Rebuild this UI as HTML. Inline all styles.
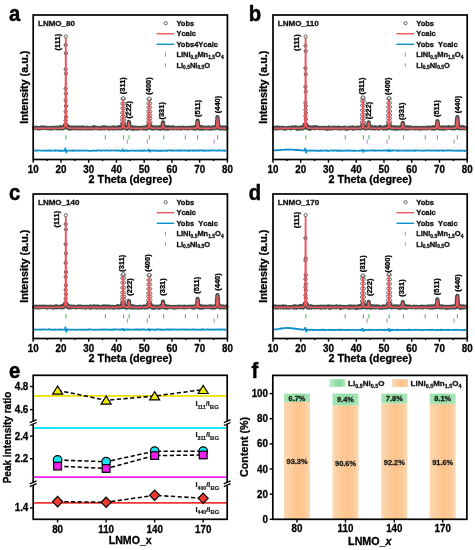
<!DOCTYPE html>
<html><head><meta charset="utf-8"><style>
html,body{margin:0;padding:0;background:#fff;}
svg{display:block;will-change:transform;font-family:"Liberation Sans", sans-serif;}
</style></head><body>
<svg width="475" height="550" viewBox="0 0 475 550">
<rect width="475" height="550" fill="#fff"/>
<g transform="translate(0 0)">
<text transform="translate(8.9 20.6) scale(0.92 1)" font-size="22" font-weight="bold" fill="#000" stroke="#000" stroke-width="0.5">a</text>
<text x="38" y="25.5" font-size="8" text-anchor="start" font-weight="bold" fill="#111" stroke="#111" stroke-width="0.3">LNMO_80</text>
<circle cx="165.7" cy="23.2" r="1.6" fill="none" stroke="#555" stroke-width="0.9"/>
<text x="176.4" y="25.8" font-size="7.5" text-anchor="start" font-weight="bold" fill="#111" stroke="#111" stroke-width="0.3">Yobs</text>
<line x1="156.7" y1="33.7" x2="174.2" y2="33.7" stroke="#ea585e" stroke-width="1.4"/>
<text x="176.4" y="36.2" font-size="7.5" text-anchor="start" font-weight="bold" fill="#111" stroke="#111" stroke-width="0.3">Ycalc</text>
<line x1="156.7" y1="44.3" x2="174.2" y2="44.3" stroke="#0a8fca" stroke-width="1.4"/>
<text x="176.4" y="46.7" font-size="7.5" text-anchor="start" font-weight="bold" fill="#111" xml:space="preserve" stroke="#111" stroke-width="0.3">Yobs4Ycalc</text>
<line x1="165.5" y1="52.6" x2="165.5" y2="56.4" stroke="#4fbf5f" stroke-width="1"/>
<text x="176.4" y="57" font-size="7.5" text-anchor="start" font-weight="bold" fill="#111" stroke="#111" stroke-width="0.3">LiNi<tspan font-size="4.9" dy="1.9">0.5</tspan><tspan dy="-1.9">Mn</tspan><tspan font-size="4.9" dy="1.9">1.5</tspan><tspan dy="-1.9">O</tspan><tspan font-size="4.9" dy="1.9">4</tspan></text>
<line x1="165.5" y1="63.2" x2="165.5" y2="67.0" stroke="#b98ad8" stroke-width="1"/>
<text x="176.4" y="67.5" font-size="7.5" text-anchor="start" font-weight="bold" fill="#111" stroke="#111" stroke-width="0.3">Li<tspan font-size="4.9" dy="1.9">0.5</tspan><tspan dy="-1.9">Ni</tspan><tspan font-size="4.9" dy="1.9">0.5</tspan><tspan dy="-1.9">O</tspan></text>
<polyline points="34,127.92 34.6,128.15 35.2,127.93 35.8,127.9 36.4,127.72 37,127.93 37.6,128.33 38.2,128.12 38.8,128.31 39.4,128.07 40,128.11 40.6,128.05 41.2,127.5 41.8,128.25 42.4,128.15 43,128.14 43.6,127.49 44.2,127.47 44.8,127.73 45.4,127.85 46,128.09 46.6,127.98 47.2,128.15 47.8,127.8 48.4,128.08 49,128.11 49.6,127.79 50.2,128.51 50.8,128.16 51.4,128.35 52,127.8 52.6,127.76 53.2,127.88 53.8,127.95 54.4,128.17 55,128.05 55.6,127.84 56.2,127.69 56.8,127.81 57.4,128.33 58,127.72 58.6,128.03 59.2,128.07 59.8,127.49 60,127.95 60.2,128.32 60.4,127.32 60.6,127.82 60.8,127.88 61,127.65 61.2,128.04 61.4,127.86 61.6,127.43 61.8,128.1 62,128.04 62.2,128.1 62.4,128.23 62.6,127.88 62.8,127.78 62.85,127.34 62.9,127.91 62.95,127.53 63,127.57 63.05,127.32 63.1,127.39 63.15,127.51 63.2,128.05 63.25,127.04 63.3,127.19 63.35,127.69 63.4,128.03 63.45,127.76 63.5,127 63.55,126.79 63.6,127.63 63.65,127.28 63.7,127.14 63.75,127.75 63.8,127.76 63.85,127.44 63.9,127.44 63.95,127.46 64,127.77 64.05,127.44 64.1,127.37 64.15,127.33 64.2,126.64 64.25,127.44 64.3,127.28 64.35,127.08 64.4,126.25 64.45,126.57 64.5,126.92 64.55,126.02 64.6,126.39 64.65,126.62 64.7,125.77 64.75,126.47 64.8,125.96 64.85,125.52 64.9,125.4 64.95,125.19 65,125.04 65.05,125.34 65.1,124.8 65.15,124.87 65.2,125.31 65.25,125.01 65.3,124.74 65.35,125.28 65.4,125.44 65.45,124.87 65.5,124.59 65.55,124.96 65.6,124.95 65.65,124.91 65.7,125.42 65.75,124.69 65.8,125.38 65.85,124.62 65.9,124.76 65.95,125.19 66,125.34 66.05,125.26 66.1,125.1 66.15,125.04 66.2,125.05 66.25,125.17 66.3,124.95 66.35,125.08 66.4,125.17 66.45,125 66.5,125.23 66.55,125.17 66.6,125.6 66.65,125.1 66.7,125.18 66.75,125.45 66.8,125.79 66.85,126.27 66.9,126.06 66.95,126.43 67,127 67.05,125.79 67.1,126.33 67.15,126.83 67.2,126.97 67.25,126.99 67.3,126.86 67.35,127.25 67.4,127.2 67.45,127.01 67.5,127.94 67.55,127.36 67.6,127.13 67.65,127.3 67.7,127.3 67.75,127.38 67.8,126.61 67.85,127.31 67.9,127.78 67.95,127.15 68,127.51 68.05,127.83 68.1,127.82 68.15,128.03 68.2,127.09 68.25,127.51 68.3,127.53 68.35,127.83 68.4,127.99 68.45,126.87 68.5,128.01 68.55,127.26 68.6,127.91 68.65,127.27 68.7,127.78 68.75,128.09 68.8,127.7 68.85,127.81 69.05,128.02 69.25,127.85 69.45,127.8 69.65,128.3 69.85,128.17 70.05,127.78 70.25,128.71 70.45,127.55 70.65,128.18 70.85,127.83 71.05,127.95 71.25,128.13 71.45,127.99 71.65,128.12 71.85,127.48 72.45,127.49 73.05,128.14 73.65,127.67 74.25,127.66 74.85,127.53 75.45,128.35 76.05,128.2 76.65,128.42 77.25,127.7 77.85,127.98 78.45,127.64 79.05,128.22 79.65,128.46 80.25,127.72 80.85,128.46 81.45,128.29 82.05,127.94 82.65,127.4 83.25,128.41 83.85,127.96 84.45,127.81 85.05,128.11 85.65,128.12 86.25,128.44 86.85,127.69 87.45,128.33 88.05,128.44 88.65,128.43 89.25,127.94 89.85,127.77 90.45,128.3 91.05,128.03 91.65,128.03 92.25,128.42 92.85,127.92 93.45,127.31 94.05,127.88 94.65,127.44 95.25,128.24 95.85,128.09 96.45,127.81 97.05,127.99 97.65,128.25 98.25,128.02 98.85,128.39 99.45,127.98 100.05,128.31 100.65,128.44 101.25,128.48 101.85,127.79 102.45,128.26 103.05,127.43 103.65,127.67 104.25,127.41 104.85,128.32 105.45,127.62 106.05,127.99 106.65,127.94 107.25,127.98 107.85,127.82 108.45,128.06 109.05,128.53 109.65,128.01 110.25,128.15 110.85,128.29 111.45,127.93 112.05,127.61 112.65,127.82 113.25,128.31 113.85,127.49 114.45,127.8 115.05,128.28 115.65,128.22 116.25,127.98 116.85,128.21 117.45,128.02 117.65,127.61 117.85,127.49 118.05,127.77 118.25,128.23 118.45,127.78 118.65,127.68 118.85,127.71 119.05,127.48 119.25,127.9 119.45,127.57 119.65,128.03 119.85,127.2 120.05,128 120.25,127.7 120.3,127.3 120.35,128.1 120.4,127.79 120.45,127.2 120.5,127.6 120.55,127.95 120.6,127.72 120.65,128.09 120.7,128.07 120.75,128.04 120.8,127.93 120.85,128.23 120.9,128.02 120.95,127.95 121,127.18 121.05,128.06 121.1,128.18 121.15,127.69 121.2,127.62 121.25,128.34 121.3,127.21 121.35,127.87 121.4,128.44 121.45,127.42 121.5,127.89 121.55,128.23 121.6,127.6 121.65,127.79 121.7,127.86 121.75,127.29 121.8,127.51 121.85,127.59 121.9,127.71 121.95,127.41 122,127.32 122.05,127.02 122.1,127.16 122.15,127.47 122.2,127.15 122.25,126.78 122.3,126.68 122.35,127.61 122.4,127.01 122.45,126.68 122.5,125.48 122.55,126.14 122.6,125.68 122.65,125.49 122.7,125.12 122.75,124.97 122.8,125.14 122.85,124.4 122.9,125.3 122.95,125.09 123,124.78 123.05,125.38 123.1,125.53 123.15,124.57 123.2,124.79 123.25,125.07 123.3,125.04 123.35,124.87 123.4,124.69 123.45,125.62 123.5,125.3 123.55,124.63 123.6,124.58 123.65,125.5 123.7,125.28 123.75,125.53 123.8,125.77 123.85,125.69 123.9,126.33 123.95,125.83 124,126.43 124.05,126.79 124.1,127.08 124.15,126.81 124.2,127.08 124.25,127.33 124.3,127.37 124.35,127.51 124.4,127.43 124.45,127.32 124.5,127.69 124.55,127.5 124.6,127.27 124.65,127.36 124.7,127.58 124.75,127.57 124.8,127.67 124.85,127.65 124.9,127.72 124.95,127.64 125,127.32 125.05,127.84 125.1,128.04 125.15,127.86 125.2,127.69 125.25,127.89 125.3,127.47 125.35,127.2 125.4,127.8 125.45,127.51 125.5,128.02 125.55,127.48 125.6,127.02 125.65,127.5 125.7,128.29 125.75,127.71 125.8,127.42 125.85,127.6 125.9,127.99 125.95,127.99 126,127.89 126.05,128.29 126.1,128.06 126.15,127.84 126.2,128.03 126.25,128.35 126.3,128.14 126.35,128.16 126.4,127.53 126.45,127.81 126.5,128.07 126.55,127.77 126.6,128.17 126.65,128.03 126.7,128.13 126.75,127.79 126.8,128.61 126.85,128.22 126.9,127.78 126.95,127.87 127,128.62 127.05,127.73 127.1,128.1 127.15,128.12 127.2,127.83 127.25,127.47 127.3,127.87 127.35,127.92 127.4,128.14 127.45,128.03 127.5,127.79 127.55,128.03 127.6,127.92 127.65,127.81 127.7,127.75 127.75,127.64 127.8,127.9 127.85,127.35 127.9,127.45 127.95,127.61 128,127.12 128.05,127.37 128.1,126.83 128.15,127.14 128.2,127.4 128.25,127.24 128.3,126.87 128.35,126.58 128.4,125.94 128.45,126.57 128.5,125.77 128.55,125.49 128.6,124.4 128.65,124.09 128.7,123.08 128.75,123.37 128.8,123.01 128.85,121.89 128.9,122.35 128.95,122.65 129,122.21 129.05,122.59 129.1,123.31 129.15,123.96 129.2,124.25 129.25,125.18 129.3,125.7 129.35,126.22 129.4,126.58 129.45,127.11 129.5,127.25 129.55,126.69 129.6,127.09 129.65,127.04 129.7,127.13 129.75,127.5 129.8,127.58 129.85,127.77 129.9,127.18 129.95,127.32 130,127.71 130.05,127.68 130.1,127.66 130.15,127.75 130.2,127.56 130.25,128.01 130.3,127.92 130.35,127.8 130.4,127.63 130.45,127.79 130.5,127.03 130.55,127.56 130.6,127.88 130.65,127.42 130.7,127.94 130.75,127.93 130.8,127.47 130.85,127.82 130.9,127.8 130.95,128.04 131,128.09 131.05,127.9 131.1,127.66 131.15,127.87 131.2,127.9 131.25,128.14 131.3,128.01 131.35,127.71 131.4,127.52 131.45,127.82 131.5,127.71 131.55,127.6 131.6,127.9 131.65,127.79 131.7,127.97 131.75,128.1 131.8,127.82 131.85,128.64 131.9,127.85 131.95,128.28 132.15,127.99 132.35,128.29 132.55,127.25 132.75,127.74 132.95,128.04 133.15,128.15 133.35,128.67 133.55,128.07 133.75,128.36 133.95,128.2 134.15,128.26 134.35,128.13 134.55,127.93 134.75,128.13 134.95,127.65 135.55,128.33 136.15,127.68 136.75,128.06 137.35,128.62 137.95,127.91 138.55,127.99 139.15,128.33 139.75,127.99 140.35,127.74 140.95,128.05 141.55,128.15 142.15,128.19 142.75,127.74 143.35,128.49 143.55,128.46 143.75,127.96 143.95,128.04 144.15,127.82 144.35,128.37 144.55,127.73 144.75,128.14 144.95,127.79 145.15,127.72 145.35,128.14 145.55,128.32 145.75,127.91 145.95,127.69 146.15,128.13 146.35,127.86 146.4,127.96 146.45,128.32 146.5,128.2 146.55,127.7 146.6,128.53 146.65,127.84 146.7,128.07 146.75,127.63 146.8,127.81 146.85,127.29 146.9,128.34 146.95,128.21 147,127.43 147.05,127.33 147.1,127.29 147.15,128.11 147.2,127.61 147.25,127.72 147.3,127.63 147.35,127.68 147.4,127.37 147.45,127.69 147.5,127.23 147.55,127.62 147.6,127.72 147.65,127.74 147.7,127.51 147.75,127.28 147.8,127.57 147.85,127.35 147.9,127.93 147.95,127.65 148,127.34 148.05,127.18 148.1,127.06 148.15,126.93 148.2,127.04 148.25,127.15 148.3,127.13 148.35,127.04 148.4,127.38 148.45,126.39 148.5,126.43 148.55,127.03 148.6,125.33 148.65,125.34 148.7,125.05 148.75,125.04 148.8,125.12 148.85,124.92 148.9,125.1 148.95,125.01 149,125.23 149.05,124.43 149.1,124.73 149.15,124.99 149.2,124.69 149.25,124.68 149.3,125.18 149.35,124.8 149.4,125.19 149.45,125.22 149.5,125.09 149.55,125.15 149.6,124.96 149.65,124.57 149.7,124.99 149.75,125.13 149.8,124.84 149.85,124.96 149.9,125.22 149.95,125.23 150,126.09 150.05,126.75 150.1,126.25 150.15,126.65 150.2,126.7 150.25,127.33 150.3,127.07 150.35,127.33 150.4,126.93 150.45,127.21 150.5,127.27 150.55,126.79 150.6,127.81 150.65,127.69 150.7,126.93 150.75,127.71 150.8,127.48 150.85,127.69 150.9,127.69 150.95,127.15 151,127.56 151.05,128.09 151.1,127.49 151.15,127.37 151.2,127.29 151.25,127.35 151.3,127.83 151.35,128.25 151.4,127.88 151.45,127.83 151.5,128.44 151.55,127.63 151.6,127.59 151.65,127.96 151.7,127.97 151.75,127.51 151.8,127.47 151.85,127.91 151.9,127.91 151.95,127.45 152,127.78 152.05,127.69 152.1,127.99 152.15,127.83 152.2,127.84 152.25,127.76 152.3,128.19 152.5,128.3 152.7,127.79 152.9,128.16 153.1,127.69 153.3,127.95 153.5,128.16 153.7,128.39 153.9,127.83 154.1,127.92 154.3,128.01 154.5,127.5 154.7,127.96 154.9,127.75 155.1,128.07 155.3,127.62 155.9,127.37 156.5,127.98 157.1,128.05 157.3,127.8 157.5,128.24 157.7,127.89 157.9,127.79 158.1,128.11 158.3,127.5 158.5,127.76 158.7,127.96 158.9,128.22 159.1,127.91 159.3,128.05 159.5,127.76 159.7,128.04 159.9,128.45 160.1,127.74 160.15,128.65 160.2,127.75 160.25,127.94 160.3,127.99 160.35,128.24 160.4,127.56 160.45,127.3 160.5,128.11 160.55,128.16 160.6,128.11 160.65,128.71 160.7,127.98 160.75,127.99 160.8,128.19 160.85,128.02 160.9,128.4 160.95,127.53 161,127.78 161.05,126.86 161.1,128.13 161.15,127.77 161.2,128.15 161.25,128.51 161.3,127.86 161.35,127.78 161.4,127.69 161.45,127.58 161.5,127.64 161.55,128.01 161.6,127.81 161.65,127.81 161.7,127.72 161.75,128.03 161.8,127.88 161.85,127.67 161.9,127.89 161.95,127.61 162,127.27 162.05,128 162.1,127.64 162.15,127.14 162.2,127.66 162.25,127.32 162.3,126.61 162.35,127.39 162.4,126.8 162.45,126.72 162.5,126.23 162.55,125.8 162.6,125.03 162.65,125.4 162.7,124.71 162.75,124.2 162.8,123.99 162.85,123.56 162.9,123.45 162.95,122.95 163,122.98 163.05,122.42 163.1,123.12 163.15,123.74 163.2,124.29 163.25,124.18 163.3,124.66 163.35,125.58 163.4,125.39 163.45,126.07 163.5,126.67 163.55,126.47 163.6,127.07 163.65,126.69 163.7,127.14 163.75,127.2 163.8,127.37 163.85,127.77 163.9,128.22 163.95,127.37 164,127.44 164.05,127.8 164.1,127.37 164.15,127.86 164.2,127.91 164.25,127.67 164.3,127.93 164.35,127.33 164.4,128.03 164.45,127.35 164.5,127.62 164.55,127.67 164.6,127.73 164.65,128.11 164.7,127.89 164.75,127.75 164.8,128.04 164.85,128.36 164.9,127.89 164.95,128 165,128.27 165.05,127.98 165.1,127.52 165.15,128.66 165.2,128.58 165.25,127.32 165.3,127.91 165.35,128.05 165.4,128.22 165.45,128.13 165.5,127.85 165.55,127.62 165.6,127.97 165.65,128.25 165.7,127.61 165.75,127.63 165.8,127.94 165.85,127.36 165.9,127.87 165.95,127.82 166,128.09 166.2,127.75 166.4,127.7 166.6,127.85 166.8,127.95 167,127.77 167.2,127.98 167.4,128.2 167.6,128.33 167.8,128.49 168,127.74 168.2,127.85 168.4,127.24 168.6,128.55 168.8,127.77 169,127.97 169.6,128.14 170.2,127.58 170.8,128.13 171.4,127.98 172,127.44 172.6,128.08 173.2,128.35 173.8,127.43 174.4,128.23 175,128.06 175.6,128.14 176.2,128.13 176.8,128.38 177.4,127.93 178,128.26 178.6,127.87 179.2,128.21 179.8,127.75 180.4,127.96 181,128.51 181.6,128.13 182.2,127.95 182.8,127.65 183.4,127.76 184,128.05 184.6,128.27 185.2,128.12 185.8,128.15 186.4,127.98 187,128.4 187.6,127.87 188.2,127.82 188.8,128.26 189.4,128.01 190,127.9 190.6,127.81 191.2,127.9 191.8,128.17 192,128.08 192.2,127.61 192.4,128.1 192.6,128.03 192.8,127.67 193,128.2 193.2,127.88 193.4,127.86 193.6,128.2 193.8,128.35 194,127.74 194.2,128.08 194.4,127.67 194.6,128.62 194.65,127.78 194.7,128.28 194.75,127.73 194.8,128.16 194.85,128.58 194.9,127.15 194.95,127.78 195,128.06 195.05,127.88 195.1,127.7 195.15,128.54 195.2,127.92 195.25,127.4 195.3,128.14 195.35,127.36 195.4,128.22 195.45,127.7 195.5,127.91 195.55,128.23 195.6,127.88 195.65,127.42 195.7,127.33 195.75,128.18 195.8,128.04 195.85,127.56 195.9,128.05 195.95,127.93 196,127.97 196.05,127.08 196.1,127.65 196.15,128 196.2,127.93 196.25,127.95 196.3,126.93 196.35,127.69 196.4,127.75 196.45,128.33 196.5,127.24 196.55,127.37 196.6,127.41 196.65,127.59 196.7,127.09 196.75,127.45 196.8,126.72 196.85,126.86 196.9,126.4 196.95,126.35 197,125.8 197.05,125.18 197.1,125.6 197.15,124.92 197.2,124.19 197.25,123.91 197.3,123.62 197.35,122.5 197.4,122.26 197.45,122.02 197.5,121.66 197.55,121.17 197.6,120.56 197.65,121.65 197.7,121.6 197.75,121.86 197.8,122.21 197.85,122.87 197.9,123.19 197.95,123.54 198,124.13 198.05,124.65 198.1,125.08 198.15,125.31 198.2,126.2 198.25,125.91 198.3,126.76 198.35,126.47 198.4,127.06 198.45,127.52 198.5,127.28 198.55,127.1 198.6,127.42 198.65,127.51 198.7,127 198.75,127.38 198.8,127.65 198.85,127.49 198.9,127.69 198.95,127.91 199,127.94 199.05,128 199.1,127.92 199.15,127.67 199.2,127.77 199.25,127.7 199.3,127.7 199.35,127.75 199.4,127.3 199.45,127.72 199.5,127.83 199.55,127.55 199.6,127.84 199.65,128.01 199.7,127.81 199.75,128.49 199.8,127.09 199.85,127.82 199.9,127.34 199.95,128.18 200,128.69 200.05,127.15 200.1,127.94 200.15,128.06 200.2,127.82 200.25,128.08 200.3,127.24 200.35,128.17 200.4,128.03 200.45,127.93 200.5,127.75 200.55,128.12 200.6,127.78 200.8,128 201,127.79 201.2,127.27 201.4,127.94 201.6,128.02 201.8,128.19 202,127.7 202.2,127.96 202.4,128.15 202.6,128.01 202.8,128.34 203,128.57 203.2,127.7 203.4,127.4 203.6,128.23 204.2,128.44 204.8,128.26 205.4,128.23 206,127.8 206.6,127.77 207.2,128.25 207.8,127.71 208.4,127.44 209,127.68 209.6,128.72 210.2,128.55 210.8,127.76 211.4,127.75 212,128.03 212.2,127.73 212.4,128.34 212.6,127.92 212.8,127.62 213,128.33 213.2,127.76 213.4,127.99 213.6,127.92 213.8,127.82 214,128 214.2,127.68 214.4,127.32 214.6,127.2 214.65,127.47 214.7,127.62 214.75,127.84 214.8,127.85 214.85,128 214.9,127.86 214.95,127.58 215,127.6 215.05,127.17 215.1,127.75 215.15,127.93 215.2,127.94 215.25,127.73 215.3,127.71 215.35,128.03 215.4,127.74 215.45,127.95 215.5,127.89 215.55,127.76 215.6,128.08 215.65,127.5 215.7,127.54 215.75,127.39 215.8,127.37 215.85,128.06 215.9,128.09 215.95,127.55 216,127.68 216.05,127.83 216.1,127.68 216.15,127.76 216.2,126.96 216.25,127.09 216.3,127.35 216.35,127.56 216.4,127.07 216.45,126.66 216.5,126.67 216.55,126.41 216.6,126.15 216.65,126.61 216.7,125.69 216.75,125.55 216.8,125.8 216.85,125.06 216.9,124.3 216.95,123.46 217,123.15 217.05,122.85 217.1,121.84 217.15,121.3 217.2,120.22 217.25,119.63 217.3,118.75 217.35,118.36 217.4,118.17 217.45,117.07 217.5,117.38 217.55,117.57 217.6,117.61 217.65,118.14 217.7,119.04 217.75,120.07 217.8,120.38 217.85,121.02 217.9,121.19 217.95,122.94 218,123.05 218.05,123.63 218.1,123.87 218.15,124.69 218.2,124.82 218.25,125.56 218.3,126.01 218.35,126.17 218.4,126.49 218.45,126.35 218.5,127.21 218.55,126.72 218.6,126.49 218.65,127.08 218.7,126.99 218.75,126.98 218.8,127.24 218.85,127.48 218.9,127.08 218.95,127.43 219,127.94 219.05,127.74 219.1,127.52 219.15,127.63 219.2,127.58 219.25,127.62 219.3,127.87 219.35,127.64 219.4,126.96 219.45,127.69 219.5,127.45 219.55,127.92 219.6,127.56 219.65,127.8 219.7,128.42 219.75,127.46 219.8,127.44 219.85,127.37 219.9,127.08 219.95,127.24 220,127.92 220.05,127.63 220.1,127.27 220.15,127.39 220.2,128.02 220.25,127.61 220.3,127.74 220.35,127.95 220.4,128.27 220.45,128.45 220.5,128.18 220.7,127.93 220.9,127.95 221.1,128.45 221.3,128.35 221.5,127.83 221.7,128.07 221.9,128.02 222.1,127.96 222.3,127.8 222.5,127.55 222.7,127.79 222.9,127.49 223.1,128.33 223.3,128.12 223.5,127.6 224.1,128.39 224.7,128.24 225.3,127.41 225.9,128.53 226.5,128.23" fill="none" stroke="#404c4a" stroke-width="4.2" stroke-linejoin="round" stroke-linecap="round"/>
<circle cx="65.65" cy="45.1" r="1.55" fill="none" stroke="#444" stroke-width="1.0"/>
<circle cx="65.95" cy="53.3" r="1.55" fill="none" stroke="#444" stroke-width="1.0"/>
<circle cx="65.65" cy="69.3" r="1.55" fill="none" stroke="#444" stroke-width="1.0"/>
<circle cx="65.95" cy="73.6" r="1.55" fill="none" stroke="#444" stroke-width="1.0"/>
<circle cx="65.65" cy="88.7" r="1.55" fill="none" stroke="#444" stroke-width="1.0"/>
<circle cx="65.95" cy="93.6" r="1.55" fill="none" stroke="#444" stroke-width="1.0"/>
<circle cx="65.65" cy="100.5" r="1.55" fill="none" stroke="#444" stroke-width="1.0"/>
<circle cx="65.95" cy="106" r="1.55" fill="none" stroke="#444" stroke-width="1.0"/>
<circle cx="65.65" cy="111.5" r="1.55" fill="none" stroke="#444" stroke-width="1.0"/>
<circle cx="65.95" cy="116.9" r="1.55" fill="none" stroke="#444" stroke-width="1.0"/>
<circle cx="65.65" cy="120.5" r="1.55" fill="none" stroke="#444" stroke-width="1.0"/>
<circle cx="122.2" cy="98.79" r="1.3" fill="none" stroke="#505050" stroke-width="0.85"/>
<circle cx="122.08" cy="103.73" r="1.3" fill="none" stroke="#505050" stroke-width="0.85"/>
<circle cx="122.02" cy="108.28" r="1.3" fill="none" stroke="#505050" stroke-width="0.85"/>
<circle cx="121.96" cy="112.82" r="1.3" fill="none" stroke="#505050" stroke-width="0.85"/>
<circle cx="121.9" cy="116.81" r="1.3" fill="none" stroke="#505050" stroke-width="0.85"/>
<circle cx="121.84" cy="119.98" r="1.3" fill="none" stroke="#505050" stroke-width="0.85"/>
<circle cx="121.75" cy="123.25" r="1.3" fill="none" stroke="#505050" stroke-width="0.85"/>
<circle cx="124.2" cy="98.79" r="1.3" fill="none" stroke="#505050" stroke-width="0.85"/>
<circle cx="124.32" cy="103.73" r="1.3" fill="none" stroke="#505050" stroke-width="0.85"/>
<circle cx="124.38" cy="108.27" r="1.3" fill="none" stroke="#505050" stroke-width="0.85"/>
<circle cx="124.44" cy="112.82" r="1.3" fill="none" stroke="#505050" stroke-width="0.85"/>
<circle cx="124.5" cy="116.8" r="1.3" fill="none" stroke="#505050" stroke-width="0.85"/>
<circle cx="124.56" cy="119.98" r="1.3" fill="none" stroke="#505050" stroke-width="0.85"/>
<circle cx="124.65" cy="123.24" r="1.3" fill="none" stroke="#505050" stroke-width="0.85"/>
<circle cx="148.3" cy="99.29" r="1.3" fill="none" stroke="#505050" stroke-width="0.85"/>
<circle cx="148.18" cy="103.41" r="1.3" fill="none" stroke="#505050" stroke-width="0.85"/>
<circle cx="148.12" cy="107.37" r="1.3" fill="none" stroke="#505050" stroke-width="0.85"/>
<circle cx="148.06" cy="111.51" r="1.3" fill="none" stroke="#505050" stroke-width="0.85"/>
<circle cx="148" cy="115.32" r="1.3" fill="none" stroke="#505050" stroke-width="0.85"/>
<circle cx="147.94" cy="118.53" r="1.3" fill="none" stroke="#505050" stroke-width="0.85"/>
<circle cx="147.85" cy="122.09" r="1.3" fill="none" stroke="#505050" stroke-width="0.85"/>
<circle cx="147.7" cy="125.24" r="1.3" fill="none" stroke="#505050" stroke-width="0.85"/>
<circle cx="150.3" cy="99.29" r="1.3" fill="none" stroke="#505050" stroke-width="0.85"/>
<circle cx="150.42" cy="103.41" r="1.3" fill="none" stroke="#505050" stroke-width="0.85"/>
<circle cx="150.48" cy="107.37" r="1.3" fill="none" stroke="#505050" stroke-width="0.85"/>
<circle cx="150.54" cy="111.51" r="1.3" fill="none" stroke="#505050" stroke-width="0.85"/>
<circle cx="150.6" cy="115.32" r="1.3" fill="none" stroke="#505050" stroke-width="0.85"/>
<circle cx="150.66" cy="118.53" r="1.3" fill="none" stroke="#505050" stroke-width="0.85"/>
<circle cx="150.75" cy="122.09" r="1.3" fill="none" stroke="#505050" stroke-width="0.85"/>
<circle cx="150.9" cy="125.24" r="1.3" fill="none" stroke="#505050" stroke-width="0.85"/>
<polyline points="34,128.3 34.6,128.3 35.2,128.3 35.8,128.3 36.4,128.3 37,128.3 37.6,128.3 38.2,128.3 38.8,128.3 39.4,128.3 40,128.3 40.6,128.3 41.2,128.3 41.8,128.3 42.4,128.3 43,128.3 43.6,128.29 44.2,128.29 44.8,128.29 45.4,128.29 46,128.29 46.6,128.29 47.2,128.29 47.8,128.29 48.4,128.29 49,128.29 49.6,128.29 50.2,128.29 50.8,128.29 51.4,128.29 52,128.29 52.6,128.29 53.2,128.28 53.8,128.28 54.4,128.28 55,128.28 55.6,128.28 56.2,128.27 56.8,128.27 57.4,128.27 58,128.26 58.6,128.25 59.2,128.25 59.8,128.24 60,128.23 60.2,128.23 60.4,128.22 60.6,128.21 60.8,128.21 61,128.2 61.2,128.19 61.4,128.18 61.6,128.17 61.8,128.15 62,128.14 62.2,128.12 62.4,128.1 62.6,128.07 62.8,128.04 62.85,128.03 62.9,128.03 62.95,128.02 63,128.01 63.05,127.99 63.1,127.98 63.15,127.97 63.2,127.96 63.25,127.95 63.3,127.93 63.35,127.92 63.4,127.9 63.45,127.88 63.5,127.87 63.55,127.85 63.6,127.83 63.65,127.8 63.7,127.78 63.75,127.75 63.8,127.73 63.85,127.7 63.9,127.67 63.95,127.63 64,127.59 64.05,127.55 64.1,127.51 64.15,127.46 64.2,127.41 64.25,127.35 64.3,127.29 64.35,127.22 64.4,127.15 64.45,127.06 64.5,126.97 64.55,126.86 64.6,126.74 64.65,126.61 64.7,126.46 64.75,126.29 64.8,126.09 64.85,125.87 64.9,125.6 64.95,125.3 65,124.93 65.05,124.5 65.1,123.95 65.15,123.26 65.2,122.32 65.25,121.01 65.3,119.09 65.35,116.28 65.4,112.17 65.45,106.35 65.5,98.45 65.55,88.34 65.6,76.23 65.65,62.93 65.7,50.11 65.75,40.4 65.8,36.7 65.85,40.4 65.9,50.11 65.95,62.93 66,76.23 66.05,88.34 66.1,98.45 66.15,106.35 66.2,112.17 66.25,116.28 66.3,119.09 66.35,121.01 66.4,122.32 66.45,123.26 66.5,123.95 66.55,124.5 66.6,124.93 66.65,125.3 66.7,125.6 66.75,125.87 66.8,126.09 66.85,126.29 66.9,126.46 66.95,126.61 67,126.74 67.05,126.86 67.1,126.97 67.15,127.06 67.2,127.15 67.25,127.22 67.3,127.29 67.35,127.35 67.4,127.41 67.45,127.46 67.5,127.51 67.55,127.55 67.6,127.59 67.65,127.63 67.7,127.67 67.75,127.7 67.8,127.73 67.85,127.75 67.9,127.78 67.95,127.8 68,127.83 68.05,127.85 68.1,127.87 68.15,127.88 68.2,127.9 68.25,127.92 68.3,127.93 68.35,127.95 68.4,127.96 68.45,127.97 68.5,127.98 68.55,127.99 68.6,128.01 68.65,128.02 68.7,128.03 68.75,128.03 68.8,128.04 68.85,128.05 69.05,128.08 69.25,128.11 69.45,128.13 69.65,128.14 69.85,128.16 70.05,128.17 70.25,128.18 70.45,128.19 70.65,128.2 70.85,128.21 71.05,128.22 71.25,128.22 71.45,128.23 71.65,128.23 71.85,128.24 72.45,128.25 73.05,128.26 73.65,128.26 74.25,128.27 74.85,128.27 75.45,128.27 76.05,128.28 76.65,128.28 77.25,128.28 77.85,128.28 78.45,128.28 79.05,128.29 79.65,128.29 80.25,128.29 80.85,128.29 81.45,128.29 82.05,128.29 82.65,128.29 83.25,128.29 83.85,128.29 84.45,128.29 85.05,128.29 85.65,128.29 86.25,128.29 86.85,128.29 87.45,128.29 88.05,128.29 88.65,128.29 89.25,128.29 89.85,128.29 90.45,128.29 91.05,128.29 91.65,128.29 92.25,128.29 92.85,128.3 93.45,128.3 94.05,128.3 94.65,128.3 95.25,128.3 95.85,128.3 96.45,128.3 97.05,128.3 97.65,128.3 98.25,128.3 98.85,128.3 99.45,128.3 100.05,128.3 100.65,128.3 101.25,128.3 101.85,128.29 102.45,128.29 103.05,128.29 103.65,128.29 104.25,128.29 104.85,128.29 105.45,128.29 106.05,128.29 106.65,128.29 107.25,128.29 107.85,128.29 108.45,128.29 109.05,128.29 109.65,128.29 110.25,128.29 110.85,128.29 111.45,128.29 112.05,128.29 112.65,128.29 113.25,128.29 113.85,128.29 114.45,128.28 115.05,128.28 115.65,128.28 116.25,128.28 116.85,128.27 117.45,128.27 117.65,128.27 117.85,128.26 118.05,128.26 118.25,128.26 118.45,128.25 118.65,128.25 118.85,128.25 119.05,128.24 119.25,128.24 119.45,128.23 119.65,128.22 119.85,128.21 120.05,128.2 120.25,128.19 120.3,128.18 120.35,128.18 120.4,128.18 120.45,128.17 120.5,128.17 120.55,128.16 120.6,128.16 120.65,128.15 120.7,128.15 120.75,128.14 120.8,128.13 120.85,128.13 120.9,128.12 120.95,128.11 121,128.1 121.05,128.1 121.1,128.09 121.15,128.08 121.2,128.06 121.25,128.05 121.3,128.04 121.35,128.03 121.4,128.01 121.45,128 121.5,127.98 121.55,127.96 121.6,127.94 121.65,127.92 121.7,127.89 121.75,127.86 121.8,127.83 121.85,127.8 121.9,127.76 121.95,127.72 122,127.68 122.05,127.62 122.1,127.57 122.15,127.5 122.2,127.42 122.25,127.33 122.3,127.23 122.35,127.11 122.4,126.96 122.45,126.79 122.5,126.56 122.55,126.25 122.6,125.83 122.65,125.25 122.7,124.42 122.75,123.25 122.8,121.64 122.85,119.51 122.9,116.81 122.95,113.54 123,109.83 123.05,105.95 123.1,102.37 123.15,99.76 123.2,98.79 123.25,99.76 123.3,102.37 123.35,105.95 123.4,109.83 123.45,113.54 123.5,116.8 123.55,119.51 123.6,121.64 123.65,123.24 123.7,124.41 123.75,125.24 123.8,125.83 123.85,126.25 123.9,126.55 123.95,126.78 124,126.96 124.05,127.1 124.1,127.22 124.15,127.33 124.2,127.41 124.25,127.49 124.3,127.56 124.35,127.61 124.4,127.67 124.45,127.71 124.5,127.75 124.55,127.79 124.6,127.82 124.65,127.85 124.7,127.88 124.75,127.9 124.8,127.93 124.85,127.95 124.9,127.96 124.95,127.98 125,128 125.05,128.01 125.1,128.02 125.15,128.03 125.2,128.05 125.25,128.06 125.3,128.06 125.35,128.07 125.4,128.08 125.45,128.09 125.5,128.1 125.55,128.1 125.6,128.11 125.65,128.11 125.7,128.12 125.75,128.12 125.8,128.13 125.85,128.13 125.9,128.13 125.95,128.14 126,128.14 126.05,128.14 126.1,128.14 126.15,128.15 126.2,128.15 126.25,128.15 126.3,128.15 126.35,128.15 126.4,128.15 126.45,128.15 126.5,128.15 126.55,128.15 126.6,128.15 126.65,128.15 126.7,128.15 126.75,128.15 126.8,128.15 126.85,128.15 126.9,128.15 126.95,128.14 127,128.14 127.05,128.14 127.1,128.13 127.15,128.13 127.2,128.13 127.25,128.12 127.3,128.11 127.35,128.11 127.4,128.1 127.45,128.09 127.5,128.08 127.55,128.07 127.6,128.06 127.65,128.05 127.7,128.03 127.75,128.01 127.8,127.99 127.85,127.97 127.9,127.94 127.95,127.9 128,127.86 128.05,127.8 128.1,127.73 128.15,127.64 128.2,127.52 128.25,127.37 128.3,127.18 128.35,126.95 128.4,126.66 128.45,126.32 128.5,125.92 128.55,125.46 128.6,124.97 128.65,124.45 128.7,123.92 128.75,123.44 128.8,123.03 128.85,122.76 128.9,122.67 128.95,122.76 129,123.03 129.05,123.44 129.1,123.93 129.15,124.45 129.2,124.97 129.25,125.47 129.3,125.92 129.35,126.33 129.4,126.67 129.45,126.96 129.5,127.2 129.55,127.39 129.6,127.54 129.65,127.66 129.7,127.75 129.75,127.82 129.8,127.88 129.85,127.92 129.9,127.96 129.95,127.99 130,128.02 130.05,128.04 130.1,128.06 130.15,128.07 130.2,128.09 130.25,128.1 130.3,128.11 130.35,128.12 130.4,128.13 130.45,128.14 130.5,128.15 130.55,128.16 130.6,128.16 130.65,128.17 130.7,128.18 130.75,128.18 130.8,128.19 130.85,128.19 130.9,128.2 130.95,128.2 131,128.2 131.05,128.21 131.1,128.21 131.15,128.21 131.2,128.22 131.25,128.22 131.3,128.22 131.35,128.23 131.4,128.23 131.45,128.23 131.5,128.23 131.55,128.23 131.6,128.24 131.65,128.24 131.7,128.24 131.75,128.24 131.8,128.24 131.85,128.24 131.9,128.25 131.95,128.25 132.15,128.25 132.35,128.26 132.55,128.26 132.75,128.26 132.95,128.26 133.15,128.27 133.35,128.27 133.55,128.27 133.75,128.27 133.95,128.27 134.15,128.27 134.35,128.27 134.55,128.28 134.75,128.28 134.95,128.28 135.55,128.28 136.15,128.28 136.75,128.28 137.35,128.28 137.95,128.28 138.55,128.28 139.15,128.28 139.75,128.28 140.35,128.28 140.95,128.28 141.55,128.28 142.15,128.27 142.75,128.27 143.35,128.26 143.55,128.26 143.75,128.26 143.95,128.26 144.15,128.25 144.35,128.25 144.55,128.25 144.75,128.24 144.95,128.24 145.15,128.23 145.35,128.22 145.55,128.22 145.75,128.21 145.95,128.2 146.15,128.19 146.35,128.17 146.4,128.17 146.45,128.16 146.5,128.16 146.55,128.15 146.6,128.15 146.65,128.14 146.7,128.13 146.75,128.13 146.8,128.12 146.85,128.11 146.9,128.11 146.95,128.1 147,128.09 147.05,128.08 147.1,128.07 147.15,128.06 147.2,128.05 147.25,128.04 147.3,128.03 147.35,128.01 147.4,128 147.45,127.98 147.5,127.96 147.55,127.95 147.6,127.93 147.65,127.9 147.7,127.88 147.75,127.85 147.8,127.82 147.85,127.79 147.9,127.76 147.95,127.72 148,127.67 148.05,127.63 148.1,127.57 148.15,127.51 148.2,127.44 148.25,127.36 148.3,127.27 148.35,127.17 148.4,127.05 148.45,126.9 148.5,126.72 148.55,126.49 148.6,126.19 148.65,125.79 148.7,125.24 148.75,124.49 148.8,123.46 148.85,122.09 148.9,120.3 148.95,118.04 149,115.32 149.05,112.18 149.1,108.76 149.15,105.32 149.2,102.26 149.25,100.09 149.3,99.29 149.35,100.09 149.4,102.26 149.45,105.32 149.5,108.76 149.55,112.18 149.6,115.32 149.65,118.04 149.7,120.3 149.75,122.09 149.8,123.46 149.85,124.49 149.9,125.24 149.95,125.79 150,126.19 150.05,126.49 150.1,126.72 150.15,126.9 150.2,127.05 150.25,127.17 150.3,127.27 150.35,127.36 150.4,127.44 150.45,127.51 150.5,127.57 150.55,127.63 150.6,127.67 150.65,127.72 150.7,127.76 150.75,127.79 150.8,127.82 150.85,127.85 150.9,127.88 150.95,127.9 151,127.92 151.05,127.95 151.1,127.96 151.15,127.98 151.2,128 151.25,128.01 151.3,128.03 151.35,128.04 151.4,128.05 151.45,128.06 151.5,128.07 151.55,128.08 151.6,128.09 151.65,128.1 151.7,128.11 151.75,128.11 151.8,128.12 151.85,128.13 151.9,128.13 151.95,128.14 152,128.15 152.05,128.15 152.1,128.16 152.15,128.16 152.2,128.16 152.25,128.17 152.3,128.17 152.5,128.19 152.7,128.2 152.9,128.21 153.1,128.22 153.3,128.23 153.5,128.23 153.7,128.24 153.9,128.24 154.1,128.25 154.3,128.25 154.5,128.25 154.7,128.25 154.9,128.26 155.1,128.26 155.3,128.26 155.9,128.26 156.5,128.27 157.1,128.27 157.3,128.27 157.5,128.27 157.7,128.27 157.9,128.27 158.1,128.27 158.3,128.27 158.5,128.27 158.7,128.26 158.9,128.26 159.1,128.26 159.3,128.26 159.5,128.26 159.7,128.25 159.9,128.25 160.1,128.24 160.15,128.24 160.2,128.24 160.25,128.24 160.3,128.24 160.35,128.23 160.4,128.23 160.45,128.23 160.5,128.23 160.55,128.22 160.6,128.22 160.65,128.22 160.7,128.22 160.75,128.21 160.8,128.21 160.85,128.21 160.9,128.2 160.95,128.2 161,128.19 161.05,128.19 161.1,128.18 161.15,128.18 161.2,128.17 161.25,128.17 161.3,128.16 161.35,128.15 161.4,128.14 161.45,128.13 161.5,128.12 161.55,128.11 161.6,128.1 161.65,128.09 161.7,128.07 161.75,128.06 161.8,128.04 161.85,128.01 161.9,127.99 161.95,127.95 162,127.91 162.05,127.86 162.1,127.8 162.15,127.73 162.2,127.64 162.25,127.52 162.3,127.38 162.35,127.2 162.4,127 162.45,126.75 162.5,126.47 162.55,126.15 162.6,125.79 162.65,125.41 162.7,125 162.75,124.59 162.8,124.19 162.85,123.83 162.9,123.55 162.95,123.36 163,123.29 163.05,123.36 163.1,123.55 163.15,123.83 163.2,124.19 163.25,124.59 163.3,125 163.35,125.41 163.4,125.79 163.45,126.15 163.5,126.47 163.55,126.75 163.6,127 163.65,127.21 163.7,127.38 163.75,127.52 163.8,127.64 163.85,127.73 163.9,127.81 163.95,127.87 164,127.92 164.05,127.96 164.1,127.99 164.15,128.02 164.2,128.04 164.25,128.06 164.3,128.08 164.35,128.09 164.4,128.1 164.45,128.12 164.5,128.13 164.55,128.14 164.6,128.15 164.65,128.15 164.7,128.16 164.75,128.17 164.8,128.18 164.85,128.18 164.9,128.19 164.95,128.19 165,128.2 165.05,128.2 165.1,128.21 165.15,128.21 165.2,128.21 165.25,128.22 165.3,128.22 165.35,128.22 165.4,128.23 165.45,128.23 165.5,128.23 165.55,128.23 165.6,128.24 165.65,128.24 165.7,128.24 165.75,128.24 165.8,128.24 165.85,128.25 165.9,128.25 165.95,128.25 166,128.25 166.2,128.26 166.4,128.26 166.6,128.26 166.8,128.27 167,128.27 167.2,128.27 167.4,128.27 167.6,128.28 167.8,128.28 168,128.28 168.2,128.28 168.4,128.28 168.6,128.28 168.8,128.28 169,128.28 169.6,128.29 170.2,128.29 170.8,128.29 171.4,128.29 172,128.29 172.6,128.29 173.2,128.29 173.8,128.29 174.4,128.29 175,128.29 175.6,128.29 176.2,128.29 176.8,128.29 177.4,128.29 178,128.29 178.6,128.29 179.2,128.29 179.8,128.29 180.4,128.29 181,128.29 181.6,128.29 182.2,128.29 182.8,128.29 183.4,128.29 184,128.29 184.6,128.29 185.2,128.29 185.8,128.29 186.4,128.29 187,128.29 187.6,128.29 188.2,128.29 188.8,128.29 189.4,128.29 190,128.29 190.6,128.28 191.2,128.28 191.8,128.28 192,128.28 192.2,128.28 192.4,128.27 192.6,128.27 192.8,128.27 193,128.27 193.2,128.27 193.4,128.26 193.6,128.26 193.8,128.25 194,128.25 194.2,128.24 194.4,128.24 194.6,128.23 194.65,128.23 194.7,128.22 194.75,128.22 194.8,128.22 194.85,128.22 194.9,128.21 194.95,128.21 195,128.21 195.05,128.2 195.1,128.2 195.15,128.2 195.2,128.19 195.25,128.19 195.3,128.18 195.35,128.18 195.4,128.17 195.45,128.17 195.5,128.16 195.55,128.16 195.6,128.15 195.65,128.14 195.7,128.13 195.75,128.13 195.8,128.12 195.85,128.11 195.9,128.1 195.95,128.08 196,128.07 196.05,128.06 196.1,128.04 196.15,128.03 196.2,128.01 196.25,127.99 196.3,127.96 196.35,127.94 196.4,127.9 196.45,127.87 196.5,127.82 196.55,127.77 196.6,127.7 196.65,127.62 196.7,127.52 196.75,127.4 196.8,127.26 196.85,127.08 196.9,126.86 196.95,126.61 197,126.31 197.05,125.96 197.1,125.57 197.15,125.13 197.2,124.65 197.25,124.15 197.3,123.62 197.35,123.09 197.4,122.6 197.45,122.15 197.5,121.8 197.55,121.57 197.6,121.5 197.65,121.57 197.7,121.8 197.75,122.15 197.8,122.6 197.85,123.09 197.9,123.62 197.95,124.14 198,124.65 198.05,125.13 198.1,125.57 198.15,125.96 198.2,126.31 198.25,126.61 198.3,126.86 198.35,127.08 198.4,127.26 198.45,127.4 198.5,127.52 198.55,127.62 198.6,127.7 198.65,127.77 198.7,127.82 198.75,127.87 198.8,127.9 198.85,127.93 198.9,127.96 198.95,127.99 199,128.01 199.05,128.03 199.1,128.04 199.15,128.06 199.2,128.07 199.25,128.08 199.3,128.1 199.35,128.11 199.4,128.12 199.45,128.12 199.5,128.13 199.55,128.14 199.6,128.15 199.65,128.16 199.7,128.16 199.75,128.17 199.8,128.17 199.85,128.18 199.9,128.18 199.95,128.19 200,128.19 200.05,128.2 200.1,128.2 200.15,128.2 200.2,128.21 200.25,128.21 200.3,128.21 200.35,128.22 200.4,128.22 200.45,128.22 200.5,128.22 200.55,128.23 200.6,128.23 200.8,128.24 201,128.24 201.2,128.25 201.4,128.25 201.6,128.26 201.8,128.26 202,128.26 202.2,128.27 202.4,128.27 202.6,128.27 202.8,128.27 203,128.27 203.2,128.27 203.4,128.27 203.6,128.28 204.2,128.28 204.8,128.28 205.4,128.28 206,128.28 206.6,128.28 207.2,128.28 207.8,128.28 208.4,128.28 209,128.28 209.6,128.28 210.2,128.27 210.8,128.27 211.4,128.26 212,128.26 212.2,128.25 212.4,128.25 212.6,128.25 212.8,128.24 213,128.24 213.2,128.23 213.4,128.23 213.6,128.22 213.8,128.21 214,128.2 214.2,128.19 214.4,128.18 214.6,128.16 214.65,128.15 214.7,128.15 214.75,128.14 214.8,128.14 214.85,128.13 214.9,128.13 214.95,128.12 215,128.11 215.05,128.11 215.1,128.1 215.15,128.09 215.2,128.08 215.25,128.07 215.3,128.06 215.35,128.05 215.4,128.04 215.45,128.03 215.5,128.01 215.55,128 215.6,127.99 215.65,127.97 215.7,127.95 215.75,127.93 215.8,127.91 215.85,127.89 215.9,127.87 215.95,127.84 216,127.81 216.05,127.78 216.1,127.74 216.15,127.69 216.2,127.64 216.25,127.59 216.3,127.52 216.35,127.43 216.4,127.34 216.45,127.22 216.5,127.08 216.55,126.91 216.6,126.7 216.65,126.46 216.7,126.17 216.75,125.84 216.8,125.45 216.85,125.01 216.9,124.5 216.95,123.94 217,123.32 217.05,122.66 217.1,121.95 217.15,121.22 217.2,120.49 217.25,119.77 217.3,119.11 217.35,118.53 217.4,118.08 217.45,117.8 217.5,117.7 217.55,117.8 217.6,118.08 217.65,118.53 217.7,119.11 217.75,119.77 217.8,120.49 217.85,121.23 217.9,121.96 217.95,122.66 218,123.32 218.05,123.94 218.1,124.5 218.15,125.01 218.2,125.45 218.25,125.84 218.3,126.17 218.35,126.46 218.4,126.7 218.45,126.91 218.5,127.08 218.55,127.22 218.6,127.34 218.65,127.43 218.7,127.52 218.75,127.59 218.8,127.64 218.85,127.69 218.9,127.74 218.95,127.78 219,127.81 219.05,127.84 219.1,127.87 219.15,127.89 219.2,127.91 219.25,127.93 219.3,127.95 219.35,127.97 219.4,127.99 219.45,128 219.5,128.02 219.55,128.03 219.6,128.04 219.65,128.05 219.7,128.06 219.75,128.07 219.8,128.08 219.85,128.09 219.9,128.1 219.95,128.11 220,128.11 220.05,128.12 220.1,128.13 220.15,128.13 220.2,128.14 220.25,128.14 220.3,128.15 220.35,128.15 220.4,128.16 220.45,128.16 220.5,128.17 220.7,128.18 220.9,128.2 221.1,128.21 221.3,128.22 221.5,128.22 221.7,128.23 221.9,128.24 222.1,128.24 222.3,128.25 222.5,128.25 222.7,128.25 222.9,128.26 223.1,128.26 223.3,128.26 223.5,128.27 224.1,128.27 224.7,128.28 225.3,128.28 225.9,128.28 226.5,128.28" fill="none" stroke="#ea585e" stroke-width="1.7" stroke-linejoin="round"/>
<circle cx="65.8" cy="36.5" r="1.6" fill="#fff" stroke="#555" stroke-width="0.9"/>
<circle cx="123.2" cy="98.2" r="1.6" fill="#fff" stroke="#555" stroke-width="0.9"/>
<circle cx="149.3" cy="98.7" r="1.6" fill="#fff" stroke="#555" stroke-width="0.9"/>
<line x1="66" y1="135.2" x2="66" y2="139.5" stroke="#4fbf5f" stroke-width="1.1"/>
<line x1="105.4" y1="135.2" x2="105.4" y2="139.5" stroke="#4fbf5f" stroke-width="1.1"/>
<line x1="123.6" y1="135.2" x2="123.6" y2="139.5" stroke="#4fbf5f" stroke-width="1.1"/>
<line x1="129.1" y1="135.2" x2="129.1" y2="139.5" stroke="#4fbf5f" stroke-width="1.1"/>
<line x1="149.4" y1="135.2" x2="149.4" y2="139.5" stroke="#4fbf5f" stroke-width="1.1"/>
<line x1="163.7" y1="135.2" x2="163.7" y2="139.5" stroke="#4fbf5f" stroke-width="1.1"/>
<line x1="185.4" y1="135.2" x2="185.4" y2="139.5" stroke="#4fbf5f" stroke-width="1.1"/>
<line x1="197.6" y1="135.2" x2="197.6" y2="139.5" stroke="#4fbf5f" stroke-width="1.1"/>
<line x1="217.6" y1="135.2" x2="217.6" y2="139.5" stroke="#4fbf5f" stroke-width="1.1"/>
<line x1="127.3" y1="139.6" x2="127.3" y2="143.7" stroke="#b98ad8" stroke-width="1.1"/>
<line x1="147.3" y1="139.6" x2="147.3" y2="143.7" stroke="#b98ad8" stroke-width="1.1"/>
<line x1="214.2" y1="139.6" x2="214.2" y2="143.7" stroke="#b98ad8" stroke-width="1.1"/>
<polyline points="33.9,150.95 34.4,150.39 34.9,150.69 35.4,150.67 35.9,150.63 36.4,150.63 36.9,150.78 37.4,150.35 37.9,150.39 38.4,150.36 38.9,150.51 39.4,150.5 39.9,150.66 40.4,150.65 40.9,150.61 41.4,150.48 41.9,150.52 42.4,150.76 42.9,150.73 43.4,150.62 43.9,150.55 44.4,150.86 44.9,150.5 45.4,150.71 45.9,150.8 46.4,150.55 46.9,150.74 47.4,150.41 47.9,150.77 48.4,150.63 48.9,150.33 49.4,150.71 49.9,150.45 50.4,150.82 50.9,150.48 51.4,150.57 51.9,150.65 52.4,150.54 52.9,150.64 53.4,150.51 53.9,150.71 54.4,150.6 54.9,150.64 55.4,150.13 55.9,150.8 56.4,150.61 56.9,150.3 57.4,150.62 57.9,150.68 58.4,150.78 58.9,150.42 59.4,150.86 59.9,150.57 60.4,151.01 60.9,150.58 61.4,150.72 61.9,150.54 62.4,150.41 62.9,150.79 63.4,150.75 63.9,150.86 64.4,150.75 64.9,149.74 65.4,148.24 65.9,151.16 66.4,152.59 66.9,150.46 67.4,150.7 67.9,150.66 68.4,150.55 68.9,150.63 69.4,150.58 69.9,150.64 70.4,150.73 70.9,150.76 71.4,150.48 71.9,150.34 72.4,150.84 72.9,150.62 73.4,150.79 73.9,150.32 74.4,150.54 74.9,150.6 75.4,150.35 75.9,150.51 76.4,150.72 76.9,150.78 77.4,150.87 77.9,150.45 78.4,150.36 78.9,150.69 79.4,150.76 79.9,150.63 80.4,150.38 80.9,150.73 81.4,150.73 81.9,150.69 82.4,150.52 82.9,150.65 83.4,150.73 83.9,150.51 84.4,150.29 84.9,150.66 85.4,150.68 85.9,150.6 86.4,150.75 86.9,150.5 87.4,150.59 87.9,150.55 88.4,150.7 88.9,150.87 89.4,150.56 89.9,150.95 90.4,150.86 90.9,150.73 91.4,150.7 91.9,150.9 92.4,150.57 92.9,150.58 93.4,150.42 93.9,150.68 94.4,150.83 94.9,150.69 95.4,150.67 95.9,150.57 96.4,150.63 96.9,150.36 97.4,150.78 97.9,150.53 98.4,150.41 98.9,150.47 99.4,150.46 99.9,150.75 100.4,150.78 100.9,150.37 101.4,150.76 101.9,150.75 102.4,150.5 102.9,150.35 103.4,150.47 103.9,150.49 104.4,150.66 104.9,150.54 105.4,150.26 105.9,150.64 106.4,150.34 106.9,150.75 107.4,150.39 107.9,150.48 108.4,150.45 108.9,150.51 109.4,150.82 109.9,150.74 110.4,150.7 110.9,150.65 111.4,150.34 111.9,150.51 112.4,150.51 112.9,150.43 113.4,150.69 113.9,150.47 114.4,150.48 114.9,150.42 115.4,150.25 115.9,150.7 116.4,150.83 116.9,150.63 117.4,150.43 117.9,150.14 118.4,150.63 118.9,150.81 119.4,150.65 119.9,150.76 120.4,150.85 120.9,150.79 121.4,150.52 121.9,150.78 122.4,149.99 122.9,149.38 123.4,151.23 123.9,151.35 124.4,150.58 124.9,150.7 125.4,150.42 125.9,150.25 126.4,150.82 126.9,150.66 127.4,150.85 127.9,150.37 128.4,150.78 128.9,150.95 129.4,150.94 129.9,150.56 130.4,150.65 130.9,150.57 131.4,150.77 131.9,150.78 132.4,150.61 132.9,150.37 133.4,150.73 133.9,150.52 134.4,150.71 134.9,150.64 135.4,150.88 135.9,150.79 136.4,150.52 136.9,150.66 137.4,150.9 137.9,150.51 138.4,150.67 138.9,150.8 139.4,150.81 139.9,150.69 140.4,150.38 140.9,150.39 141.4,150.64 141.9,150.67 142.4,151.03 142.9,150.45 143.4,150.79 143.9,150.73 144.4,150.32 144.9,150.46 145.4,150.63 145.9,150.52 146.4,150.57 146.9,150.68 147.4,150.46 147.9,150.68 148.4,150.08 148.9,149.37 149.4,151.06 149.9,151.65 150.4,150.65 150.9,150.87 151.4,150.6 151.9,150.58 152.4,150.72 152.9,150.54 153.4,150.78 153.9,150.38 154.4,150.71 154.9,150.51 155.4,150.46 155.9,150.9 156.4,150.46 156.9,150.9 157.4,150.71 157.9,150.85 158.4,150.43 158.9,150.8 159.4,150.85 159.9,150.58 160.4,150.58 160.9,151.02 161.4,150.63 161.9,150.53 162.4,150.49 162.9,150.68 163.4,150.66 163.9,150.63 164.4,150.89 164.9,150.54 165.4,150.68 165.9,150.85 166.4,150.43 166.9,150.78 167.4,150.91 167.9,150.37 168.4,150.41 168.9,150.42 169.4,150.29 169.9,150.68 170.4,150.28 170.9,150.68 171.4,150.85 171.9,150.33 172.4,150.55 172.9,150.27 173.4,150.73 173.9,150.47 174.4,150.55 174.9,150.61 175.4,150.69 175.9,150.54 176.4,150.6 176.9,150.51 177.4,150.62 177.9,150.4 178.4,150.61 178.9,150.27 179.4,150.52 179.9,150.93 180.4,150.61 180.9,150.39 181.4,150.64 181.9,150.43 182.4,150.32 182.9,150.47 183.4,150.73 183.9,150.67 184.4,150.58 184.9,150.44 185.4,150.42 185.9,150.83 186.4,150.64 186.9,150.44 187.4,150.24 187.9,150.37 188.4,151.02 188.9,150.4 189.4,150.59 189.9,150.64 190.4,150.57 190.9,150.55 191.4,150.37 191.9,150.42 192.4,150.89 192.9,150.47 193.4,150.74 193.9,150.31 194.4,150.55 194.9,150.64 195.4,150.78 195.9,150.41 196.4,150.7 196.9,150.67 197.4,150.47 197.9,150.68 198.4,150.45 198.9,150.46 199.4,150.6 199.9,150.14 200.4,150.58 200.9,150.43 201.4,150.35 201.9,150.53 202.4,150.73 202.9,150.53 203.4,150.82 203.9,150.4 204.4,150.38 204.9,150.86 205.4,150.67 205.9,150.76 206.4,150.46 206.9,150.74 207.4,150.64 207.9,150.71 208.4,150.6 208.9,150.81 209.4,150.49 209.9,150.44 210.4,150.35 210.9,150.8 211.4,150.47 211.9,150.42 212.4,150.44 212.9,150.52 213.4,150.38 213.9,150.55 214.4,150.49 214.9,150.51 215.4,150.44 215.9,150.61 216.4,150.52 216.9,150.62 217.4,150.64 217.9,150.66 218.4,150.23 218.9,150.51 219.4,150.46 219.9,150.73 220.4,150.33 220.9,150.48 221.4,150.55 221.9,150.54 222.4,150.77 222.9,150.52 223.4,150.76 223.9,150.35 224.4,150.29 224.9,150.81 225.4,150.67 225.9,150.68 226.4,150.62" fill="none" stroke="#0a8fca" stroke-width="1.7" stroke-linejoin="round"/>
<text x="59.7" y="42.1" font-size="7.5" text-anchor="middle" font-weight="bold" fill="#000" transform="rotate(-90 59.7 42.1)" stroke="#000" stroke-width="0.28">(111)</text>
<text x="124.6" y="85.7" font-size="7.5" text-anchor="middle" font-weight="bold" fill="#000" transform="rotate(-90 124.6 85.7)" stroke="#000" stroke-width="0.28">(311)</text>
<text x="131.5" y="109.7" font-size="7.5" text-anchor="middle" font-weight="bold" fill="#000" transform="rotate(-90 131.5 109.7)" stroke="#000" stroke-width="0.28">(222)</text>
<text x="150.7" y="86" font-size="7.5" text-anchor="middle" font-weight="bold" fill="#000" transform="rotate(-90 150.7 86)" stroke="#000" stroke-width="0.28">(400)</text>
<text x="164.1" y="110.8" font-size="7.5" text-anchor="middle" font-weight="bold" fill="#000" transform="rotate(-90 164.1 110.8)" stroke="#000" stroke-width="0.28">(331)</text>
<text x="199.6" y="108.4" font-size="7.5" text-anchor="middle" font-weight="bold" fill="#000" transform="rotate(-90 199.6 108.4)" stroke="#000" stroke-width="0.28">(511)</text>
<text x="219.8" y="104.5" font-size="7.5" text-anchor="middle" font-weight="bold" fill="#000" transform="rotate(-90 219.8 104.5)" stroke="#000" stroke-width="0.28">(440)</text>
<rect x="33.2" y="15" width="194.2" height="144.5" fill="none" stroke="#000" stroke-width="1.7"/>
<line x1="33.2" y1="159.5" x2="33.2" y2="162.7" stroke="#000" stroke-width="1.4"/>
<text transform="translate(33.2 172.6) scale(1 1.06)" font-size="9.8" text-anchor="middle" font-weight="bold" fill="#000" stroke="#000" stroke-width="0.28">10</text>
<line x1="47.07" y1="159.5" x2="47.07" y2="161.1" stroke="#000" stroke-width="1.4"/>
<line x1="60.94" y1="159.5" x2="60.94" y2="162.7" stroke="#000" stroke-width="1.4"/>
<text transform="translate(60.94 172.6) scale(1 1.06)" font-size="9.8" text-anchor="middle" font-weight="bold" fill="#000" stroke="#000" stroke-width="0.28">20</text>
<line x1="74.81" y1="159.5" x2="74.81" y2="161.1" stroke="#000" stroke-width="1.4"/>
<line x1="88.69" y1="159.5" x2="88.69" y2="162.7" stroke="#000" stroke-width="1.4"/>
<text transform="translate(88.69 172.6) scale(1 1.06)" font-size="9.8" text-anchor="middle" font-weight="bold" fill="#000" stroke="#000" stroke-width="0.28">30</text>
<line x1="102.56" y1="159.5" x2="102.56" y2="161.1" stroke="#000" stroke-width="1.4"/>
<line x1="116.43" y1="159.5" x2="116.43" y2="162.7" stroke="#000" stroke-width="1.4"/>
<text transform="translate(116.43 172.6) scale(1 1.06)" font-size="9.8" text-anchor="middle" font-weight="bold" fill="#000" stroke="#000" stroke-width="0.28">40</text>
<line x1="130.3" y1="159.5" x2="130.3" y2="161.1" stroke="#000" stroke-width="1.4"/>
<line x1="144.17" y1="159.5" x2="144.17" y2="162.7" stroke="#000" stroke-width="1.4"/>
<text transform="translate(144.17 172.6) scale(1 1.06)" font-size="9.8" text-anchor="middle" font-weight="bold" fill="#000" stroke="#000" stroke-width="0.28">50</text>
<line x1="158.04" y1="159.5" x2="158.04" y2="161.1" stroke="#000" stroke-width="1.4"/>
<line x1="171.91" y1="159.5" x2="171.91" y2="162.7" stroke="#000" stroke-width="1.4"/>
<text transform="translate(171.91 172.6) scale(1 1.06)" font-size="9.8" text-anchor="middle" font-weight="bold" fill="#000" stroke="#000" stroke-width="0.28">60</text>
<line x1="185.79" y1="159.5" x2="185.79" y2="161.1" stroke="#000" stroke-width="1.4"/>
<line x1="199.66" y1="159.5" x2="199.66" y2="162.7" stroke="#000" stroke-width="1.4"/>
<text transform="translate(199.66 172.6) scale(1 1.06)" font-size="9.8" text-anchor="middle" font-weight="bold" fill="#000" stroke="#000" stroke-width="0.28">70</text>
<line x1="213.53" y1="159.5" x2="213.53" y2="161.1" stroke="#000" stroke-width="1.4"/>
<line x1="227.4" y1="159.5" x2="227.4" y2="162.7" stroke="#000" stroke-width="1.4"/>
<text transform="translate(227.4 172.6) scale(1 1.06)" font-size="9.8" text-anchor="middle" font-weight="bold" fill="#000" stroke="#000" stroke-width="0.28">80</text>
<text x="130.3" y="182.8" font-size="10.8" text-anchor="middle" font-weight="bold" fill="#000" stroke="#000" stroke-width="0.3">2 Theta (degree)</text>
<text x="27.6" y="87.25" font-size="10.8" text-anchor="middle" font-weight="bold" fill="#000" transform="rotate(-90 27.6 87.25)" stroke="#000" stroke-width="0.3">Intensity (a.u.)</text>
</g>
<g transform="translate(239.8 0)">
<text transform="translate(8.9 20.6) scale(0.92 1)" font-size="22" font-weight="bold" fill="#000" stroke="#000" stroke-width="0.5">b</text>
<text x="38" y="25.5" font-size="8" text-anchor="start" font-weight="bold" fill="#111" stroke="#111" stroke-width="0.3">LNMO_110</text>
<circle cx="165.7" cy="23.2" r="1.6" fill="none" stroke="#555" stroke-width="0.9"/>
<text x="176.4" y="25.8" font-size="7.5" text-anchor="start" font-weight="bold" fill="#111" stroke="#111" stroke-width="0.3">Yobs</text>
<line x1="156.7" y1="33.7" x2="174.2" y2="33.7" stroke="#ea585e" stroke-width="1.4"/>
<text x="176.4" y="36.2" font-size="7.5" text-anchor="start" font-weight="bold" fill="#111" stroke="#111" stroke-width="0.3">Ycalc</text>
<line x1="156.7" y1="44.3" x2="174.2" y2="44.3" stroke="#0a8fca" stroke-width="1.4"/>
<text x="176.4" y="46.7" font-size="7.5" text-anchor="start" font-weight="bold" fill="#111" xml:space="preserve" stroke="#111" stroke-width="0.3">Yobs  Ycalc</text>
<line x1="165.5" y1="52.6" x2="165.5" y2="56.4" stroke="#4fbf5f" stroke-width="1"/>
<text x="176.4" y="57" font-size="7.5" text-anchor="start" font-weight="bold" fill="#111" stroke="#111" stroke-width="0.3">LiNi<tspan font-size="4.9" dy="1.9">0.5</tspan><tspan dy="-1.9">Mn</tspan><tspan font-size="4.9" dy="1.9">1.5</tspan><tspan dy="-1.9">O</tspan><tspan font-size="4.9" dy="1.9">4</tspan></text>
<line x1="165.5" y1="63.2" x2="165.5" y2="67.0" stroke="#b98ad8" stroke-width="1"/>
<text x="176.4" y="67.5" font-size="7.5" text-anchor="start" font-weight="bold" fill="#111" stroke="#111" stroke-width="0.3">Li<tspan font-size="4.9" dy="1.9">0.5</tspan><tspan dy="-1.9">Ni</tspan><tspan font-size="4.9" dy="1.9">0.5</tspan><tspan dy="-1.9">O</tspan></text>
<polyline points="34,128.14 34.6,127.63 35.2,128.28 35.8,127.84 36.4,128.29 37,128.02 37.6,127.4 38.2,127.61 38.8,128.33 39.4,127.96 40,127.88 40.6,128.07 41.2,127.87 41.8,127.83 42.4,128.03 43,128.04 43.6,128.45 44.2,128.01 44.8,128.56 45.4,128.53 46,128.51 46.6,128.31 47.2,128.03 47.8,128.03 48.4,127.95 49,127.77 49.6,127.97 50.2,127.8 50.8,128.48 51.4,128.15 52,127.85 52.6,127.41 53.2,127.97 53.8,127.86 54.4,127.66 55,127.64 55.6,127.3 56.2,128.15 56.8,127.95 57.4,128.74 58,127.95 58.6,127.91 59.2,128.38 59.8,127.98 60,127.98 60.2,127.81 60.4,127.74 60.6,128.36 60.8,128.21 61,128.41 61.2,127.79 61.4,127.89 61.6,127.6 61.8,128.15 62,127.42 62.2,127.99 62.4,128.13 62.6,128.2 62.8,127.46 62.85,128.06 62.9,127.51 62.95,127.49 63,127.31 63.05,128.04 63.1,128.18 63.15,127.49 63.2,127.43 63.25,127.54 63.3,128.38 63.35,127.92 63.4,127.44 63.45,127.05 63.5,127.36 63.55,127.9 63.6,128.09 63.65,127.42 63.7,127.27 63.75,127.3 63.8,126.86 63.85,127.67 63.9,127.04 63.95,127.65 64,126.78 64.05,126.87 64.1,127.3 64.15,126.93 64.2,127.35 64.25,127.06 64.3,126.64 64.35,127.11 64.4,127.1 64.45,126.19 64.5,127.22 64.55,126.71 64.6,126.67 64.65,125.75 64.7,125.94 64.75,125.88 64.8,126.12 64.85,125.13 64.9,125.04 64.95,124.39 65,124.93 65.05,125.1 65.1,124.49 65.15,124.82 65.2,125.15 65.25,125.47 65.3,125.2 65.35,124.91 65.4,124.65 65.45,124.72 65.5,124.8 65.55,125.04 65.6,124.98 65.65,125.5 65.7,125.09 65.75,124.68 65.8,125.46 65.85,125.28 65.9,125.03 65.95,124.78 66,124.44 66.05,124.69 66.1,125.27 66.15,124.76 66.2,124.6 66.25,125.06 66.3,125.07 66.35,125.18 66.4,125.2 66.45,125.42 66.5,124.75 66.55,125.29 66.6,124.7 66.65,125.21 66.7,125.36 66.75,125.64 66.8,126.08 66.85,125.98 66.9,126.49 66.95,126.57 67,126.48 67.05,126.39 67.1,126.44 67.15,126.6 67.2,126.79 67.25,126.91 67.3,127.89 67.35,127.25 67.4,127.34 67.45,126.91 67.5,127 67.55,127.16 67.6,127.35 67.65,127.02 67.7,127.85 67.75,127.23 67.8,127.75 67.85,126.75 67.9,127.48 67.95,127.59 68,127.58 68.05,127.73 68.1,127.65 68.15,127.63 68.2,127.03 68.25,127.4 68.3,126.93 68.35,127.83 68.4,127.75 68.45,127.61 68.5,127.44 68.55,127.52 68.6,128.26 68.65,128.23 68.7,127.71 68.75,128.12 68.8,127.27 68.85,127.17 69.05,127.64 69.25,127.54 69.45,127.66 69.65,127.9 69.85,128.77 70.05,127.67 70.25,127.9 70.45,127.98 70.65,127.89 70.85,128.19 71.05,128.45 71.25,127.55 71.45,127.98 71.65,127.85 71.85,128.04 72.45,127.49 73.05,127.43 73.65,127.27 74.25,128.12 74.85,128.03 75.45,128 76.05,127.27 76.65,127.87 77.25,127.75 77.85,127.56 78.45,127.71 79.05,128.2 79.65,128.15 80.25,127.98 80.85,128.14 81.45,127.81 82.05,128.01 82.65,128 83.25,128.16 83.85,127.97 84.45,127.95 85.05,127.95 85.65,127.8 86.25,128.66 86.85,128.15 87.45,128.12 88.05,128.68 88.65,128.41 89.25,127.53 89.85,128.2 90.45,128.25 91.05,128.56 91.65,128.39 92.25,128.23 92.85,127.64 93.45,127.73 94.05,128.08 94.65,128.15 95.25,127.69 95.85,127.88 96.45,127.88 97.05,128.01 97.65,128.1 98.25,127.91 98.85,127.62 99.45,128.37 100.05,128.47 100.65,127.96 101.25,128.3 101.85,128.13 102.45,128.19 103.05,128.14 103.65,127.77 104.25,128.17 104.85,128.3 105.45,127.73 106.05,128.58 106.65,128.62 107.25,128.54 107.85,128.59 108.45,128.22 109.05,127.89 109.65,127.81 110.25,127.75 110.85,128.03 111.45,127.98 112.05,128.19 112.65,127.38 113.25,128.68 113.85,128.67 114.45,127.98 115.05,128.18 115.65,128.12 116.25,128.06 116.85,127.91 117.45,127.93 117.65,127.72 117.85,128.02 118.05,127.95 118.25,128.05 118.45,127.7 118.65,127.96 118.85,127.96 119.05,128.12 119.25,127.61 119.45,128.05 119.65,128.21 119.85,128.09 120.05,127.79 120.25,127.74 120.3,127.81 120.35,128.1 120.4,128.34 120.45,127.82 120.5,127.67 120.55,127.97 120.6,127.92 120.65,127.58 120.7,127.62 120.75,127.81 120.8,128.03 120.85,127.47 120.9,127.51 120.95,127.96 121,127.43 121.05,127.82 121.1,127.89 121.15,127.74 121.2,127.45 121.25,127.73 121.3,127.64 121.35,127.82 121.4,127.45 121.45,128.02 121.5,127.17 121.55,127.6 121.6,127.63 121.65,127.9 121.7,127.4 121.75,127.72 121.8,127.35 121.85,127.71 121.9,127.97 121.95,127.29 122,127.5 122.05,127.03 122.1,127.54 122.15,127.54 122.2,127.11 122.25,126.67 122.3,127.03 122.35,127.13 122.4,126.96 122.45,126.69 122.5,125.67 122.55,125.7 122.6,125.9 122.65,124.62 122.7,125.33 122.75,125.55 122.8,125.22 122.85,125.32 122.9,124.89 122.95,124.62 123,124.96 123.05,124.93 123.1,124.97 123.15,125.2 123.2,124.94 123.25,125.04 123.3,125.11 123.35,124.98 123.4,125.54 123.45,125.12 123.5,125.01 123.55,124.92 123.6,124.8 123.65,125.39 123.7,125.03 123.75,124.66 123.8,125.3 123.85,125.86 123.9,126.08 123.95,126.77 124,126.28 124.05,126.92 124.1,126.94 124.15,126.65 124.2,127.11 124.25,127.14 124.3,127.39 124.35,127.16 124.4,127.44 124.45,126.9 124.5,127.12 124.55,127.71 124.6,127.83 124.65,127.54 124.7,127.39 124.75,127.92 124.8,126.99 124.85,127.4 124.9,127.86 124.95,127.87 125,127.38 125.05,127.14 125.1,128.15 125.15,127.78 125.2,127.47 125.25,127.77 125.3,128.03 125.35,126.99 125.4,128.11 125.45,128.01 125.5,127.17 125.55,128.03 125.6,127.27 125.65,128.15 125.7,127.93 125.75,128.5 125.8,127.64 125.85,127.83 125.9,128.15 125.95,127.64 126,127.63 126.05,127.73 126.1,127.82 126.15,127.52 126.2,127.99 126.25,128.01 126.3,127.87 126.35,128.36 126.4,127.75 126.45,128.25 126.5,127.69 126.55,128.08 126.6,127.27 126.65,127.91 126.7,127.8 126.75,127.7 126.8,127.67 126.85,127.75 126.9,127.63 126.95,127.19 127,127.66 127.05,127.67 127.1,127.68 127.15,127.52 127.2,127.79 127.25,128.06 127.3,127.74 127.35,127.66 127.4,128.21 127.45,128.09 127.5,128.06 127.55,128.12 127.6,127.67 127.65,127.71 127.7,128.07 127.75,127.55 127.8,127.66 127.85,127.79 127.9,127.76 127.95,127.53 128,127.87 128.05,127.47 128.1,127.67 128.15,127.68 128.2,127.45 128.25,127.33 128.3,126.57 128.35,126.3 128.4,126.23 128.45,126.23 128.5,126.15 128.55,124.9 128.6,124.88 128.65,124.02 128.7,123.56 128.75,123.22 128.8,123.13 128.85,122.72 128.9,122.92 128.95,122.36 129,123.19 129.05,123.59 129.1,123.8 129.15,124.43 129.2,124.62 129.25,124.94 129.3,125.59 129.35,125.9 129.4,127.29 129.45,126.56 129.5,127.43 129.55,127.18 129.6,127.36 129.65,127.6 129.7,127.23 129.75,127.81 129.8,127.7 129.85,127.18 129.9,127.85 129.95,127.87 130,127.86 130.05,128.22 130.1,127.64 130.15,127.93 130.2,128.02 130.25,127.54 130.3,128.18 130.35,127.39 130.4,127.45 130.45,128 130.5,127.53 130.55,127.83 130.6,127.38 130.65,127.9 130.7,127.54 130.75,127.99 130.8,127.43 130.85,128.03 130.9,127.82 130.95,127.92 131,127.89 131.05,127.95 131.1,127.52 131.15,127.15 131.2,127.93 131.25,127.64 131.3,127.79 131.35,128.06 131.4,127.33 131.45,127.7 131.5,127.75 131.55,127.62 131.6,128.04 131.65,127.9 131.7,127.69 131.75,127.65 131.8,128.19 131.85,127.75 131.9,128.12 131.95,128.08 132.15,127.38 132.35,127.63 132.55,127.96 132.75,128.06 132.95,128.2 133.15,128.21 133.35,128.28 133.55,127.86 133.75,127.91 133.95,128.21 134.15,127.85 134.35,128.29 134.55,127.5 134.75,128.17 134.95,127.93 135.55,127.39 136.15,128.27 136.75,128.07 137.35,127.99 137.95,127.66 138.55,127.84 139.15,128.43 139.75,127.73 140.35,126.94 140.95,127.72 141.55,127.61 142.15,127.93 142.75,127.85 143.35,127.69 143.55,127.71 143.75,128.27 143.95,127.52 144.15,128.54 144.35,127.79 144.55,127.62 144.75,128.18 144.95,128.11 145.15,127.62 145.35,128.15 145.55,127.36 145.75,127.63 145.95,128.23 146.15,127.81 146.35,127.48 146.4,128.02 146.45,128.13 146.5,127.85 146.55,127.31 146.6,127.74 146.65,127.96 146.7,128.06 146.75,128.38 146.8,127.74 146.85,127.67 146.9,127.79 146.95,128.16 147,127.5 147.05,128.17 147.1,126.94 147.15,128 147.2,127.54 147.25,127.87 147.3,127.93 147.35,127.35 147.4,127.67 147.45,127.75 147.5,127.83 147.55,127.36 147.6,127.32 147.65,127.02 147.7,128.33 147.75,127.49 147.8,127.45 147.85,127.03 147.9,127.72 147.95,127.24 148,127.79 148.05,127.57 148.1,127.26 148.15,127.41 148.2,126.79 148.25,126.95 148.3,126.78 148.35,126.47 148.4,126.73 148.45,126.53 148.5,126.82 148.55,125.15 148.6,125.65 148.65,125.16 148.7,124.86 148.75,125.12 148.8,125.12 148.85,125 148.9,124.85 148.95,125.14 149,125.1 149.05,124.44 149.1,124.92 149.15,124.58 149.2,124.64 149.25,125.04 149.3,125.01 149.35,125.03 149.4,124.73 149.45,124.93 149.5,124.72 149.55,125.11 149.6,125.2 149.65,125.52 149.7,125.37 149.75,124.75 149.8,124.86 149.85,124.71 149.9,125.09 149.95,126.03 150,126.06 150.05,125.5 150.1,126.01 150.15,126.18 150.2,126.88 150.25,126.85 150.3,127.04 150.35,127.58 150.4,126.88 150.45,126.94 150.5,127.85 150.55,127.41 150.6,127.13 150.65,126.8 150.7,126.99 150.75,126.75 150.8,127.53 150.85,127.56 150.9,127.87 150.95,127.55 151,127.41 151.05,127.42 151.1,128.23 151.15,127.14 151.2,127.74 151.25,127.71 151.3,127.9 151.35,127.61 151.4,127.89 151.45,128 151.5,127.72 151.55,127.64 151.6,127.73 151.65,127.5 151.7,127.74 151.75,127.72 151.8,127.88 151.85,128.22 151.9,128.22 151.95,127.7 152,128.02 152.05,127.94 152.1,128.08 152.15,127.86 152.2,127.94 152.25,127.73 152.3,127.64 152.5,128.15 152.7,128.29 152.9,128.11 153.1,128.05 153.3,128 153.5,127.8 153.7,127.4 153.9,128.14 154.1,128 154.3,127.78 154.5,127.66 154.7,128.34 154.9,127.41 155.1,128.49 155.3,128.15 155.9,128.68 156.5,127.75 157.1,127.96 157.3,127.82 157.5,128.02 157.7,127.91 157.9,127.74 158.1,128.29 158.3,127.73 158.5,127.81 158.7,128.13 158.9,127.8 159.1,127.83 159.3,128.07 159.5,127.85 159.7,127.58 159.9,127.92 160.1,127.88 160.15,128.45 160.2,127.61 160.25,128.23 160.3,127.7 160.35,127.83 160.4,127.84 160.45,128.01 160.5,128.19 160.55,128.45 160.6,127.73 160.65,128.32 160.7,128.22 160.75,128.16 160.8,127.68 160.85,128.18 160.9,127.87 160.95,128.01 161,127.82 161.05,128.09 161.1,128.22 161.15,128.22 161.2,127.82 161.25,128.17 161.3,128.3 161.35,127.58 161.4,128.29 161.45,127.44 161.5,127.99 161.55,128 161.6,128.25 161.65,127.88 161.7,127.64 161.75,127.53 161.8,127.37 161.85,127.95 161.9,127.63 161.95,127.45 162,127.79 162.05,127.35 162.1,127.39 162.15,127.31 162.2,127.86 162.25,127.69 162.3,127.07 162.35,126.48 162.4,126.83 162.45,126.54 162.5,126.35 162.55,126.1 162.6,125.5 162.65,125.5 162.7,125.08 162.75,124.5 162.8,123.93 162.85,123.57 162.9,123.64 162.95,122.92 163,123.14 163.05,123.03 163.1,123.02 163.15,123.89 163.2,124.05 163.25,124.45 163.3,125.09 163.35,124.77 163.4,125.57 163.45,126.02 163.5,126.49 163.55,126.19 163.6,126.96 163.65,127.01 163.7,127.52 163.75,127.59 163.8,127.53 163.85,128.1 163.9,127.52 163.95,127.46 164,127.53 164.05,127.39 164.1,127.69 164.15,127.16 164.2,127.72 164.25,127.9 164.3,128.08 164.35,127.69 164.4,128.23 164.45,127.63 164.5,127.79 164.55,127.28 164.6,127.62 164.65,127.62 164.7,128.3 164.75,128.03 164.8,127.56 164.85,128.04 164.9,128.03 164.95,127.83 165,127.91 165.05,127.82 165.1,127.75 165.15,127.39 165.2,127.89 165.25,128.3 165.3,128.34 165.35,127.84 165.4,127.71 165.45,127.87 165.5,128.2 165.55,128.04 165.6,127.77 165.65,128.05 165.7,127.88 165.75,128.1 165.8,127.83 165.85,127.52 165.9,127.97 165.95,128.17 166,127.63 166.2,127.93 166.4,128.22 166.6,127.86 166.8,127.78 167,128.56 167.2,128.22 167.4,128.28 167.6,127.7 167.8,128.46 168,127.5 168.2,127.83 168.4,128.2 168.6,128.37 168.8,127.71 169,127.79 169.6,128.04 170.2,127.42 170.8,128.18 171.4,128.15 172,127.86 172.6,128.15 173.2,128.22 173.8,128.08 174.4,128.14 175,128.43 175.6,127.85 176.2,128.04 176.8,127.84 177.4,128.29 178,127.88 178.6,128.13 179.2,128.03 179.8,128.01 180.4,128.49 181,127.97 181.6,128.41 182.2,128.23 182.8,128.38 183.4,127.95 184,128.26 184.6,128.21 185.2,127.81 185.8,128.07 186.4,127.95 187,127.98 187.6,128.37 188.2,127.78 188.8,127.5 189.4,127.48 190,127.86 190.6,127.8 191.2,127.99 191.8,128.14 192,128.49 192.2,128.07 192.4,128.11 192.6,127.76 192.8,128.14 193,128.36 193.2,128.35 193.4,127.4 193.6,128.22 193.8,128.41 194,128.19 194.2,127.51 194.4,127.85 194.6,128.1 194.65,128.05 194.7,127.69 194.75,127.67 194.8,128.2 194.85,127.53 194.9,128.33 194.95,127.92 195,127.99 195.05,127.52 195.1,127.73 195.15,128.1 195.2,127.47 195.25,128.49 195.3,127.48 195.35,127.53 195.4,127.89 195.45,128.01 195.5,128.07 195.55,127.75 195.6,127.79 195.65,127.77 195.7,127.67 195.75,127.08 195.8,128.09 195.85,127.88 195.9,127.84 195.95,127.6 196,127.84 196.05,127.75 196.1,127.72 196.15,128.04 196.2,127.21 196.25,127.76 196.3,127.36 196.35,127.54 196.4,128.04 196.45,127.25 196.5,127.49 196.55,127.3 196.6,127.68 196.65,127.04 196.7,126.74 196.75,127.25 196.8,126.85 196.85,126.68 196.9,126.87 196.95,126.05 197,125.9 197.05,125.7 197.1,125.39 197.15,124.68 197.2,124.65 197.25,124.49 197.3,123.2 197.35,123.33 197.4,121.69 197.45,122.26 197.5,121.4 197.55,121.31 197.6,121.1 197.65,121.09 197.7,121.13 197.75,121.74 197.8,122.67 197.85,123.12 197.9,123.22 197.95,123.69 198,124.15 198.05,124.48 198.1,125.79 198.15,125.85 198.2,126.04 198.25,126.16 198.3,126.27 198.35,127.16 198.4,127.18 198.45,126.83 198.5,127.51 198.55,127 198.6,127.59 198.65,127.19 198.7,127.4 198.75,127.71 198.8,127.73 198.85,127.93 198.9,127.42 198.95,128.14 199,128.09 199.05,127.72 199.1,127.88 199.15,127.53 199.2,127.73 199.25,127.4 199.3,127.82 199.35,127.86 199.4,128.2 199.45,128.1 199.5,128.07 199.55,127.74 199.6,127.78 199.65,127.76 199.7,127.93 199.75,127.31 199.8,128.09 199.85,127.43 199.9,127.73 199.95,127.89 200,127.74 200.05,128.37 200.1,127.87 200.15,128.36 200.2,128.24 200.25,127.77 200.3,128.03 200.35,128.29 200.4,127.82 200.45,127.95 200.5,127.76 200.55,127.94 200.6,127.83 200.8,127.96 201,128.23 201.2,128.35 201.4,127.99 201.6,128.01 201.8,128.21 202,127.88 202.2,127.66 202.4,128.29 202.6,127.7 202.8,128.24 203,127.69 203.2,128.5 203.4,127.67 203.6,128.22 204.2,128.41 204.8,127.7 205.4,128.41 206,127.74 206.6,127.47 207.2,128.19 207.8,128.18 208.4,127.92 209,127.25 209.6,127.96 210.2,127.88 210.8,127.86 211.4,127.88 212,127.44 212.2,127.79 212.4,128.47 212.6,128.39 212.8,127.84 213,127.73 213.2,128.05 213.4,128.23 213.6,128.13 213.8,127.57 214,127.95 214.2,127.93 214.4,128.29 214.6,128.2 214.65,128 214.7,128.2 214.75,127.73 214.8,128.28 214.85,127.71 214.9,127.94 214.95,128.08 215,127.55 215.05,127.6 215.1,127.29 215.15,127.84 215.2,127.76 215.25,127.68 215.3,127.9 215.35,127.14 215.4,127.73 215.45,127.75 215.5,127.64 215.55,127.93 215.6,128.19 215.65,127.54 215.7,127.38 215.75,127.46 215.8,127.64 215.85,127.76 215.9,127.32 215.95,127.83 216,127.21 216.05,127.71 216.1,127.56 216.15,127.53 216.2,127.97 216.25,127.21 216.3,127.17 216.35,127.27 216.4,127.28 216.45,126.53 216.5,126.86 216.55,126.39 216.6,126.58 216.65,126.56 216.7,125.89 216.75,125.51 216.8,125.2 216.85,123.85 216.9,124.42 216.95,123.8 217,123.07 217.05,122.25 217.1,121.44 217.15,120.87 217.2,120.54 217.25,119.44 217.3,119.2 217.35,117.49 217.4,117.65 217.45,117.58 217.5,117.39 217.55,117.02 217.6,117.59 217.65,118.59 217.7,118.44 217.75,119.19 217.8,119.87 217.85,120.77 217.9,121.84 217.95,122.53 218,122.44 218.05,124.06 218.1,124.03 218.15,124.54 218.2,125.63 218.25,125.52 218.3,125.52 218.35,125.98 218.4,126.19 218.45,126.32 218.5,126.68 218.55,127.17 218.6,127.14 218.65,126.74 218.7,128.02 218.75,127 218.8,127.38 218.85,127.4 218.9,127.66 218.95,127.38 219,127.64 219.05,128.15 219.1,127.59 219.15,127.28 219.2,127.71 219.25,127.4 219.3,127.55 219.35,127.72 219.4,127.78 219.45,127.62 219.5,127.96 219.55,127.67 219.6,127.36 219.65,128 219.7,127.66 219.75,128.12 219.8,127.59 219.85,127.96 219.9,127.89 219.95,127.03 220,127.38 220.05,127.5 220.1,128.23 220.15,127.29 220.2,128.1 220.25,128.16 220.3,127.99 220.35,128.05 220.4,127.72 220.45,127.86 220.5,127.93 220.7,128.01 220.9,128.1 221.1,127.85 221.3,127.71 221.5,127.76 221.7,128.05 221.9,127.46 222.1,127.58 222.3,127.83 222.5,127.79 222.7,127.88 222.9,127.19 223.1,127.86 223.3,127.89 223.5,128.19 224.1,127.4 224.7,127.89 225.3,128.12 225.9,128.12 226.5,128.33" fill="none" stroke="#404c4a" stroke-width="4.2" stroke-linejoin="round" stroke-linecap="round"/>
<circle cx="65.65" cy="45.6" r="1.55" fill="none" stroke="#444" stroke-width="1.0"/>
<circle cx="65.95" cy="51.1" r="1.55" fill="none" stroke="#444" stroke-width="1.0"/>
<circle cx="65.65" cy="68.2" r="1.55" fill="none" stroke="#444" stroke-width="1.0"/>
<circle cx="65.95" cy="74.2" r="1.55" fill="none" stroke="#444" stroke-width="1.0"/>
<circle cx="65.65" cy="86.9" r="1.55" fill="none" stroke="#444" stroke-width="1.0"/>
<circle cx="65.95" cy="91.5" r="1.55" fill="none" stroke="#444" stroke-width="1.0"/>
<circle cx="65.65" cy="102.7" r="1.55" fill="none" stroke="#444" stroke-width="1.0"/>
<circle cx="65.95" cy="106" r="1.55" fill="none" stroke="#444" stroke-width="1.0"/>
<circle cx="65.65" cy="109.6" r="1.55" fill="none" stroke="#444" stroke-width="1.0"/>
<circle cx="65.95" cy="112.9" r="1.55" fill="none" stroke="#444" stroke-width="1.0"/>
<circle cx="65.65" cy="116" r="1.55" fill="none" stroke="#444" stroke-width="1.0"/>
<circle cx="65.95" cy="119.1" r="1.55" fill="none" stroke="#444" stroke-width="1.0"/>
<circle cx="122.2" cy="98.09" r="1.3" fill="none" stroke="#505050" stroke-width="0.85"/>
<circle cx="122.11" cy="101.12" r="1.3" fill="none" stroke="#505050" stroke-width="0.85"/>
<circle cx="122.05" cy="105.42" r="1.3" fill="none" stroke="#505050" stroke-width="0.85"/>
<circle cx="121.99" cy="110.18" r="1.3" fill="none" stroke="#505050" stroke-width="0.85"/>
<circle cx="121.93" cy="114.59" r="1.3" fill="none" stroke="#505050" stroke-width="0.85"/>
<circle cx="121.87" cy="118.27" r="1.3" fill="none" stroke="#505050" stroke-width="0.85"/>
<circle cx="121.78" cy="122.2" r="1.3" fill="none" stroke="#505050" stroke-width="0.85"/>
<circle cx="124.2" cy="98.09" r="1.3" fill="none" stroke="#505050" stroke-width="0.85"/>
<circle cx="124.29" cy="101.12" r="1.3" fill="none" stroke="#505050" stroke-width="0.85"/>
<circle cx="124.35" cy="105.42" r="1.3" fill="none" stroke="#505050" stroke-width="0.85"/>
<circle cx="124.41" cy="110.17" r="1.3" fill="none" stroke="#505050" stroke-width="0.85"/>
<circle cx="124.47" cy="114.59" r="1.3" fill="none" stroke="#505050" stroke-width="0.85"/>
<circle cx="124.53" cy="118.27" r="1.3" fill="none" stroke="#505050" stroke-width="0.85"/>
<circle cx="124.62" cy="122.2" r="1.3" fill="none" stroke="#505050" stroke-width="0.85"/>
<circle cx="148.3" cy="98.69" r="1.3" fill="none" stroke="#505050" stroke-width="0.85"/>
<circle cx="148.18" cy="102.89" r="1.3" fill="none" stroke="#505050" stroke-width="0.85"/>
<circle cx="148.12" cy="106.94" r="1.3" fill="none" stroke="#505050" stroke-width="0.85"/>
<circle cx="148.06" cy="111.16" r="1.3" fill="none" stroke="#505050" stroke-width="0.85"/>
<circle cx="148" cy="115.05" r="1.3" fill="none" stroke="#505050" stroke-width="0.85"/>
<circle cx="147.94" cy="118.33" r="1.3" fill="none" stroke="#505050" stroke-width="0.85"/>
<circle cx="147.85" cy="121.96" r="1.3" fill="none" stroke="#505050" stroke-width="0.85"/>
<circle cx="147.7" cy="125.18" r="1.3" fill="none" stroke="#505050" stroke-width="0.85"/>
<circle cx="150.3" cy="98.69" r="1.3" fill="none" stroke="#505050" stroke-width="0.85"/>
<circle cx="150.42" cy="102.89" r="1.3" fill="none" stroke="#505050" stroke-width="0.85"/>
<circle cx="150.48" cy="106.94" r="1.3" fill="none" stroke="#505050" stroke-width="0.85"/>
<circle cx="150.54" cy="111.16" r="1.3" fill="none" stroke="#505050" stroke-width="0.85"/>
<circle cx="150.6" cy="115.05" r="1.3" fill="none" stroke="#505050" stroke-width="0.85"/>
<circle cx="150.66" cy="118.33" r="1.3" fill="none" stroke="#505050" stroke-width="0.85"/>
<circle cx="150.75" cy="121.96" r="1.3" fill="none" stroke="#505050" stroke-width="0.85"/>
<circle cx="150.9" cy="125.18" r="1.3" fill="none" stroke="#505050" stroke-width="0.85"/>
<polyline points="34,128.3 34.6,128.3 35.2,128.3 35.8,128.3 36.4,128.3 37,128.3 37.6,128.3 38.2,128.3 38.8,128.3 39.4,128.3 40,128.3 40.6,128.3 41.2,128.3 41.8,128.3 42.4,128.3 43,128.3 43.6,128.29 44.2,128.29 44.8,128.29 45.4,128.29 46,128.29 46.6,128.29 47.2,128.29 47.8,128.29 48.4,128.29 49,128.29 49.6,128.29 50.2,128.29 50.8,128.29 51.4,128.29 52,128.29 52.6,128.29 53.2,128.28 53.8,128.28 54.4,128.28 55,128.28 55.6,128.28 56.2,128.27 56.8,128.27 57.4,128.27 58,128.26 58.6,128.25 59.2,128.25 59.8,128.24 60,128.23 60.2,128.23 60.4,128.22 60.6,128.21 60.8,128.21 61,128.2 61.2,128.19 61.4,128.18 61.6,128.17 61.8,128.15 62,128.14 62.2,128.12 62.4,128.1 62.6,128.07 62.8,128.04 62.85,128.03 62.9,128.03 62.95,128.02 63,128.01 63.05,127.99 63.1,127.98 63.15,127.97 63.2,127.96 63.25,127.95 63.3,127.93 63.35,127.92 63.4,127.9 63.45,127.88 63.5,127.87 63.55,127.85 63.6,127.83 63.65,127.8 63.7,127.78 63.75,127.75 63.8,127.73 63.85,127.7 63.9,127.67 63.95,127.63 64,127.59 64.05,127.55 64.1,127.51 64.15,127.46 64.2,127.41 64.25,127.35 64.3,127.29 64.35,127.22 64.4,127.15 64.45,127.06 64.5,126.97 64.55,126.86 64.6,126.74 64.65,126.61 64.7,126.46 64.75,126.29 64.8,126.09 64.85,125.87 64.9,125.6 64.95,125.3 65,124.93 65.05,124.5 65.1,123.95 65.15,123.26 65.2,122.32 65.25,121.01 65.3,119.09 65.35,116.28 65.4,112.17 65.45,106.35 65.5,98.45 65.55,88.34 65.6,76.23 65.65,62.93 65.7,50.11 65.75,40.4 65.8,36.7 65.85,40.4 65.9,50.11 65.95,62.93 66,76.23 66.05,88.34 66.1,98.45 66.15,106.35 66.2,112.17 66.25,116.28 66.3,119.09 66.35,121.01 66.4,122.32 66.45,123.26 66.5,123.95 66.55,124.5 66.6,124.93 66.65,125.3 66.7,125.6 66.75,125.87 66.8,126.09 66.85,126.29 66.9,126.46 66.95,126.61 67,126.74 67.05,126.86 67.1,126.97 67.15,127.06 67.2,127.15 67.25,127.22 67.3,127.29 67.35,127.35 67.4,127.41 67.45,127.46 67.5,127.51 67.55,127.55 67.6,127.59 67.65,127.63 67.7,127.67 67.75,127.7 67.8,127.73 67.85,127.75 67.9,127.78 67.95,127.8 68,127.83 68.05,127.85 68.1,127.87 68.15,127.88 68.2,127.9 68.25,127.92 68.3,127.93 68.35,127.95 68.4,127.96 68.45,127.97 68.5,127.98 68.55,127.99 68.6,128.01 68.65,128.02 68.7,128.03 68.75,128.03 68.8,128.04 68.85,128.05 69.05,128.08 69.25,128.11 69.45,128.13 69.65,128.14 69.85,128.16 70.05,128.17 70.25,128.18 70.45,128.19 70.65,128.2 70.85,128.21 71.05,128.22 71.25,128.22 71.45,128.23 71.65,128.23 71.85,128.24 72.45,128.25 73.05,128.26 73.65,128.26 74.25,128.27 74.85,128.27 75.45,128.27 76.05,128.28 76.65,128.28 77.25,128.28 77.85,128.28 78.45,128.28 79.05,128.29 79.65,128.29 80.25,128.29 80.85,128.29 81.45,128.29 82.05,128.29 82.65,128.29 83.25,128.29 83.85,128.29 84.45,128.29 85.05,128.29 85.65,128.29 86.25,128.29 86.85,128.29 87.45,128.29 88.05,128.29 88.65,128.29 89.25,128.29 89.85,128.29 90.45,128.29 91.05,128.29 91.65,128.29 92.25,128.29 92.85,128.29 93.45,128.3 94.05,128.3 94.65,128.3 95.25,128.3 95.85,128.3 96.45,128.3 97.05,128.3 97.65,128.3 98.25,128.3 98.85,128.3 99.45,128.3 100.05,128.3 100.65,128.3 101.25,128.3 101.85,128.29 102.45,128.29 103.05,128.29 103.65,128.29 104.25,128.29 104.85,128.29 105.45,128.29 106.05,128.29 106.65,128.29 107.25,128.29 107.85,128.29 108.45,128.29 109.05,128.29 109.65,128.29 110.25,128.29 110.85,128.29 111.45,128.29 112.05,128.29 112.65,128.29 113.25,128.29 113.85,128.29 114.45,128.28 115.05,128.28 115.65,128.28 116.25,128.28 116.85,128.27 117.45,128.27 117.65,128.26 117.85,128.26 118.05,128.26 118.25,128.26 118.45,128.25 118.65,128.25 118.85,128.24 119.05,128.24 119.25,128.23 119.45,128.23 119.65,128.22 119.85,128.21 120.05,128.2 120.25,128.19 120.3,128.18 120.35,128.18 120.4,128.17 120.45,128.17 120.5,128.16 120.55,128.16 120.6,128.15 120.65,128.15 120.7,128.14 120.75,128.14 120.8,128.13 120.85,128.12 120.9,128.12 120.95,128.11 121,128.1 121.05,128.09 121.1,128.08 121.15,128.07 121.2,128.06 121.25,128.05 121.3,128.03 121.35,128.02 121.4,128.01 121.45,127.99 121.5,127.97 121.55,127.95 121.6,127.93 121.65,127.91 121.7,127.88 121.75,127.85 121.8,127.82 121.85,127.79 121.9,127.75 121.95,127.71 122,127.66 122.05,127.61 122.1,127.55 122.15,127.48 122.2,127.4 122.25,127.31 122.3,127.21 122.35,127.08 122.4,126.93 122.45,126.75 122.5,126.52 122.55,126.2 122.6,125.78 122.65,125.18 122.7,124.32 122.75,123.13 122.8,121.49 122.85,119.31 122.9,116.53 122.95,113.19 123,109.39 123.05,105.42 123.1,101.76 123.15,99.08 123.2,98.09 123.25,99.08 123.3,101.75 123.35,105.42 123.4,109.39 123.45,113.19 123.5,116.53 123.55,119.3 123.6,121.48 123.65,123.13 123.7,124.32 123.75,125.17 123.8,125.77 123.85,126.2 123.9,126.51 123.95,126.74 124,126.93 124.05,127.08 124.1,127.2 124.15,127.3 124.2,127.39 124.25,127.47 124.3,127.54 124.35,127.6 124.4,127.65 124.45,127.7 124.5,127.74 124.55,127.78 124.6,127.81 124.65,127.84 124.7,127.87 124.75,127.9 124.8,127.92 124.85,127.94 124.9,127.96 124.95,127.97 125,127.99 125.05,128 125.1,128.02 125.15,128.03 125.2,128.04 125.25,128.05 125.3,128.06 125.35,128.07 125.4,128.08 125.45,128.09 125.5,128.09 125.55,128.1 125.6,128.1 125.65,128.11 125.7,128.12 125.75,128.12 125.8,128.12 125.85,128.13 125.9,128.13 125.95,128.14 126,128.14 126.05,128.14 126.1,128.14 126.15,128.15 126.2,128.15 126.25,128.15 126.3,128.15 126.35,128.15 126.4,128.15 126.45,128.15 126.5,128.15 126.55,128.15 126.6,128.15 126.65,128.15 126.7,128.15 126.75,128.15 126.8,128.15 126.85,128.15 126.9,128.15 126.95,128.15 127,128.14 127.05,128.14 127.1,128.14 127.15,128.13 127.2,128.13 127.25,128.12 127.3,128.12 127.35,128.11 127.4,128.1 127.45,128.1 127.5,128.09 127.55,128.08 127.6,128.07 127.65,128.05 127.7,128.04 127.75,128.02 127.8,128 127.85,127.98 127.9,127.95 127.95,127.92 128,127.87 128.05,127.82 128.1,127.75 128.15,127.66 128.2,127.55 128.25,127.41 128.3,127.22 128.35,126.99 128.4,126.72 128.45,126.39 128.5,126 128.55,125.56 128.6,125.08 128.65,124.58 128.7,124.08 128.75,123.61 128.8,123.22 128.85,122.96 128.9,122.87 128.95,122.96 129,123.22 129.05,123.61 129.1,124.08 129.15,124.59 129.2,125.09 129.25,125.57 129.3,126.01 129.35,126.39 129.4,126.73 129.45,127.01 129.5,127.23 129.55,127.42 129.6,127.56 129.65,127.68 129.7,127.77 129.75,127.84 129.8,127.89 129.85,127.94 129.9,127.97 129.95,128 130,128.02 130.05,128.05 130.1,128.06 130.15,128.08 130.2,128.09 130.25,128.11 130.3,128.12 130.35,128.13 130.4,128.14 130.45,128.15 130.5,128.15 130.55,128.16 130.6,128.17 130.65,128.17 130.7,128.18 130.75,128.19 130.8,128.19 130.85,128.2 130.9,128.2 130.95,128.2 131,128.21 131.05,128.21 131.1,128.21 131.15,128.22 131.2,128.22 131.25,128.22 131.3,128.22 131.35,128.23 131.4,128.23 131.45,128.23 131.5,128.23 131.55,128.24 131.6,128.24 131.65,128.24 131.7,128.24 131.75,128.24 131.8,128.24 131.85,128.25 131.9,128.25 131.95,128.25 132.15,128.25 132.35,128.26 132.55,128.26 132.75,128.26 132.95,128.26 133.15,128.27 133.35,128.27 133.55,128.27 133.75,128.27 133.95,128.27 134.15,128.27 134.35,128.28 134.55,128.28 134.75,128.28 134.95,128.28 135.55,128.28 136.15,128.28 136.75,128.28 137.35,128.28 137.95,128.28 138.55,128.28 139.15,128.28 139.75,128.28 140.35,128.28 140.95,128.28 141.55,128.27 142.15,128.27 142.75,128.27 143.35,128.26 143.55,128.26 143.75,128.26 143.95,128.26 144.15,128.25 144.35,128.25 144.55,128.25 144.75,128.24 144.95,128.24 145.15,128.23 145.35,128.22 145.55,128.22 145.75,128.21 145.95,128.2 146.15,128.18 146.35,128.17 146.4,128.16 146.45,128.16 146.5,128.15 146.55,128.15 146.6,128.14 146.65,128.14 146.7,128.13 146.75,128.12 146.8,128.12 146.85,128.11 146.9,128.1 146.95,128.1 147,128.09 147.05,128.08 147.1,128.07 147.15,128.06 147.2,128.05 147.25,128.03 147.3,128.02 147.35,128.01 147.4,127.99 147.45,127.98 147.5,127.96 147.55,127.94 147.6,127.92 147.65,127.9 147.7,127.87 147.75,127.84 147.8,127.81 147.85,127.78 147.9,127.75 147.95,127.71 148,127.66 148.05,127.61 148.1,127.56 148.15,127.49 148.2,127.42 148.25,127.34 148.3,127.25 148.35,127.15 148.4,127.02 148.45,126.87 148.5,126.69 148.55,126.46 148.6,126.15 148.65,125.74 148.7,125.18 148.75,124.41 148.8,123.36 148.85,121.96 148.9,120.13 148.95,117.83 149,115.05 149.05,111.85 149.1,108.36 149.15,104.85 149.2,101.72 149.25,99.5 149.3,98.69 149.35,99.5 149.4,101.72 149.45,104.85 149.5,108.36 149.55,111.85 149.6,115.05 149.65,117.83 149.7,120.13 149.75,121.96 149.8,123.36 149.85,124.41 149.9,125.18 149.95,125.74 150,126.15 150.05,126.46 150.1,126.69 150.15,126.87 150.2,127.02 150.25,127.15 150.3,127.25 150.35,127.34 150.4,127.42 150.45,127.49 150.5,127.56 150.55,127.61 150.6,127.66 150.65,127.71 150.7,127.74 150.75,127.78 150.8,127.81 150.85,127.84 150.9,127.87 150.95,127.89 151,127.92 151.05,127.94 151.1,127.96 151.15,127.97 151.2,127.99 151.25,128.01 151.3,128.02 151.35,128.03 151.4,128.04 151.45,128.06 151.5,128.07 151.55,128.08 151.6,128.09 151.65,128.09 151.7,128.1 151.75,128.11 151.8,128.12 151.85,128.12 151.9,128.13 151.95,128.14 152,128.14 152.05,128.15 152.1,128.15 152.15,128.16 152.2,128.16 152.25,128.17 152.3,128.17 152.5,128.19 152.7,128.2 152.9,128.21 153.1,128.22 153.3,128.22 153.5,128.23 153.7,128.24 153.9,128.24 154.1,128.24 154.3,128.25 154.5,128.25 154.7,128.25 154.9,128.26 155.1,128.26 155.3,128.26 155.9,128.26 156.5,128.27 157.1,128.27 157.3,128.27 157.5,128.27 157.7,128.27 157.9,128.27 158.1,128.27 158.3,128.27 158.5,128.27 158.7,128.26 158.9,128.26 159.1,128.26 159.3,128.26 159.5,128.26 159.7,128.25 159.9,128.25 160.1,128.24 160.15,128.24 160.2,128.24 160.25,128.24 160.3,128.24 160.35,128.24 160.4,128.23 160.45,128.23 160.5,128.23 160.55,128.23 160.6,128.22 160.65,128.22 160.7,128.22 160.75,128.22 160.8,128.21 160.85,128.21 160.9,128.21 160.95,128.2 161,128.2 161.05,128.19 161.1,128.19 161.15,128.18 161.2,128.18 161.25,128.17 161.3,128.16 161.35,128.16 161.4,128.15 161.45,128.14 161.5,128.13 161.55,128.12 161.6,128.11 161.65,128.1 161.7,128.08 161.75,128.07 161.8,128.05 161.85,128.02 161.9,128 161.95,127.97 162,127.93 162.05,127.88 162.1,127.82 162.15,127.75 162.2,127.66 162.25,127.55 162.3,127.41 162.35,127.25 162.4,127.05 162.45,126.81 162.5,126.54 162.55,126.23 162.6,125.89 162.65,125.52 162.7,125.13 162.75,124.74 162.8,124.35 162.85,124.01 162.9,123.73 162.95,123.55 163,123.49 163.05,123.55 163.1,123.74 163.15,124.01 163.2,124.35 163.25,124.74 163.3,125.13 163.35,125.52 163.4,125.89 163.45,126.23 163.5,126.54 163.55,126.81 163.6,127.05 163.65,127.25 163.7,127.41 163.75,127.55 163.8,127.66 163.85,127.75 163.9,127.83 163.95,127.88 164,127.93 164.05,127.97 164.1,128 164.15,128.03 164.2,128.05 164.25,128.07 164.3,128.08 164.35,128.1 164.4,128.11 164.45,128.12 164.5,128.13 164.55,128.14 164.6,128.15 164.65,128.16 164.7,128.17 164.75,128.17 164.8,128.18 164.85,128.19 164.9,128.19 164.95,128.2 165,128.2 165.05,128.21 165.1,128.21 165.15,128.21 165.2,128.22 165.25,128.22 165.3,128.22 165.35,128.23 165.4,128.23 165.45,128.23 165.5,128.23 165.55,128.24 165.6,128.24 165.65,128.24 165.7,128.24 165.75,128.24 165.8,128.25 165.85,128.25 165.9,128.25 165.95,128.25 166,128.25 166.2,128.26 166.4,128.26 166.6,128.26 166.8,128.27 167,128.27 167.2,128.27 167.4,128.27 167.6,128.28 167.8,128.28 168,128.28 168.2,128.28 168.4,128.28 168.6,128.28 168.8,128.28 169,128.28 169.6,128.29 170.2,128.29 170.8,128.29 171.4,128.29 172,128.29 172.6,128.29 173.2,128.29 173.8,128.29 174.4,128.29 175,128.29 175.6,128.29 176.2,128.29 176.8,128.29 177.4,128.29 178,128.29 178.6,128.29 179.2,128.29 179.8,128.29 180.4,128.29 181,128.29 181.6,128.29 182.2,128.29 182.8,128.29 183.4,128.29 184,128.29 184.6,128.29 185.2,128.29 185.8,128.29 186.4,128.29 187,128.29 187.6,128.29 188.2,128.29 188.8,128.29 189.4,128.29 190,128.29 190.6,128.28 191.2,128.28 191.8,128.28 192,128.28 192.2,128.28 192.4,128.27 192.6,128.27 192.8,128.27 193,128.27 193.2,128.27 193.4,128.26 193.6,128.26 193.8,128.25 194,128.25 194.2,128.24 194.4,128.24 194.6,128.23 194.65,128.23 194.7,128.22 194.75,128.22 194.8,128.22 194.85,128.22 194.9,128.21 194.95,128.21 195,128.21 195.05,128.2 195.1,128.2 195.15,128.2 195.2,128.19 195.25,128.19 195.3,128.18 195.35,128.18 195.4,128.17 195.45,128.17 195.5,128.16 195.55,128.16 195.6,128.15 195.65,128.14 195.7,128.13 195.75,128.13 195.8,128.12 195.85,128.11 195.9,128.1 195.95,128.08 196,128.07 196.05,128.06 196.1,128.04 196.15,128.03 196.2,128.01 196.25,127.99 196.3,127.96 196.35,127.94 196.4,127.9 196.45,127.87 196.5,127.82 196.55,127.77 196.6,127.7 196.65,127.62 196.7,127.52 196.75,127.4 196.8,127.26 196.85,127.08 196.9,126.86 196.95,126.61 197,126.31 197.05,125.96 197.1,125.57 197.15,125.13 197.2,124.65 197.25,124.15 197.3,123.62 197.35,123.09 197.4,122.6 197.45,122.15 197.5,121.8 197.55,121.57 197.6,121.5 197.65,121.57 197.7,121.8 197.75,122.15 197.8,122.6 197.85,123.09 197.9,123.62 197.95,124.14 198,124.65 198.05,125.13 198.1,125.57 198.15,125.96 198.2,126.31 198.25,126.61 198.3,126.86 198.35,127.08 198.4,127.26 198.45,127.4 198.5,127.52 198.55,127.62 198.6,127.7 198.65,127.77 198.7,127.82 198.75,127.87 198.8,127.9 198.85,127.93 198.9,127.96 198.95,127.99 199,128.01 199.05,128.03 199.1,128.04 199.15,128.06 199.2,128.07 199.25,128.08 199.3,128.1 199.35,128.11 199.4,128.12 199.45,128.12 199.5,128.13 199.55,128.14 199.6,128.15 199.65,128.16 199.7,128.16 199.75,128.17 199.8,128.17 199.85,128.18 199.9,128.18 199.95,128.19 200,128.19 200.05,128.2 200.1,128.2 200.15,128.2 200.2,128.21 200.25,128.21 200.3,128.21 200.35,128.22 200.4,128.22 200.45,128.22 200.5,128.22 200.55,128.23 200.6,128.23 200.8,128.24 201,128.24 201.2,128.25 201.4,128.25 201.6,128.26 201.8,128.26 202,128.26 202.2,128.27 202.4,128.27 202.6,128.27 202.8,128.27 203,128.27 203.2,128.27 203.4,128.27 203.6,128.28 204.2,128.28 204.8,128.28 205.4,128.28 206,128.28 206.6,128.28 207.2,128.28 207.8,128.28 208.4,128.28 209,128.28 209.6,128.28 210.2,128.27 210.8,128.27 211.4,128.26 212,128.26 212.2,128.25 212.4,128.25 212.6,128.25 212.8,128.24 213,128.24 213.2,128.23 213.4,128.23 213.6,128.22 213.8,128.21 214,128.2 214.2,128.19 214.4,128.18 214.6,128.16 214.65,128.15 214.7,128.15 214.75,128.14 214.8,128.14 214.85,128.13 214.9,128.13 214.95,128.12 215,128.11 215.05,128.11 215.1,128.1 215.15,128.09 215.2,128.08 215.25,128.07 215.3,128.06 215.35,128.05 215.4,128.04 215.45,128.03 215.5,128.01 215.55,128 215.6,127.99 215.65,127.97 215.7,127.95 215.75,127.93 215.8,127.91 215.85,127.89 215.9,127.87 215.95,127.84 216,127.81 216.05,127.78 216.1,127.74 216.15,127.69 216.2,127.64 216.25,127.59 216.3,127.52 216.35,127.43 216.4,127.34 216.45,127.22 216.5,127.08 216.55,126.91 216.6,126.7 216.65,126.46 216.7,126.17 216.75,125.84 216.8,125.45 216.85,125.01 216.9,124.5 216.95,123.94 217,123.32 217.05,122.66 217.1,121.95 217.15,121.22 217.2,120.49 217.25,119.77 217.3,119.11 217.35,118.53 217.4,118.08 217.45,117.8 217.5,117.7 217.55,117.8 217.6,118.08 217.65,118.53 217.7,119.11 217.75,119.77 217.8,120.49 217.85,121.23 217.9,121.95 217.95,122.66 218,123.32 218.05,123.94 218.1,124.5 218.15,125.01 218.2,125.45 218.25,125.84 218.3,126.17 218.35,126.46 218.4,126.7 218.45,126.91 218.5,127.08 218.55,127.22 218.6,127.34 218.65,127.43 218.7,127.52 218.75,127.59 218.8,127.64 218.85,127.69 218.9,127.74 218.95,127.78 219,127.81 219.05,127.84 219.1,127.87 219.15,127.89 219.2,127.91 219.25,127.93 219.3,127.95 219.35,127.97 219.4,127.99 219.45,128 219.5,128.02 219.55,128.03 219.6,128.04 219.65,128.05 219.7,128.06 219.75,128.07 219.8,128.08 219.85,128.09 219.9,128.1 219.95,128.11 220,128.11 220.05,128.12 220.1,128.13 220.15,128.13 220.2,128.14 220.25,128.14 220.3,128.15 220.35,128.15 220.4,128.16 220.45,128.16 220.5,128.17 220.7,128.18 220.9,128.2 221.1,128.21 221.3,128.22 221.5,128.22 221.7,128.23 221.9,128.24 222.1,128.24 222.3,128.25 222.5,128.25 222.7,128.25 222.9,128.26 223.1,128.26 223.3,128.26 223.5,128.27 224.1,128.27 224.7,128.28 225.3,128.28 225.9,128.28 226.5,128.28" fill="none" stroke="#ea585e" stroke-width="1.7" stroke-linejoin="round"/>
<circle cx="65.8" cy="36.5" r="1.6" fill="#fff" stroke="#555" stroke-width="0.9"/>
<circle cx="123.2" cy="97.5" r="1.6" fill="#fff" stroke="#555" stroke-width="0.9"/>
<circle cx="149.3" cy="98.1" r="1.6" fill="#fff" stroke="#555" stroke-width="0.9"/>
<line x1="66" y1="135.2" x2="66" y2="139.5" stroke="#4fbf5f" stroke-width="1.1"/>
<line x1="105.4" y1="135.2" x2="105.4" y2="139.5" stroke="#4fbf5f" stroke-width="1.1"/>
<line x1="123.6" y1="135.2" x2="123.6" y2="139.5" stroke="#4fbf5f" stroke-width="1.1"/>
<line x1="129.1" y1="135.2" x2="129.1" y2="139.5" stroke="#4fbf5f" stroke-width="1.1"/>
<line x1="149.4" y1="135.2" x2="149.4" y2="139.5" stroke="#4fbf5f" stroke-width="1.1"/>
<line x1="163.7" y1="135.2" x2="163.7" y2="139.5" stroke="#4fbf5f" stroke-width="1.1"/>
<line x1="185.4" y1="135.2" x2="185.4" y2="139.5" stroke="#4fbf5f" stroke-width="1.1"/>
<line x1="197.6" y1="135.2" x2="197.6" y2="139.5" stroke="#4fbf5f" stroke-width="1.1"/>
<line x1="217.6" y1="135.2" x2="217.6" y2="139.5" stroke="#4fbf5f" stroke-width="1.1"/>
<line x1="127.3" y1="139.6" x2="127.3" y2="143.7" stroke="#b98ad8" stroke-width="1.1"/>
<line x1="147.3" y1="139.6" x2="147.3" y2="143.7" stroke="#b98ad8" stroke-width="1.1"/>
<line x1="214.2" y1="139.6" x2="214.2" y2="143.7" stroke="#b98ad8" stroke-width="1.1"/>
<polyline points="33.9,150.58 34.4,150.21 34.9,150.46 35.4,150.28 35.9,150.17 36.4,150.52 36.9,150.14 37.4,150.07 37.9,150.1 38.4,149.99 38.9,150.26 39.4,150.12 39.9,150.25 40.4,150.05 40.9,149.84 41.4,150.07 41.9,149.76 42.4,149.75 42.9,149.77 43.4,149.77 43.9,149.93 44.4,149.6 44.9,149.73 45.4,149.65 45.9,149.43 46.4,149.44 46.9,149.57 47.4,149.67 47.9,149.65 48.4,149.68 48.9,149.61 49.4,149.54 49.9,149.7 50.4,149.48 50.9,149.45 51.4,149.64 51.9,149.48 52.4,149.66 52.9,149.66 53.4,149.72 53.9,149.84 54.4,149.76 54.9,149.86 55.4,149.68 55.9,150.03 56.4,149.9 56.9,150.15 57.4,149.65 57.9,150.02 58.4,150.23 58.9,149.83 59.4,150.2 59.9,150.31 60.4,150.34 60.9,150.1 61.4,150.41 61.9,150.42 62.4,150.26 62.9,150.56 63.4,150.45 63.9,150.48 64.4,150.42 64.9,149.84 65.4,148.45 65.9,151.39 66.4,152.72 66.9,150.45 67.4,150.52 67.9,150.71 68.4,150.51 68.9,150.64 69.4,150.66 69.9,150.55 70.4,150.2 70.9,150.61 71.4,150.62 71.9,150.61 72.4,150.47 72.9,150.79 73.4,150.57 73.9,150.49 74.4,150.48 74.9,150.66 75.4,150.42 75.9,150.43 76.4,150.93 76.9,150.81 77.4,150.77 77.9,150.82 78.4,150.7 78.9,150.32 79.4,150.8 79.9,150.8 80.4,150.68 80.9,150.28 81.4,150.8 81.9,150.82 82.4,150.52 82.9,150.62 83.4,150.73 83.9,150.59 84.4,150.78 84.9,150.61 85.4,150.71 85.9,150.61 86.4,150.36 86.9,150.44 87.4,151.12 87.9,150.65 88.4,150.82 88.9,150.79 89.4,150.88 89.9,150.69 90.4,150.5 90.9,150.6 91.4,150.28 91.9,150.57 92.4,150.75 92.9,150.24 93.4,150.63 93.9,150.74 94.4,150.82 94.9,150.45 95.4,150.49 95.9,150.29 96.4,150.43 96.9,150.69 97.4,150.94 97.9,150.41 98.4,150.83 98.9,150.67 99.4,150.52 99.9,150.96 100.4,150.18 100.9,150.59 101.4,150.64 101.9,150.95 102.4,150.9 102.9,150.97 103.4,150.62 103.9,150.76 104.4,150.83 104.9,150.68 105.4,150.66 105.9,150.57 106.4,150.53 106.9,150.4 107.4,150.92 107.9,150.53 108.4,150.26 108.9,150.64 109.4,150.59 109.9,150.63 110.4,150.9 110.9,150.58 111.4,150.56 111.9,150.48 112.4,150.6 112.9,150.53 113.4,150.63 113.9,151.12 114.4,150.67 114.9,150.46 115.4,150.92 115.9,150.74 116.4,150.73 116.9,150.72 117.4,150.74 117.9,150.71 118.4,150.83 118.9,150.77 119.4,150.82 119.9,150.52 120.4,150.6 120.9,150.48 121.4,150.76 121.9,150.74 122.4,149.79 122.9,149.73 123.4,151.73 123.9,151.8 124.4,150.42 124.9,150.58 125.4,150.71 125.9,150.59 126.4,150.66 126.9,150.8 127.4,150.65 127.9,150.42 128.4,150.72 128.9,150.58 129.4,150.62 129.9,150.51 130.4,150.37 130.9,150.39 131.4,150.54 131.9,150.42 132.4,150.15 132.9,150.79 133.4,150.41 133.9,150.48 134.4,150.69 134.9,150.2 135.4,150.82 135.9,150.47 136.4,150.71 136.9,150.52 137.4,150.65 137.9,150.62 138.4,150.6 138.9,150.3 139.4,150.36 139.9,150.59 140.4,150.83 140.9,150.51 141.4,150.69 141.9,150.63 142.4,150.68 142.9,150.76 143.4,150.35 143.9,150.65 144.4,150.57 144.9,150.55 145.4,150.46 145.9,150.47 146.4,150.43 146.9,150.42 147.4,151.02 147.9,150.88 148.4,150.19 148.9,149.59 149.4,150.8 149.9,151.29 150.4,150.3 150.9,150.62 151.4,150.84 151.9,150.59 152.4,150.43 152.9,150.56 153.4,150.43 153.9,150.37 154.4,150.56 154.9,150.53 155.4,150.47 155.9,150.45 156.4,150.45 156.9,150.64 157.4,150.83 157.9,150.57 158.4,150.97 158.9,150.33 159.4,150.65 159.9,150.41 160.4,150.57 160.9,150.62 161.4,150.69 161.9,150.79 162.4,150.51 162.9,150.39 163.4,150.57 163.9,150.65 164.4,150.48 164.9,150.75 165.4,150.88 165.9,150.36 166.4,150.66 166.9,150.77 167.4,150.28 167.9,150.63 168.4,150.56 168.9,150.36 169.4,150.82 169.9,150.64 170.4,150.52 170.9,150.67 171.4,150.71 171.9,150.73 172.4,150.7 172.9,150.67 173.4,150.41 173.9,150.53 174.4,150.62 174.9,150.14 175.4,150.95 175.9,150.54 176.4,150.43 176.9,150.3 177.4,150.64 177.9,150.61 178.4,150.5 178.9,150.53 179.4,150.45 179.9,150.48 180.4,150.58 180.9,150.49 181.4,150.71 181.9,150.58 182.4,150.62 182.9,150.67 183.4,150.81 183.9,150.7 184.4,150.64 184.9,150.57 185.4,150.47 185.9,150.54 186.4,150.71 186.9,150.64 187.4,150.54 187.9,150.38 188.4,150.35 188.9,150.65 189.4,150.77 189.9,150.66 190.4,150.37 190.9,150.56 191.4,150.64 191.9,150.45 192.4,150.66 192.9,150.57 193.4,150.46 193.9,150.39 194.4,150.73 194.9,150.66 195.4,150.45 195.9,150.43 196.4,150.75 196.9,150.7 197.4,150.55 197.9,150.86 198.4,150.55 198.9,150.43 199.4,150.78 199.9,150.57 200.4,150.66 200.9,150.61 201.4,150.43 201.9,150.4 202.4,150.57 202.9,150.83 203.4,150.43 203.9,150.82 204.4,150.64 204.9,150.42 205.4,150.64 205.9,150.69 206.4,150.45 206.9,150.25 207.4,150.66 207.9,150.42 208.4,150.67 208.9,150.28 209.4,150.58 209.9,150.47 210.4,150.36 210.9,150.56 211.4,150.63 211.9,150.51 212.4,150.4 212.9,150.64 213.4,150.31 213.9,150.69 214.4,150.68 214.9,150.88 215.4,150.75 215.9,150.66 216.4,150.64 216.9,150.6 217.4,150.38 217.9,150.84 218.4,150.69 218.9,150.55 219.4,150.41 219.9,150.85 220.4,150.69 220.9,150.4 221.4,150.71 221.9,150.91 222.4,150.6 222.9,150.67 223.4,150.53 223.9,150.5 224.4,150.78 224.9,151.11 225.4,150.62 225.9,150.58 226.4,150.73" fill="none" stroke="#0a8fca" stroke-width="1.7" stroke-linejoin="round"/>
<text x="59.7" y="42.6" font-size="7.5" text-anchor="middle" font-weight="bold" fill="#000" transform="rotate(-90 59.7 42.6)" stroke="#000" stroke-width="0.28">(111)</text>
<text x="124.4" y="86" font-size="7.5" text-anchor="middle" font-weight="bold" fill="#000" transform="rotate(-90 124.4 86)" stroke="#000" stroke-width="0.28">(311)</text>
<text x="131.7" y="110.6" font-size="7.5" text-anchor="middle" font-weight="bold" fill="#000" transform="rotate(-90 131.7 110.6)" stroke="#000" stroke-width="0.28">(222)</text>
<text x="150.5" y="86.2" font-size="7.5" text-anchor="middle" font-weight="bold" fill="#000" transform="rotate(-90 150.5 86.2)" stroke="#000" stroke-width="0.28">(400)</text>
<text x="164.4" y="111.2" font-size="7.5" text-anchor="middle" font-weight="bold" fill="#000" transform="rotate(-90 164.4 111.2)" stroke="#000" stroke-width="0.28">(331)</text>
<text x="199.2" y="108.5" font-size="7.5" text-anchor="middle" font-weight="bold" fill="#000" transform="rotate(-90 199.2 108.5)" stroke="#000" stroke-width="0.28">(511)</text>
<text x="219.9" y="104.6" font-size="7.5" text-anchor="middle" font-weight="bold" fill="#000" transform="rotate(-90 219.9 104.6)" stroke="#000" stroke-width="0.28">(440)</text>
<rect x="33.2" y="15" width="194.2" height="144.5" fill="none" stroke="#000" stroke-width="1.7"/>
<line x1="33.2" y1="159.5" x2="33.2" y2="162.7" stroke="#000" stroke-width="1.4"/>
<text transform="translate(33.2 172.6) scale(1 1.06)" font-size="9.8" text-anchor="middle" font-weight="bold" fill="#000" stroke="#000" stroke-width="0.28">10</text>
<line x1="47.07" y1="159.5" x2="47.07" y2="161.1" stroke="#000" stroke-width="1.4"/>
<line x1="60.94" y1="159.5" x2="60.94" y2="162.7" stroke="#000" stroke-width="1.4"/>
<text transform="translate(60.94 172.6) scale(1 1.06)" font-size="9.8" text-anchor="middle" font-weight="bold" fill="#000" stroke="#000" stroke-width="0.28">20</text>
<line x1="74.81" y1="159.5" x2="74.81" y2="161.1" stroke="#000" stroke-width="1.4"/>
<line x1="88.69" y1="159.5" x2="88.69" y2="162.7" stroke="#000" stroke-width="1.4"/>
<text transform="translate(88.69 172.6) scale(1 1.06)" font-size="9.8" text-anchor="middle" font-weight="bold" fill="#000" stroke="#000" stroke-width="0.28">30</text>
<line x1="102.56" y1="159.5" x2="102.56" y2="161.1" stroke="#000" stroke-width="1.4"/>
<line x1="116.43" y1="159.5" x2="116.43" y2="162.7" stroke="#000" stroke-width="1.4"/>
<text transform="translate(116.43 172.6) scale(1 1.06)" font-size="9.8" text-anchor="middle" font-weight="bold" fill="#000" stroke="#000" stroke-width="0.28">40</text>
<line x1="130.3" y1="159.5" x2="130.3" y2="161.1" stroke="#000" stroke-width="1.4"/>
<line x1="144.17" y1="159.5" x2="144.17" y2="162.7" stroke="#000" stroke-width="1.4"/>
<text transform="translate(144.17 172.6) scale(1 1.06)" font-size="9.8" text-anchor="middle" font-weight="bold" fill="#000" stroke="#000" stroke-width="0.28">50</text>
<line x1="158.04" y1="159.5" x2="158.04" y2="161.1" stroke="#000" stroke-width="1.4"/>
<line x1="171.91" y1="159.5" x2="171.91" y2="162.7" stroke="#000" stroke-width="1.4"/>
<text transform="translate(171.91 172.6) scale(1 1.06)" font-size="9.8" text-anchor="middle" font-weight="bold" fill="#000" stroke="#000" stroke-width="0.28">60</text>
<line x1="185.79" y1="159.5" x2="185.79" y2="161.1" stroke="#000" stroke-width="1.4"/>
<line x1="199.66" y1="159.5" x2="199.66" y2="162.7" stroke="#000" stroke-width="1.4"/>
<text transform="translate(199.66 172.6) scale(1 1.06)" font-size="9.8" text-anchor="middle" font-weight="bold" fill="#000" stroke="#000" stroke-width="0.28">70</text>
<line x1="213.53" y1="159.5" x2="213.53" y2="161.1" stroke="#000" stroke-width="1.4"/>
<line x1="227.4" y1="159.5" x2="227.4" y2="162.7" stroke="#000" stroke-width="1.4"/>
<text transform="translate(227.4 172.6) scale(1 1.06)" font-size="9.8" text-anchor="middle" font-weight="bold" fill="#000" stroke="#000" stroke-width="0.28">80</text>
<text x="130.3" y="182.8" font-size="10.8" text-anchor="middle" font-weight="bold" fill="#000" stroke="#000" stroke-width="0.3">2 Theta (degree)</text>
<text x="27.6" y="87.25" font-size="10.8" text-anchor="middle" font-weight="bold" fill="#000" transform="rotate(-90 27.6 87.25)" stroke="#000" stroke-width="0.3">Intensity (a.u.)</text>
</g>
<g transform="translate(0 179)">
<text transform="translate(8.9 20.6) scale(0.92 1)" font-size="22" font-weight="bold" fill="#000" stroke="#000" stroke-width="0.5">c</text>
<text x="38" y="25.5" font-size="8" text-anchor="start" font-weight="bold" fill="#111" stroke="#111" stroke-width="0.3">LNMO_140</text>
<circle cx="165.7" cy="23.2" r="1.6" fill="none" stroke="#555" stroke-width="0.9"/>
<text x="176.4" y="25.8" font-size="7.5" text-anchor="start" font-weight="bold" fill="#111" stroke="#111" stroke-width="0.3">Yobs</text>
<line x1="156.7" y1="33.7" x2="174.2" y2="33.7" stroke="#ea585e" stroke-width="1.4"/>
<text x="176.4" y="36.2" font-size="7.5" text-anchor="start" font-weight="bold" fill="#111" stroke="#111" stroke-width="0.3">Ycalc</text>
<line x1="156.7" y1="44.3" x2="174.2" y2="44.3" stroke="#0a8fca" stroke-width="1.4"/>
<text x="176.4" y="46.7" font-size="7.5" text-anchor="start" font-weight="bold" fill="#111" xml:space="preserve" stroke="#111" stroke-width="0.3">Yobs  Ycalc</text>
<line x1="165.5" y1="52.6" x2="165.5" y2="56.4" stroke="#4fbf5f" stroke-width="1"/>
<text x="176.4" y="57" font-size="7.5" text-anchor="start" font-weight="bold" fill="#111" stroke="#111" stroke-width="0.3">LiNi<tspan font-size="4.9" dy="1.9">0.5</tspan><tspan dy="-1.9">Mn</tspan><tspan font-size="4.9" dy="1.9">1.5</tspan><tspan dy="-1.9">O</tspan><tspan font-size="4.9" dy="1.9">4</tspan></text>
<line x1="165.5" y1="63.2" x2="165.5" y2="67.0" stroke="#b98ad8" stroke-width="1"/>
<text x="176.4" y="67.5" font-size="7.5" text-anchor="start" font-weight="bold" fill="#111" stroke="#111" stroke-width="0.3">Li<tspan font-size="4.9" dy="1.9">0.5</tspan><tspan dy="-1.9">Ni</tspan><tspan font-size="4.9" dy="1.9">0.5</tspan><tspan dy="-1.9">O</tspan></text>
<polyline points="34,127.91 34.6,128.21 35.2,128.24 35.8,127.7 36.4,127.68 37,127.98 37.6,128.24 38.2,128.08 38.8,128.36 39.4,127.6 40,128.14 40.6,127.81 41.2,128.02 41.8,128.09 42.4,127.71 43,127.93 43.6,127.66 44.2,128.07 44.8,127.75 45.4,127.85 46,128.06 46.6,127.8 47.2,128.33 47.8,127.81 48.4,128.24 49,128.07 49.6,127.69 50.2,127.93 50.8,127.75 51.4,127.88 52,127.91 52.6,128.52 53.2,127.86 53.8,128.44 54.4,128.11 55,127.6 55.6,127.3 56.2,128.17 56.8,127.39 57.4,128.18 58,128.26 58.6,128.07 59.2,127.89 59.8,127.86 60,128.01 60.2,127.84 60.4,127.76 60.6,127.81 60.8,128.25 61,127.72 61.2,128 61.4,127.54 61.6,127.66 61.8,127.45 62,127.78 62.2,128.02 62.4,127.89 62.6,127.63 62.8,127.92 62.85,127.63 62.9,127.83 62.95,127.79 63,127.86 63.05,126.97 63.1,127.3 63.15,127.89 63.2,127.63 63.25,128.3 63.3,127.56 63.35,127.45 63.4,128.03 63.45,127.74 63.5,128.11 63.55,127.69 63.6,127.46 63.65,127.71 63.7,127.25 63.75,127.32 63.8,127.26 63.85,127.33 63.9,127.59 63.95,127.19 64,127.38 64.05,127.11 64.1,127.46 64.15,126.36 64.2,127.05 64.25,127.1 64.3,126.67 64.35,127.21 64.4,126.9 64.45,127.13 64.5,126.94 64.55,126.74 64.6,126.39 64.65,125.99 64.7,126.09 64.75,125.84 64.8,125.85 64.85,125.42 64.9,126.18 64.95,124.54 65,125.34 65.05,124.86 65.1,124.93 65.15,125.27 65.2,125 65.25,124.65 65.3,125.12 65.35,124.94 65.4,124.4 65.45,125.06 65.5,124.69 65.55,124.78 65.6,125.14 65.65,125.09 65.7,124.92 65.75,125.63 65.8,125.12 65.85,124.82 65.9,125.07 65.95,124.96 66,124.36 66.05,124.54 66.1,124.6 66.15,125.6 66.2,124.95 66.25,124.92 66.3,124.84 66.35,125.28 66.4,125.01 66.45,125.49 66.5,125.23 66.55,125.48 66.6,124.97 66.65,125.11 66.7,125.16 66.75,125.5 66.8,125.28 66.85,125.81 66.9,125.87 66.95,126.11 67,126.79 67.05,126.63 67.1,127.01 67.15,127 67.2,127.11 67.25,127.21 67.3,126.81 67.35,127.28 67.4,127.01 67.45,127.01 67.5,127.55 67.55,127.88 67.6,127.01 67.65,127.83 67.7,127.6 67.75,127.15 67.8,127.5 67.85,127.56 67.9,127.59 67.95,127.4 68,127.15 68.05,127.55 68.1,127.81 68.15,127.81 68.2,127.79 68.25,127.93 68.3,127.34 68.35,127.63 68.4,127.76 68.45,127.96 68.5,127.73 68.55,127.84 68.6,127.74 68.65,128.32 68.7,127.09 68.75,127.73 68.8,128.46 68.85,127.82 69.05,127.25 69.25,127.84 69.45,127.41 69.65,127.65 69.85,127.92 70.05,128.37 70.25,128.02 70.45,128.08 70.65,128.19 70.85,127.97 71.05,127.67 71.25,127.89 71.45,128.02 71.65,127.85 71.85,127.74 72.45,127.84 73.05,127.52 73.65,127.67 74.25,127.94 74.85,127.87 75.45,127.98 76.05,128.38 76.65,128.07 77.25,127.97 77.85,127.64 78.45,127.67 79.05,128.09 79.65,127.73 80.25,128.11 80.85,127.68 81.45,128.03 82.05,127.97 82.65,128.28 83.25,127.88 83.85,127.88 84.45,128.06 85.05,128.01 85.65,128.48 86.25,127.92 86.85,127.84 87.45,127.9 88.05,128.13 88.65,128.06 89.25,128.19 89.85,127.59 90.45,128.71 91.05,128.53 91.65,127.99 92.25,127.65 92.85,128.04 93.45,128.11 94.05,127.35 94.65,128 95.25,127.57 95.85,128.13 96.45,128.39 97.05,128.29 97.65,127.56 98.25,128.39 98.85,128.26 99.45,127.89 100.05,128.14 100.65,128.43 101.25,127.9 101.85,127.99 102.45,127.83 103.05,128.33 103.65,127.37 104.25,128.4 104.85,127.71 105.45,128.26 106.05,127.52 106.65,127.72 107.25,127.82 107.85,128.23 108.45,127.52 109.05,128.17 109.65,127.81 110.25,128.35 110.85,127.9 111.45,128.13 112.05,127.94 112.65,128.5 113.25,127.88 113.85,127.98 114.45,128.56 115.05,128 115.65,128.18 116.25,127.76 116.85,128.03 117.45,127.31 117.65,127.99 117.85,127.77 118.05,127.52 118.25,127.54 118.45,128.28 118.65,128.07 118.85,127.5 119.05,128.46 119.25,127.73 119.45,127.82 119.65,127.98 119.85,127.57 120.05,127.42 120.25,127.66 120.3,128.21 120.35,128.14 120.4,127.41 120.45,128.21 120.5,127.86 120.55,127.99 120.6,127.86 120.65,127.96 120.7,127.54 120.75,127.56 120.8,127.61 120.85,127.7 120.9,127.98 120.95,127.44 121,128.24 121.05,127.59 121.1,127.59 121.15,127.96 121.2,127.87 121.25,127.63 121.3,127.41 121.35,127.41 121.4,127.22 121.45,128 121.5,127.96 121.55,128.17 121.6,127.75 121.65,127.67 121.7,127.77 121.75,127.8 121.8,127.41 121.85,127.55 121.9,128.03 121.95,126.88 122,126.91 122.05,126.98 122.1,127.41 122.15,127.46 122.2,126.94 122.25,127.13 122.3,126.81 122.35,126.78 122.4,126.37 122.45,126.32 122.5,126.08 122.55,126.07 122.6,125.93 122.65,124.46 122.7,125.14 122.75,124.99 122.8,125.27 122.85,125.29 122.9,125.21 122.95,125.22 123,124.71 123.05,124.49 123.1,125.47 123.15,125.34 123.2,124.71 123.25,125.36 123.3,125.18 123.35,124.28 123.4,125.25 123.45,124.7 123.5,125.32 123.55,124.79 123.6,124.77 123.65,124.54 123.7,124.92 123.75,125.28 123.8,125.09 123.85,125.2 123.9,126.69 123.95,126.86 124,126.72 124.05,126.53 124.1,126.47 124.15,126.45 124.2,127.19 124.25,127.48 124.3,126.88 124.35,127.25 124.4,127.22 124.45,127.28 124.5,127.54 124.55,128.04 124.6,127.29 124.65,127.75 124.7,127.85 124.75,127.48 124.8,127.55 124.85,127.22 124.9,127.94 124.95,127.5 125,127.48 125.05,127.7 125.1,127.45 125.15,127.41 125.2,127.64 125.25,128.16 125.3,127.68 125.35,127.91 125.4,127.34 125.45,127.21 125.5,128.3 125.55,127.67 125.6,127.35 125.65,127.77 125.7,127.98 125.75,127.31 125.8,127.56 125.85,127.89 125.9,127.55 125.95,128.06 126,128.11 126.05,127.96 126.1,127.71 126.15,127.82 126.2,127.66 126.25,127.8 126.3,127.93 126.35,127.76 126.4,128.13 126.45,128.6 126.5,127.69 126.55,127.95 126.6,128.08 126.65,128.03 126.7,127.78 126.75,127.71 126.8,128.13 126.85,128.02 126.9,127.99 126.95,127.6 127,128.02 127.05,128.06 127.1,127.77 127.15,128.01 127.2,128.45 127.25,127.27 127.3,127.98 127.35,127.46 127.4,127.4 127.45,127.72 127.5,127.93 127.55,127.78 127.6,127.42 127.65,127.32 127.7,127.56 127.75,127.71 127.8,127.45 127.85,127.23 127.9,128.14 127.95,127.36 128,127.51 128.05,127.34 128.1,127.26 128.15,127.35 128.2,127.13 128.25,127.25 128.3,126.54 128.35,126.21 128.4,126.92 128.45,125.99 128.5,125.84 128.55,125.5 128.6,124.83 128.65,124.15 128.7,123.17 128.75,122.67 128.8,123.01 128.85,122.66 128.9,122.53 128.95,121.98 129,122.11 129.05,122.83 129.1,123.28 129.15,124.19 129.2,124.37 129.25,125.63 129.3,125.44 129.35,125.86 129.4,126.62 129.45,126.75 129.5,126.63 129.55,127.32 129.6,127.79 129.65,127 129.7,127.37 129.75,127.21 129.8,127.01 129.85,127.8 129.9,127.86 129.95,127.97 130,127.84 130.05,127.15 130.1,127.75 130.15,127.58 130.2,127.44 130.25,127.48 130.3,128.03 130.35,127.74 130.4,128.4 130.45,127.98 130.5,127.29 130.55,128.12 130.6,128.23 130.65,127.88 130.7,127.52 130.75,128.4 130.8,127.5 130.85,127.87 130.9,127.34 130.95,127.53 131,127.41 131.05,128.22 131.1,128.25 131.15,127.79 131.2,127.52 131.25,127.9 131.3,128.03 131.35,127.48 131.4,127.59 131.45,127.9 131.5,128.14 131.55,127.95 131.6,128.07 131.65,127.57 131.7,127.21 131.75,128.03 131.8,127.67 131.85,127.91 131.9,127.83 131.95,128.09 132.15,127.72 132.35,128.38 132.55,127.97 132.75,128.12 132.95,128.15 133.15,128.27 133.35,128.09 133.55,127.46 133.75,127.79 133.95,128.52 134.15,128.11 134.35,128.14 134.55,128.11 134.75,127.79 134.95,127.78 135.55,127.79 136.15,128.32 136.75,128.09 137.35,128.5 137.95,128.13 138.55,128.53 139.15,128.11 139.75,127.63 140.35,128.49 140.95,128.07 141.55,128.32 142.15,128.03 142.75,127.87 143.35,128.01 143.55,127.63 143.75,127.6 143.95,127.69 144.15,127.79 144.35,127.55 144.55,127.91 144.75,128.03 144.95,128.53 145.15,128.47 145.35,127.9 145.55,128.17 145.75,127.84 145.95,128 146.15,127.86 146.35,127.7 146.4,127.88 146.45,127.41 146.5,127.97 146.55,127.75 146.6,127.51 146.65,127.72 146.7,127.98 146.75,127.61 146.8,127.94 146.85,127.97 146.9,128.25 146.95,127.46 147,127.74 147.05,127.91 147.1,128.19 147.15,127.82 147.2,127.95 147.25,127.28 147.3,127.53 147.35,128.18 147.4,127.58 147.45,128.29 147.5,127.42 147.55,127.53 147.6,127.12 147.65,127.75 147.7,127.62 147.75,128.11 147.8,127.53 147.85,127.37 147.9,126.99 147.95,127.34 148,127.59 148.05,127.48 148.1,127.56 148.15,127.39 148.2,127.05 148.25,127.15 148.3,126.93 148.35,126.37 148.4,127.13 148.45,126.58 148.5,125.96 148.55,126.13 148.6,125.78 148.65,125.55 148.7,125.42 148.75,124.09 148.8,125.16 148.85,125.45 148.9,124.71 148.95,124.44 149,125.08 149.05,125.09 149.1,125.1 149.15,124.67 149.2,124.86 149.25,125.05 149.3,125.22 149.35,125.65 149.4,125.08 149.45,124.82 149.5,124.29 149.55,125.31 149.6,124.96 149.65,124.96 149.7,124.7 149.75,125.21 149.8,124.46 149.85,125.03 149.9,125.03 149.95,125.34 150,126.08 150.05,125.99 150.1,126.3 150.15,126.72 150.2,126.17 150.25,126.67 150.3,126.9 150.35,127.26 150.4,126.82 150.45,127.37 150.5,127.32 150.55,126.82 150.6,126.87 150.65,126.93 150.7,127.45 150.75,127.5 150.8,127.69 150.85,127.75 150.9,127.37 150.95,127.88 151,127.83 151.05,127.75 151.1,127.77 151.15,127.27 151.2,127.78 151.25,127.38 151.3,127.34 151.35,127.61 151.4,127.77 151.45,127.72 151.5,127.65 151.55,127.46 151.6,127.83 151.65,127.56 151.7,127.37 151.75,127.82 151.8,128.24 151.85,127.69 151.9,127.5 151.95,128.24 152,128.34 152.05,127.75 152.1,127.78 152.15,127.91 152.2,128.73 152.25,127.9 152.3,128.16 152.5,128.01 152.7,127.35 152.9,127.57 153.1,127.54 153.3,128.05 153.5,127.96 153.7,128.47 153.9,127.86 154.1,128.03 154.3,127.97 154.5,127.99 154.7,128.64 154.9,128.04 155.1,128.4 155.3,128.35 155.9,127.78 156.5,128.17 157.1,127.85 157.3,128 157.5,128.01 157.7,127.97 157.9,127.83 158.1,128.43 158.3,127.89 158.5,128.17 158.7,128.47 158.9,128.15 159.1,128.27 159.3,128.37 159.5,128.28 159.7,128.47 159.9,127.52 160.1,128.53 160.15,127.95 160.2,127.42 160.25,127.75 160.3,127.52 160.35,127.93 160.4,127.49 160.45,127.63 160.5,128.02 160.55,127.97 160.6,127.68 160.65,127.85 160.7,127.89 160.75,127.94 160.8,127.91 160.85,127.84 160.9,128.17 160.95,127.42 161,127.75 161.05,127.93 161.1,127.77 161.15,127.72 161.2,127.75 161.25,127.93 161.3,128.24 161.35,127.8 161.4,127.77 161.45,127.95 161.5,127.76 161.55,127.24 161.6,127.89 161.65,127.68 161.7,127.61 161.75,127.95 161.8,127.76 161.85,127.55 161.9,127.04 161.95,127.15 162,127.63 162.05,127.55 162.1,127.65 162.15,127.52 162.2,127.22 162.25,126.87 162.3,126.78 162.35,126.9 162.4,126.4 162.45,126.74 162.5,125.84 162.55,125.4 162.6,125.53 162.65,124.69 162.7,125.32 162.75,124.14 162.8,124.04 162.85,123.64 162.9,123.19 162.95,122.72 163,122.63 163.05,123.51 163.1,123.74 163.15,124.36 163.2,123.61 163.25,124.6 163.3,124.83 163.35,125.47 163.4,125.44 163.45,126.15 163.5,126.51 163.55,126.7 163.6,127.18 163.65,126.9 163.7,127.58 163.75,127.04 163.8,127.86 163.85,126.63 163.9,127.53 163.95,127.34 164,127.63 164.05,127.98 164.1,127.91 164.15,127.75 164.2,128.26 164.25,127.32 164.3,127.54 164.35,128.25 164.4,127.91 164.45,127.2 164.5,127.94 164.55,127.49 164.6,128.29 164.65,128.2 164.7,127.7 164.75,128.26 164.8,127.63 164.85,128.16 164.9,128.06 164.95,127.86 165,127.47 165.05,127.82 165.1,127.22 165.15,127.74 165.2,127.36 165.25,128.28 165.3,127.63 165.35,127.2 165.4,128.1 165.45,128.04 165.5,127.78 165.55,128.57 165.6,128.17 165.65,127.96 165.7,127.75 165.75,127.06 165.8,128.09 165.85,128.24 165.9,127.77 165.95,127.53 166,127.94 166.2,127.45 166.4,127.96 166.6,128.2 166.8,128.42 167,128.05 167.2,128.03 167.4,128.2 167.6,128.4 167.8,127.88 168,127.61 168.2,127.74 168.4,127.6 168.6,127.72 168.8,127.95 169,128.09 169.6,128.03 170.2,128.01 170.8,127.88 171.4,128.12 172,128.26 172.6,128.22 173.2,128.44 173.8,127.9 174.4,127.92 175,128.5 175.6,128.05 176.2,128.12 176.8,127.89 177.4,128.28 178,127.87 178.6,127.69 179.2,127.98 179.8,127.86 180.4,128.24 181,127.88 181.6,128.03 182.2,127.93 182.8,128.1 183.4,127.8 184,128.32 184.6,127.56 185.2,127.88 185.8,127.78 186.4,128.19 187,128 187.6,128.13 188.2,127.89 188.8,127.77 189.4,127.65 190,127.88 190.6,127.82 191.2,128.06 191.8,128.08 192,128.27 192.2,127.94 192.4,127.75 192.6,127.65 192.8,127.98 193,128.07 193.2,128.54 193.4,128.01 193.6,128.48 193.8,128.51 194,127.63 194.2,128.3 194.4,128.27 194.6,128.32 194.65,127.91 194.7,128.2 194.75,127.76 194.8,127.88 194.85,127.91 194.9,128.43 194.95,127.83 195,128.18 195.05,127.91 195.1,127.67 195.15,127.95 195.2,128.07 195.25,127.66 195.3,128.05 195.35,127.64 195.4,127.59 195.45,127.91 195.5,127.77 195.55,127.54 195.6,127.33 195.65,127.82 195.7,127.88 195.75,127.66 195.8,127.84 195.85,127.31 195.9,127.88 195.95,127.87 196,127.82 196.05,127.53 196.1,127.72 196.15,127.72 196.2,127.98 196.25,127.71 196.3,127.68 196.35,127.35 196.4,127.79 196.45,127.84 196.5,127.29 196.55,127.57 196.6,127.39 196.65,127.19 196.7,126.7 196.75,127.47 196.8,126.21 196.85,126.65 196.9,126.2 196.95,126.35 197,125.53 197.05,125.26 197.1,124.97 197.15,124.41 197.2,123.55 197.25,123.32 197.3,122.61 197.35,122.17 197.4,121.14 197.45,120.76 197.5,120.24 197.55,119.84 197.6,120.07 197.65,120.21 197.7,120.78 197.75,120.67 197.8,121.41 197.85,122.22 197.9,122.46 197.95,123.13 198,123.75 198.05,124.06 198.1,124.49 198.15,125.58 198.2,125.71 198.25,125.98 198.3,125.94 198.35,126.6 198.4,127.12 198.45,126.6 198.5,126.82 198.55,127.53 198.6,127.72 198.65,127.84 198.7,127.27 198.75,127.67 198.8,127.31 198.85,127.73 198.9,127.49 198.95,127.69 199,128.06 199.05,127.78 199.1,127.62 199.15,127.73 199.2,127.81 199.25,127.59 199.3,127.82 199.35,127.95 199.4,128.25 199.45,127.18 199.5,127.45 199.55,127.44 199.6,128.08 199.65,128.56 199.7,127.9 199.75,127.88 199.8,128.19 199.85,127.13 199.9,127.81 199.95,126.94 200,127.92 200.05,127.73 200.1,127.74 200.15,127.99 200.2,127.72 200.25,128.23 200.3,127.9 200.35,128.01 200.4,128.66 200.45,127.77 200.5,128.19 200.55,127.67 200.6,128.29 200.8,128.21 201,127.97 201.2,128.23 201.4,128.42 201.6,128.36 201.8,127.95 202,127.94 202.2,128.29 202.4,127.52 202.6,127.78 202.8,128.11 203,128.14 203.2,128.52 203.4,128.49 203.6,128.07 204.2,128.11 204.8,127.58 205.4,127.92 206,128.06 206.6,127.91 207.2,128 207.8,128.16 208.4,127.69 209,127.81 209.6,127.44 210.2,128.31 210.8,127.65 211.4,127.45 212,128.18 212.2,127.88 212.4,128.23 212.6,127.83 212.8,128.57 213,128.14 213.2,127.97 213.4,127.95 213.6,127.85 213.8,128.14 214,128.48 214.2,127.75 214.4,127.54 214.6,128.02 214.65,128.15 214.7,127.39 214.75,127.62 214.8,127.52 214.85,127.98 214.9,127.95 214.95,127.58 215,127.45 215.05,127.98 215.1,127.16 215.15,127.95 215.2,127.71 215.25,128.31 215.3,128.02 215.35,127.55 215.4,127.62 215.45,127.61 215.5,127.46 215.55,127.69 215.6,127.93 215.65,127.18 215.7,127.54 215.75,128.03 215.8,127.78 215.85,127.3 215.9,127.27 215.95,127.23 216,126.97 216.05,127.75 216.1,127.38 216.15,127.11 216.2,126.83 216.25,127.08 216.3,126.96 216.35,127.53 216.4,126.77 216.45,126.81 216.5,126.93 216.55,126.62 216.6,126.14 216.65,125.27 216.7,126.01 216.75,125.39 216.8,124.65 216.85,124.24 216.9,123.42 216.95,122.8 217,121.93 217.05,121.76 217.1,120.97 217.15,120.04 217.2,119.39 217.25,118.51 217.3,117.63 217.35,116.68 217.4,116.61 217.45,116.46 217.5,116.18 217.55,116.48 217.6,116.29 217.65,116.65 217.7,117.96 217.75,118.18 217.8,119.23 217.85,119.93 217.9,120.82 217.95,121.53 218,122.21 218.05,122.54 218.1,124.26 218.15,124.33 218.2,124.21 218.25,124.95 218.3,125.26 218.35,125.7 218.4,125.44 218.45,126.59 218.5,127.1 218.55,126.7 218.6,127.13 218.65,127.2 218.7,126.75 218.75,127.55 218.8,126.76 218.85,127.15 218.9,127.26 218.95,127.78 219,127.48 219.05,127.44 219.1,127.27 219.15,127.56 219.2,127.57 219.25,127.8 219.3,128.02 219.35,127.84 219.4,127.65 219.45,127.62 219.5,128.15 219.55,127.75 219.6,127.7 219.65,128.25 219.7,128.19 219.75,127.91 219.8,127.72 219.85,127.58 219.9,128.09 219.95,127.65 220,128.07 220.05,127.57 220.1,127.83 220.15,127.93 220.2,127.86 220.25,127.89 220.3,127.94 220.35,127.51 220.4,127.52 220.45,127.8 220.5,128.38 220.7,127.83 220.9,127.61 221.1,127.7 221.3,127.92 221.5,128.26 221.7,127.76 221.9,128.09 222.1,127.99 222.3,127.84 222.5,127.67 222.7,127.9 222.9,127.74 223.1,128.11 223.3,127.44 223.5,128.29 224.1,128.19 224.7,128.14 225.3,128.42 225.9,128.16 226.5,127.48" fill="none" stroke="#404c4a" stroke-width="4.2" stroke-linejoin="round" stroke-linecap="round"/>
<circle cx="65.65" cy="45.2" r="1.55" fill="none" stroke="#444" stroke-width="1.0"/>
<circle cx="65.95" cy="50.5" r="1.55" fill="none" stroke="#444" stroke-width="1.0"/>
<circle cx="65.65" cy="65.2" r="1.55" fill="none" stroke="#444" stroke-width="1.0"/>
<circle cx="65.95" cy="74.4" r="1.55" fill="none" stroke="#444" stroke-width="1.0"/>
<circle cx="65.65" cy="84" r="1.55" fill="none" stroke="#444" stroke-width="1.0"/>
<circle cx="65.95" cy="93" r="1.55" fill="none" stroke="#444" stroke-width="1.0"/>
<circle cx="65.65" cy="97.8" r="1.55" fill="none" stroke="#444" stroke-width="1.0"/>
<circle cx="65.95" cy="106.4" r="1.55" fill="none" stroke="#444" stroke-width="1.0"/>
<circle cx="65.65" cy="110.8" r="1.55" fill="none" stroke="#444" stroke-width="1.0"/>
<circle cx="65.95" cy="115.3" r="1.55" fill="none" stroke="#444" stroke-width="1.0"/>
<circle cx="65.65" cy="119.8" r="1.55" fill="none" stroke="#444" stroke-width="1.0"/>
<circle cx="65.95" cy="124.2" r="1.55" fill="none" stroke="#444" stroke-width="1.0"/>
<circle cx="122.2" cy="95.79" r="1.3" fill="none" stroke="#505050" stroke-width="0.85"/>
<circle cx="122.11" cy="99.05" r="1.3" fill="none" stroke="#505050" stroke-width="0.85"/>
<circle cx="122.05" cy="103.68" r="1.3" fill="none" stroke="#505050" stroke-width="0.85"/>
<circle cx="121.99" cy="108.8" r="1.3" fill="none" stroke="#505050" stroke-width="0.85"/>
<circle cx="121.93" cy="113.55" r="1.3" fill="none" stroke="#505050" stroke-width="0.85"/>
<circle cx="121.87" cy="117.51" r="1.3" fill="none" stroke="#505050" stroke-width="0.85"/>
<circle cx="121.81" cy="120.55" r="1.3" fill="none" stroke="#505050" stroke-width="0.85"/>
<circle cx="121.72" cy="123.56" r="1.3" fill="none" stroke="#505050" stroke-width="0.85"/>
<circle cx="124.2" cy="95.79" r="1.3" fill="none" stroke="#505050" stroke-width="0.85"/>
<circle cx="124.29" cy="99.05" r="1.3" fill="none" stroke="#505050" stroke-width="0.85"/>
<circle cx="124.35" cy="103.68" r="1.3" fill="none" stroke="#505050" stroke-width="0.85"/>
<circle cx="124.41" cy="108.79" r="1.3" fill="none" stroke="#505050" stroke-width="0.85"/>
<circle cx="124.47" cy="113.54" r="1.3" fill="none" stroke="#505050" stroke-width="0.85"/>
<circle cx="124.53" cy="117.5" r="1.3" fill="none" stroke="#505050" stroke-width="0.85"/>
<circle cx="124.59" cy="120.54" r="1.3" fill="none" stroke="#505050" stroke-width="0.85"/>
<circle cx="124.68" cy="123.55" r="1.3" fill="none" stroke="#505050" stroke-width="0.85"/>
<circle cx="148.3" cy="96.49" r="1.3" fill="none" stroke="#505050" stroke-width="0.85"/>
<circle cx="148.18" cy="101" r="1.3" fill="none" stroke="#505050" stroke-width="0.85"/>
<circle cx="148.12" cy="105.35" r="1.3" fill="none" stroke="#505050" stroke-width="0.85"/>
<circle cx="148.06" cy="109.89" r="1.3" fill="none" stroke="#505050" stroke-width="0.85"/>
<circle cx="148" cy="114.07" r="1.3" fill="none" stroke="#505050" stroke-width="0.85"/>
<circle cx="147.94" cy="117.59" r="1.3" fill="none" stroke="#505050" stroke-width="0.85"/>
<circle cx="147.85" cy="121.49" r="1.3" fill="none" stroke="#505050" stroke-width="0.85"/>
<circle cx="147.7" cy="124.95" r="1.3" fill="none" stroke="#505050" stroke-width="0.85"/>
<circle cx="150.3" cy="96.49" r="1.3" fill="none" stroke="#505050" stroke-width="0.85"/>
<circle cx="150.42" cy="101" r="1.3" fill="none" stroke="#505050" stroke-width="0.85"/>
<circle cx="150.48" cy="105.35" r="1.3" fill="none" stroke="#505050" stroke-width="0.85"/>
<circle cx="150.54" cy="109.89" r="1.3" fill="none" stroke="#505050" stroke-width="0.85"/>
<circle cx="150.6" cy="114.07" r="1.3" fill="none" stroke="#505050" stroke-width="0.85"/>
<circle cx="150.66" cy="117.59" r="1.3" fill="none" stroke="#505050" stroke-width="0.85"/>
<circle cx="150.75" cy="121.49" r="1.3" fill="none" stroke="#505050" stroke-width="0.85"/>
<circle cx="150.9" cy="124.95" r="1.3" fill="none" stroke="#505050" stroke-width="0.85"/>
<polyline points="34,128.3 34.6,128.3 35.2,128.3 35.8,128.3 36.4,128.3 37,128.3 37.6,128.3 38.2,128.3 38.8,128.3 39.4,128.3 40,128.3 40.6,128.3 41.2,128.3 41.8,128.3 42.4,128.3 43,128.3 43.6,128.29 44.2,128.29 44.8,128.29 45.4,128.29 46,128.29 46.6,128.29 47.2,128.29 47.8,128.29 48.4,128.29 49,128.29 49.6,128.29 50.2,128.29 50.8,128.29 51.4,128.29 52,128.29 52.6,128.29 53.2,128.28 53.8,128.28 54.4,128.28 55,128.28 55.6,128.28 56.2,128.27 56.8,128.27 57.4,128.27 58,128.26 58.6,128.25 59.2,128.25 59.8,128.23 60,128.23 60.2,128.23 60.4,128.22 60.6,128.21 60.8,128.21 61,128.2 61.2,128.19 61.4,128.18 61.6,128.17 61.8,128.15 62,128.14 62.2,128.12 62.4,128.1 62.6,128.07 62.8,128.04 62.85,128.03 62.9,128.02 62.95,128.01 63,128 63.05,127.99 63.1,127.98 63.15,127.97 63.2,127.96 63.25,127.94 63.3,127.93 63.35,127.91 63.4,127.9 63.45,127.88 63.5,127.86 63.55,127.84 63.6,127.82 63.65,127.8 63.7,127.78 63.75,127.75 63.8,127.72 63.85,127.69 63.9,127.66 63.95,127.63 64,127.59 64.05,127.55 64.1,127.51 64.15,127.46 64.2,127.41 64.25,127.35 64.3,127.29 64.35,127.22 64.4,127.14 64.45,127.05 64.5,126.96 64.55,126.85 64.6,126.74 64.65,126.6 64.7,126.45 64.75,126.28 64.8,126.08 64.85,125.85 64.9,125.59 64.95,125.28 65,124.92 65.05,124.48 65.1,123.93 65.15,123.23 65.2,122.29 65.25,120.97 65.3,119.04 65.35,116.21 65.4,112.08 65.45,106.23 65.5,98.29 65.55,88.12 65.6,75.94 65.65,62.58 65.7,49.69 65.75,39.92 65.8,36.2 65.85,39.92 65.9,49.69 65.95,62.58 66,75.94 66.05,88.12 66.1,98.29 66.15,106.23 66.2,112.08 66.25,116.21 66.3,119.04 66.35,120.97 66.4,122.29 66.45,123.23 66.5,123.93 66.55,124.48 66.6,124.92 66.65,125.28 66.7,125.59 66.75,125.85 66.8,126.08 66.85,126.28 66.9,126.45 66.95,126.6 67,126.74 67.05,126.85 67.1,126.96 67.15,127.05 67.2,127.14 67.25,127.22 67.3,127.29 67.35,127.35 67.4,127.41 67.45,127.46 67.5,127.51 67.55,127.55 67.6,127.59 67.65,127.63 67.7,127.66 67.75,127.69 67.8,127.72 67.85,127.75 67.9,127.78 67.95,127.8 68,127.82 68.05,127.84 68.1,127.86 68.15,127.88 68.2,127.9 68.25,127.91 68.3,127.93 68.35,127.94 68.4,127.96 68.45,127.97 68.5,127.98 68.55,127.99 68.6,128 68.65,128.01 68.7,128.02 68.75,128.03 68.8,128.04 68.85,128.05 69.05,128.08 69.25,128.1 69.45,128.12 69.65,128.14 69.85,128.16 70.05,128.17 70.25,128.18 70.45,128.19 70.65,128.2 70.85,128.21 71.05,128.21 71.25,128.22 71.45,128.23 71.65,128.23 71.85,128.24 72.45,128.25 73.05,128.25 73.65,128.26 74.25,128.27 74.85,128.27 75.45,128.27 76.05,128.28 76.65,128.28 77.25,128.28 77.85,128.28 78.45,128.28 79.05,128.29 79.65,128.29 80.25,128.29 80.85,128.29 81.45,128.29 82.05,128.29 82.65,128.29 83.25,128.29 83.85,128.29 84.45,128.29 85.05,128.29 85.65,128.29 86.25,128.29 86.85,128.29 87.45,128.29 88.05,128.29 88.65,128.29 89.25,128.29 89.85,128.29 90.45,128.29 91.05,128.29 91.65,128.29 92.25,128.29 92.85,128.29 93.45,128.29 94.05,128.29 94.65,128.3 95.25,128.3 95.85,128.3 96.45,128.3 97.05,128.3 97.65,128.3 98.25,128.3 98.85,128.3 99.45,128.29 100.05,128.29 100.65,128.29 101.25,128.29 101.85,128.29 102.45,128.29 103.05,128.29 103.65,128.29 104.25,128.29 104.85,128.29 105.45,128.29 106.05,128.29 106.65,128.29 107.25,128.29 107.85,128.29 108.45,128.29 109.05,128.29 109.65,128.29 110.25,128.29 110.85,128.29 111.45,128.29 112.05,128.29 112.65,128.29 113.25,128.29 113.85,128.28 114.45,128.28 115.05,128.28 115.65,128.28 116.25,128.27 116.85,128.27 117.45,128.26 117.65,128.26 117.85,128.26 118.05,128.26 118.25,128.25 118.45,128.25 118.65,128.25 118.85,128.24 119.05,128.24 119.25,128.23 119.45,128.22 119.65,128.21 119.85,128.2 120.05,128.19 120.25,128.18 120.3,128.17 120.35,128.17 120.4,128.16 120.45,128.16 120.5,128.15 120.55,128.15 120.6,128.14 120.65,128.14 120.7,128.13 120.75,128.12 120.8,128.12 120.85,128.11 120.9,128.1 120.95,128.09 121,128.08 121.05,128.07 121.1,128.06 121.15,128.05 121.2,128.04 121.25,128.03 121.3,128.01 121.35,128 121.4,127.98 121.45,127.97 121.5,127.95 121.55,127.93 121.6,127.9 121.65,127.88 121.7,127.85 121.75,127.82 121.8,127.79 121.85,127.75 121.9,127.71 121.95,127.67 122,127.61 122.05,127.56 122.1,127.49 122.15,127.42 122.2,127.33 122.25,127.24 122.3,127.12 122.35,126.99 122.4,126.83 122.45,126.63 122.5,126.38 122.55,126.04 122.6,125.58 122.65,124.94 122.7,124.02 122.75,122.74 122.8,120.97 122.85,118.62 122.9,115.64 122.95,112.04 123,107.95 123.05,103.68 123.1,99.73 123.15,96.86 123.2,95.79 123.25,96.86 123.3,99.73 123.35,103.68 123.4,107.95 123.45,112.04 123.5,115.64 123.55,118.62 123.6,120.96 123.65,122.73 123.7,124.02 123.75,124.93 123.8,125.58 123.85,126.04 123.9,126.37 123.95,126.63 124,126.82 124.05,126.98 124.1,127.12 124.15,127.23 124.2,127.33 124.25,127.41 124.3,127.48 124.35,127.55 124.4,127.6 124.45,127.65 124.5,127.7 124.55,127.74 124.6,127.78 124.65,127.81 124.7,127.84 124.75,127.86 124.8,127.89 124.85,127.91 124.9,127.93 124.95,127.95 125,127.97 125.05,127.98 125.1,128 125.15,128.01 125.2,128.02 125.25,128.03 125.3,128.04 125.35,128.05 125.4,128.06 125.45,128.07 125.5,128.08 125.55,128.08 125.6,128.09 125.65,128.1 125.7,128.1 125.75,128.11 125.8,128.11 125.85,128.12 125.9,128.12 125.95,128.12 126,128.13 126.05,128.13 126.1,128.13 126.15,128.14 126.2,128.14 126.25,128.14 126.3,128.14 126.35,128.14 126.4,128.14 126.45,128.14 126.5,128.15 126.55,128.15 126.6,128.15 126.65,128.15 126.7,128.14 126.75,128.14 126.8,128.14 126.85,128.14 126.9,128.14 126.95,128.14 127,128.13 127.05,128.13 127.1,128.13 127.15,128.12 127.2,128.12 127.25,128.11 127.3,128.11 127.35,128.1 127.4,128.09 127.45,128.09 127.5,128.08 127.55,128.07 127.6,128.05 127.65,128.04 127.7,128.03 127.75,128.01 127.8,127.99 127.85,127.96 127.9,127.93 127.95,127.9 128,127.86 128.05,127.8 128.1,127.73 128.15,127.64 128.2,127.52 128.25,127.37 128.3,127.18 128.35,126.95 128.4,126.66 128.45,126.31 128.5,125.91 128.55,125.46 128.6,124.96 128.65,124.44 128.7,123.92 128.75,123.43 128.8,123.03 128.85,122.76 128.9,122.66 128.95,122.76 129,123.03 129.05,123.44 129.1,123.92 129.15,124.45 129.2,124.97 129.25,125.47 129.3,125.92 129.35,126.32 129.4,126.67 129.45,126.96 129.5,127.19 129.55,127.38 129.6,127.54 129.65,127.65 129.7,127.75 129.75,127.82 129.8,127.88 129.85,127.92 129.9,127.96 129.95,127.99 130,128.01 130.05,128.03 130.1,128.05 130.15,128.07 130.2,128.09 130.25,128.1 130.3,128.11 130.35,128.12 130.4,128.13 130.45,128.14 130.5,128.15 130.55,128.16 130.6,128.16 130.65,128.17 130.7,128.18 130.75,128.18 130.8,128.19 130.85,128.19 130.9,128.19 130.95,128.2 131,128.2 131.05,128.21 131.1,128.21 131.15,128.21 131.2,128.22 131.25,128.22 131.3,128.22 131.35,128.22 131.4,128.23 131.45,128.23 131.5,128.23 131.55,128.23 131.6,128.23 131.65,128.24 131.7,128.24 131.75,128.24 131.8,128.24 131.85,128.24 131.9,128.24 131.95,128.25 132.15,128.25 132.35,128.25 132.55,128.26 132.75,128.26 132.95,128.26 133.15,128.26 133.35,128.27 133.55,128.27 133.75,128.27 133.95,128.27 134.15,128.27 134.35,128.27 134.55,128.27 134.75,128.28 134.95,128.28 135.55,128.28 136.15,128.28 136.75,128.28 137.35,128.28 137.95,128.28 138.55,128.28 139.15,128.28 139.75,128.28 140.35,128.28 140.95,128.28 141.55,128.27 142.15,128.27 142.75,128.27 143.35,128.26 143.55,128.26 143.75,128.26 143.95,128.25 144.15,128.25 144.35,128.25 144.55,128.24 144.75,128.24 144.95,128.23 145.15,128.22 145.35,128.22 145.55,128.21 145.75,128.2 145.95,128.19 146.15,128.17 146.35,128.16 146.4,128.15 146.45,128.15 146.5,128.14 146.55,128.14 146.6,128.13 146.65,128.13 146.7,128.12 146.75,128.11 146.8,128.1 146.85,128.1 146.9,128.09 146.95,128.08 147,128.07 147.05,128.06 147.1,128.05 147.15,128.04 147.2,128.03 147.25,128.01 147.3,128 147.35,127.98 147.4,127.97 147.45,127.95 147.5,127.93 147.55,127.91 147.6,127.89 147.65,127.87 147.7,127.84 147.75,127.81 147.8,127.78 147.85,127.74 147.9,127.7 147.95,127.66 148,127.61 148.05,127.56 148.1,127.5 148.15,127.43 148.2,127.36 148.25,127.27 148.3,127.18 148.35,127.06 148.4,126.93 148.45,126.77 148.5,126.57 148.55,126.32 148.6,125.99 148.65,125.55 148.7,124.95 148.75,124.12 148.8,122.99 148.85,121.49 148.9,119.52 148.95,117.05 149,114.07 149.05,110.62 149.1,106.88 149.15,103.1 149.2,99.74 149.25,97.36 149.3,96.49 149.35,97.36 149.4,99.74 149.45,103.1 149.5,106.88 149.55,110.62 149.6,114.07 149.65,117.05 149.7,119.52 149.75,121.49 149.8,122.99 149.85,124.12 149.9,124.95 149.95,125.55 150,125.99 150.05,126.32 150.1,126.57 150.15,126.77 150.2,126.93 150.25,127.06 150.3,127.17 150.35,127.27 150.4,127.36 150.45,127.43 150.5,127.5 150.55,127.56 150.6,127.61 150.65,127.66 150.7,127.7 150.75,127.74 150.8,127.78 150.85,127.81 150.9,127.84 150.95,127.86 151,127.89 151.05,127.91 151.1,127.93 151.15,127.95 151.2,127.97 151.25,127.98 151.3,128 151.35,128.01 151.4,128.03 151.45,128.04 151.5,128.05 151.55,128.06 151.6,128.07 151.65,128.08 151.7,128.09 151.75,128.1 151.8,128.1 151.85,128.11 151.9,128.12 151.95,128.12 152,128.13 152.05,128.14 152.1,128.14 152.15,128.15 152.2,128.15 152.25,128.16 152.3,128.16 152.5,128.18 152.7,128.19 152.9,128.2 153.1,128.21 153.3,128.22 153.5,128.23 153.7,128.23 153.9,128.24 154.1,128.24 154.3,128.24 154.5,128.25 154.7,128.25 154.9,128.25 155.1,128.26 155.3,128.26 155.9,128.26 156.5,128.27 157.1,128.27 157.3,128.27 157.5,128.27 157.7,128.27 157.9,128.27 158.1,128.27 158.3,128.27 158.5,128.26 158.7,128.26 158.9,128.26 159.1,128.26 159.3,128.26 159.5,128.26 159.7,128.25 159.9,128.25 160.1,128.24 160.15,128.24 160.2,128.24 160.25,128.24 160.3,128.24 160.35,128.23 160.4,128.23 160.45,128.23 160.5,128.23 160.55,128.23 160.6,128.22 160.65,128.22 160.7,128.22 160.75,128.22 160.8,128.21 160.85,128.21 160.9,128.2 160.95,128.2 161,128.2 161.05,128.19 161.1,128.19 161.15,128.18 161.2,128.18 161.25,128.17 161.3,128.16 161.35,128.16 161.4,128.15 161.45,128.14 161.5,128.13 161.55,128.12 161.6,128.11 161.65,128.1 161.7,128.08 161.75,128.06 161.8,128.05 161.85,128.02 161.9,128 161.95,127.97 162,127.93 162.05,127.88 162.1,127.82 162.15,127.75 162.2,127.66 162.25,127.55 162.3,127.41 162.35,127.25 162.4,127.05 162.45,126.81 162.5,126.54 162.55,126.23 162.6,125.89 162.65,125.52 162.7,125.13 162.75,124.73 162.8,124.35 162.85,124.01 162.9,123.73 162.95,123.55 163,123.49 163.05,123.55 163.1,123.73 163.15,124.01 163.2,124.35 163.25,124.74 163.3,125.13 163.35,125.52 163.4,125.89 163.45,126.23 163.5,126.54 163.55,126.81 163.6,127.05 163.65,127.25 163.7,127.41 163.75,127.55 163.8,127.66 163.85,127.75 163.9,127.82 163.95,127.88 164,127.93 164.05,127.97 164.1,128 164.15,128.03 164.2,128.05 164.25,128.07 164.3,128.08 164.35,128.1 164.4,128.11 164.45,128.12 164.5,128.13 164.55,128.14 164.6,128.15 164.65,128.16 164.7,128.17 164.75,128.17 164.8,128.18 164.85,128.19 164.9,128.19 164.95,128.2 165,128.2 165.05,128.2 165.1,128.21 165.15,128.21 165.2,128.22 165.25,128.22 165.3,128.22 165.35,128.23 165.4,128.23 165.45,128.23 165.5,128.23 165.55,128.24 165.6,128.24 165.65,128.24 165.7,128.24 165.75,128.24 165.8,128.25 165.85,128.25 165.9,128.25 165.95,128.25 166,128.25 166.2,128.26 166.4,128.26 166.6,128.26 166.8,128.27 167,128.27 167.2,128.27 167.4,128.27 167.6,128.28 167.8,128.28 168,128.28 168.2,128.28 168.4,128.28 168.6,128.28 168.8,128.28 169,128.28 169.6,128.29 170.2,128.29 170.8,128.29 171.4,128.29 172,128.29 172.6,128.29 173.2,128.29 173.8,128.29 174.4,128.29 175,128.29 175.6,128.29 176.2,128.29 176.8,128.29 177.4,128.29 178,128.29 178.6,128.29 179.2,128.29 179.8,128.29 180.4,128.29 181,128.29 181.6,128.29 182.2,128.29 182.8,128.29 183.4,128.29 184,128.29 184.6,128.29 185.2,128.29 185.8,128.29 186.4,128.29 187,128.29 187.6,128.29 188.2,128.29 188.8,128.29 189.4,128.29 190,128.28 190.6,128.28 191.2,128.28 191.8,128.28 192,128.27 192.2,128.27 192.4,128.27 192.6,128.27 192.8,128.27 193,128.26 193.2,128.26 193.4,128.26 193.6,128.25 193.8,128.25 194,128.24 194.2,128.23 194.4,128.23 194.6,128.22 194.65,128.21 194.7,128.21 194.75,128.21 194.8,128.21 194.85,128.2 194.9,128.2 194.95,128.2 195,128.19 195.05,128.19 195.1,128.18 195.15,128.18 195.2,128.17 195.25,128.17 195.3,128.16 195.35,128.16 195.4,128.15 195.45,128.15 195.5,128.14 195.55,128.13 195.6,128.12 195.65,128.11 195.7,128.11 195.75,128.1 195.8,128.08 195.85,128.07 195.9,128.06 195.95,128.05 196,128.03 196.05,128.02 196.1,128 196.15,127.98 196.2,127.96 196.25,127.93 196.3,127.9 196.35,127.87 196.4,127.83 196.45,127.79 196.5,127.74 196.55,127.67 196.6,127.6 196.65,127.5 196.7,127.39 196.75,127.25 196.8,127.07 196.85,126.86 196.9,126.61 196.95,126.31 197,125.95 197.05,125.55 197.1,125.09 197.15,124.57 197.2,124.01 197.25,123.41 197.3,122.79 197.35,122.18 197.4,121.59 197.45,121.07 197.5,120.66 197.55,120.39 197.6,120.3 197.65,120.39 197.7,120.66 197.75,121.07 197.8,121.59 197.85,122.18 197.9,122.79 197.95,123.41 198,124.01 198.05,124.57 198.1,125.08 198.15,125.55 198.2,125.95 198.25,126.31 198.3,126.61 198.35,126.86 198.4,127.07 198.45,127.25 198.5,127.39 198.55,127.5 198.6,127.6 198.65,127.67 198.7,127.74 198.75,127.79 198.8,127.83 198.85,127.87 198.9,127.9 198.95,127.93 199,127.96 199.05,127.98 199.1,128 199.15,128.01 199.2,128.03 199.25,128.05 199.3,128.06 199.35,128.07 199.4,128.08 199.45,128.09 199.5,128.1 199.55,128.11 199.6,128.12 199.65,128.13 199.7,128.14 199.75,128.14 199.8,128.15 199.85,128.16 199.9,128.16 199.95,128.17 200,128.17 200.05,128.18 200.1,128.18 200.15,128.19 200.2,128.19 200.25,128.19 200.3,128.2 200.35,128.2 200.4,128.2 200.45,128.21 200.5,128.21 200.55,128.21 200.6,128.22 200.8,128.22 201,128.23 201.2,128.24 201.4,128.24 201.6,128.25 201.8,128.25 202,128.26 202.2,128.26 202.4,128.26 202.6,128.26 202.8,128.27 203,128.27 203.2,128.27 203.4,128.27 203.6,128.27 204.2,128.27 204.8,128.28 205.4,128.28 206,128.28 206.6,128.28 207.2,128.28 207.8,128.28 208.4,128.28 209,128.27 209.6,128.27 210.2,128.27 210.8,128.27 211.4,128.26 212,128.25 212.2,128.25 212.4,128.24 212.6,128.24 212.8,128.24 213,128.23 213.2,128.22 213.4,128.22 213.6,128.21 213.8,128.2 214,128.19 214.2,128.17 214.4,128.16 214.6,128.14 214.65,128.13 214.7,128.13 214.75,128.12 214.8,128.12 214.85,128.11 214.9,128.1 214.95,128.1 215,128.09 215.05,128.08 215.1,128.07 215.15,128.06 215.2,128.05 215.25,128.04 215.3,128.03 215.35,128.02 215.4,128 215.45,127.99 215.5,127.98 215.55,127.96 215.6,127.94 215.65,127.93 215.7,127.91 215.75,127.88 215.8,127.86 215.85,127.84 215.9,127.81 215.95,127.78 216,127.74 216.05,127.71 216.1,127.66 216.15,127.61 216.2,127.56 216.25,127.49 216.3,127.41 216.35,127.32 216.4,127.21 216.45,127.08 216.5,126.91 216.55,126.72 216.6,126.49 216.65,126.22 216.7,125.89 216.75,125.51 216.8,125.07 216.85,124.57 216.9,124 216.95,123.37 217,122.67 217.05,121.91 217.1,121.12 217.15,120.29 217.2,119.46 217.25,118.65 217.3,117.89 217.35,117.24 217.4,116.73 217.45,116.41 217.5,116.3 217.55,116.41 217.6,116.73 217.65,117.24 217.7,117.89 217.75,118.65 217.8,119.46 217.85,120.29 217.9,121.12 217.95,121.91 218,122.67 218.05,123.37 218.1,124 218.15,124.57 218.2,125.07 218.25,125.51 218.3,125.89 218.35,126.22 218.4,126.49 218.45,126.72 218.5,126.92 218.55,127.08 218.6,127.21 218.65,127.32 218.7,127.41 218.75,127.49 218.8,127.56 218.85,127.61 218.9,127.66 218.95,127.71 219,127.74 219.05,127.78 219.1,127.81 219.15,127.84 219.2,127.86 219.25,127.89 219.3,127.91 219.35,127.93 219.4,127.94 219.45,127.96 219.5,127.98 219.55,127.99 219.6,128.01 219.65,128.02 219.7,128.03 219.75,128.04 219.8,128.05 219.85,128.06 219.9,128.07 219.95,128.08 220,128.09 220.05,128.1 220.1,128.1 220.15,128.11 220.2,128.12 220.25,128.12 220.3,128.13 220.35,128.14 220.4,128.14 220.45,128.15 220.5,128.15 220.7,128.17 220.9,128.18 221.1,128.2 221.3,128.21 221.5,128.21 221.7,128.22 221.9,128.23 222.1,128.23 222.3,128.24 222.5,128.24 222.7,128.25 222.9,128.25 223.1,128.26 223.3,128.26 223.5,128.26 224.1,128.27 224.7,128.27 225.3,128.28 225.9,128.28 226.5,128.28" fill="none" stroke="#ea585e" stroke-width="1.7" stroke-linejoin="round"/>
<circle cx="65.8" cy="36.3" r="1.6" fill="#fff" stroke="#555" stroke-width="0.9"/>
<circle cx="123.2" cy="95.2" r="1.6" fill="#fff" stroke="#555" stroke-width="0.9"/>
<circle cx="149.3" cy="95.9" r="1.6" fill="#fff" stroke="#555" stroke-width="0.9"/>
<line x1="66" y1="135.2" x2="66" y2="139.5" stroke="#4fbf5f" stroke-width="1.1"/>
<line x1="105.4" y1="135.2" x2="105.4" y2="139.5" stroke="#4fbf5f" stroke-width="1.1"/>
<line x1="123.6" y1="135.2" x2="123.6" y2="139.5" stroke="#4fbf5f" stroke-width="1.1"/>
<line x1="129.1" y1="135.2" x2="129.1" y2="139.5" stroke="#4fbf5f" stroke-width="1.1"/>
<line x1="149.4" y1="135.2" x2="149.4" y2="139.5" stroke="#4fbf5f" stroke-width="1.1"/>
<line x1="163.7" y1="135.2" x2="163.7" y2="139.5" stroke="#4fbf5f" stroke-width="1.1"/>
<line x1="185.4" y1="135.2" x2="185.4" y2="139.5" stroke="#4fbf5f" stroke-width="1.1"/>
<line x1="197.6" y1="135.2" x2="197.6" y2="139.5" stroke="#4fbf5f" stroke-width="1.1"/>
<line x1="217.6" y1="135.2" x2="217.6" y2="139.5" stroke="#4fbf5f" stroke-width="1.1"/>
<line x1="127.3" y1="139.6" x2="127.3" y2="143.7" stroke="#b98ad8" stroke-width="1.1"/>
<line x1="147.3" y1="139.6" x2="147.3" y2="143.7" stroke="#b98ad8" stroke-width="1.1"/>
<line x1="214.2" y1="139.6" x2="214.2" y2="143.7" stroke="#b98ad8" stroke-width="1.1"/>
<polyline points="33.9,150.61 34.4,150.67 34.9,150.49 35.4,150.41 35.9,150.67 36.4,150.68 36.9,150.53 37.4,150.56 37.9,150.52 38.4,150.51 38.9,150.59 39.4,150.78 39.9,150.33 40.4,150.54 40.9,150.87 41.4,150.65 41.9,150.63 42.4,150.74 42.9,150.43 43.4,150.4 43.9,150.32 44.4,150.36 44.9,150.64 45.4,150.74 45.9,150.53 46.4,150.49 46.9,150.67 47.4,150.7 47.9,150.64 48.4,150.28 48.9,150.51 49.4,150.18 49.9,150.64 50.4,150.46 50.9,150.49 51.4,150.85 51.9,150.82 52.4,150.68 52.9,150.65 53.4,150.63 53.9,150.5 54.4,150.59 54.9,150.92 55.4,150.46 55.9,150.49 56.4,150.63 56.9,150.75 57.4,150.74 57.9,150.44 58.4,150.58 58.9,150.56 59.4,150.4 59.9,150.61 60.4,150.52 60.9,150.75 61.4,150.67 61.9,150.47 62.4,150.61 62.9,150.54 63.4,150.5 63.9,150.52 64.4,150.78 64.9,149.77 65.4,148.24 65.9,151.14 66.4,152.84 66.9,150.96 67.4,150.43 67.9,150.54 68.4,150.55 68.9,150.37 69.4,150.67 69.9,150.59 70.4,150.65 70.9,150.97 71.4,150.56 71.9,150.73 72.4,150.74 72.9,150.49 73.4,150.5 73.9,150.86 74.4,150.72 74.9,150.62 75.4,150.42 75.9,150.75 76.4,150.69 76.9,150.96 77.4,150.84 77.9,150.73 78.4,150.64 78.9,150.61 79.4,150.51 79.9,150.65 80.4,150.64 80.9,150.71 81.4,150.78 81.9,150.65 82.4,150.51 82.9,150.73 83.4,150.86 83.9,150.46 84.4,150.67 84.9,150.69 85.4,150.69 85.9,150.68 86.4,150.59 86.9,150.58 87.4,150.88 87.9,150.89 88.4,150.37 88.9,150.18 89.4,150.67 89.9,150.49 90.4,150.51 90.9,150.34 91.4,150.66 91.9,150.59 92.4,150.51 92.9,150.75 93.4,151 93.9,150.84 94.4,150.79 94.9,150.53 95.4,150.71 95.9,150.59 96.4,150.79 96.9,150.7 97.4,150.59 97.9,150.69 98.4,150.48 98.9,150.73 99.4,150.85 99.9,150.54 100.4,150.69 100.9,150.32 101.4,150.75 101.9,150.75 102.4,150.43 102.9,150.89 103.4,150.62 103.9,150.31 104.4,150.37 104.9,150.74 105.4,150.56 105.9,150.78 106.4,150.34 106.9,150.58 107.4,150.76 107.9,150.49 108.4,150.71 108.9,150.54 109.4,150.66 109.9,150.65 110.4,150.97 110.9,150.4 111.4,150.73 111.9,150.82 112.4,150.41 112.9,150.61 113.4,150.98 113.9,150.77 114.4,150.11 114.9,150.56 115.4,150.32 115.9,150.65 116.4,150.48 116.9,150.51 117.4,150.46 117.9,150.65 118.4,150.52 118.9,150.45 119.4,150.56 119.9,150.67 120.4,150.46 120.9,150.78 121.4,150.33 121.9,150.67 122.4,149.8 122.9,149.9 123.4,151.19 123.9,151.48 124.4,150.38 124.9,150.93 125.4,150.7 125.9,150.42 126.4,150.54 126.9,150.44 127.4,150.85 127.9,150.67 128.4,150.26 128.9,150.63 129.4,150.75 129.9,150.6 130.4,150.68 130.9,150.58 131.4,150.63 131.9,150.64 132.4,150.48 132.9,150.66 133.4,150.63 133.9,150.59 134.4,150.49 134.9,150.43 135.4,150.64 135.9,150.74 136.4,150.2 136.9,150.51 137.4,150.82 137.9,150.75 138.4,150.48 138.9,150.82 139.4,150.44 139.9,150.47 140.4,150.92 140.9,150.53 141.4,150.56 141.9,150.33 142.4,150.43 142.9,150.41 143.4,150.58 143.9,150.3 144.4,150.78 144.9,150.54 145.4,150.5 145.9,150.5 146.4,150.72 146.9,150.85 147.4,150.53 147.9,150.87 148.4,150.45 148.9,149.69 149.4,151.02 149.9,151.5 150.4,150.71 150.9,150.53 151.4,150.63 151.9,150.29 152.4,150.55 152.9,150.64 153.4,150.45 153.9,150.65 154.4,150.88 154.9,150.64 155.4,150.49 155.9,150.99 156.4,150.24 156.9,150.45 157.4,150.67 157.9,150.5 158.4,150.22 158.9,150.64 159.4,150.74 159.9,150.47 160.4,150.84 160.9,150.68 161.4,150.8 161.9,150.35 162.4,150.6 162.9,150.86 163.4,150.93 163.9,150.82 164.4,150.6 164.9,150.63 165.4,150.5 165.9,150.78 166.4,150.48 166.9,150.62 167.4,150.26 167.9,150.35 168.4,150.89 168.9,150.61 169.4,150.64 169.9,150.24 170.4,150.59 170.9,150.94 171.4,150.35 171.9,150.21 172.4,150.57 172.9,150.51 173.4,150.57 173.9,150.39 174.4,150.38 174.9,150.4 175.4,150.71 175.9,150.59 176.4,150.74 176.9,150.42 177.4,150.7 177.9,150.53 178.4,150.61 178.9,150.75 179.4,150.61 179.9,150.54 180.4,150.32 180.9,150.61 181.4,150.73 181.9,150.49 182.4,150.59 182.9,150.31 183.4,150.38 183.9,150.67 184.4,150.82 184.9,150.55 185.4,150.32 185.9,150.54 186.4,150.34 186.9,150.55 187.4,150.92 187.9,150.65 188.4,150.57 188.9,150.77 189.4,150.54 189.9,150.66 190.4,150.63 190.9,150.67 191.4,150.36 191.9,150.72 192.4,150.75 192.9,150.22 193.4,150.15 193.9,150.45 194.4,150.85 194.9,150.6 195.4,150.71 195.9,150.69 196.4,150.75 196.9,150.49 197.4,150.5 197.9,150.66 198.4,150.7 198.9,150.7 199.4,150.66 199.9,150.52 200.4,150.78 200.9,150.68 201.4,150.78 201.9,150.18 202.4,150.77 202.9,150.19 203.4,150.64 203.9,150.49 204.4,150.62 204.9,150.52 205.4,150.55 205.9,150.63 206.4,150.66 206.9,150.47 207.4,150.18 207.9,150.47 208.4,150.69 208.9,150.46 209.4,150.67 209.9,150.54 210.4,150.44 210.9,150.8 211.4,150.88 211.9,150.58 212.4,150.59 212.9,150.76 213.4,150.38 213.9,150.45 214.4,150.79 214.9,150.75 215.4,150.52 215.9,150.47 216.4,150.66 216.9,150.36 217.4,150.52 217.9,150.56 218.4,150.19 218.9,150.7 219.4,150.73 219.9,150.78 220.4,150.36 220.9,150.38 221.4,150.46 221.9,150.38 222.4,150.95 222.9,150.44 223.4,150.55 223.9,150.63 224.4,150.68 224.9,150.84 225.4,150.42 225.9,150.75 226.4,150.63" fill="none" stroke="#0a8fca" stroke-width="1.7" stroke-linejoin="round"/>
<text x="59.5" y="40.1" font-size="7.5" text-anchor="middle" font-weight="bold" fill="#000" transform="rotate(-90 59.5 40.1)" stroke="#000" stroke-width="0.28">(111)</text>
<text x="124.5" y="84.2" font-size="7.5" text-anchor="middle" font-weight="bold" fill="#000" transform="rotate(-90 124.5 84.2)" stroke="#000" stroke-width="0.28">(311)</text>
<text x="132.1" y="107.9" font-size="7.5" text-anchor="middle" font-weight="bold" fill="#000" transform="rotate(-90 132.1 107.9)" stroke="#000" stroke-width="0.28">(222)</text>
<text x="150.5" y="84.1" font-size="7.5" text-anchor="middle" font-weight="bold" fill="#000" transform="rotate(-90 150.5 84.1)" stroke="#000" stroke-width="0.28">(400)</text>
<text x="164.6" y="108" font-size="7.5" text-anchor="middle" font-weight="bold" fill="#000" transform="rotate(-90 164.6 108)" stroke="#000" stroke-width="0.28">(331)</text>
<text x="199.2" y="106.3" font-size="7.5" text-anchor="middle" font-weight="bold" fill="#000" transform="rotate(-90 199.2 106.3)" stroke="#000" stroke-width="0.28">(511)</text>
<text x="219.9" y="103" font-size="7.5" text-anchor="middle" font-weight="bold" fill="#000" transform="rotate(-90 219.9 103)" stroke="#000" stroke-width="0.28">(440)</text>
<rect x="33.2" y="15" width="194.2" height="144.5" fill="none" stroke="#000" stroke-width="1.7"/>
<line x1="33.2" y1="159.5" x2="33.2" y2="162.7" stroke="#000" stroke-width="1.4"/>
<text transform="translate(33.2 172.6) scale(1 1.06)" font-size="9.8" text-anchor="middle" font-weight="bold" fill="#000" stroke="#000" stroke-width="0.28">10</text>
<line x1="47.07" y1="159.5" x2="47.07" y2="161.1" stroke="#000" stroke-width="1.4"/>
<line x1="60.94" y1="159.5" x2="60.94" y2="162.7" stroke="#000" stroke-width="1.4"/>
<text transform="translate(60.94 172.6) scale(1 1.06)" font-size="9.8" text-anchor="middle" font-weight="bold" fill="#000" stroke="#000" stroke-width="0.28">20</text>
<line x1="74.81" y1="159.5" x2="74.81" y2="161.1" stroke="#000" stroke-width="1.4"/>
<line x1="88.69" y1="159.5" x2="88.69" y2="162.7" stroke="#000" stroke-width="1.4"/>
<text transform="translate(88.69 172.6) scale(1 1.06)" font-size="9.8" text-anchor="middle" font-weight="bold" fill="#000" stroke="#000" stroke-width="0.28">30</text>
<line x1="102.56" y1="159.5" x2="102.56" y2="161.1" stroke="#000" stroke-width="1.4"/>
<line x1="116.43" y1="159.5" x2="116.43" y2="162.7" stroke="#000" stroke-width="1.4"/>
<text transform="translate(116.43 172.6) scale(1 1.06)" font-size="9.8" text-anchor="middle" font-weight="bold" fill="#000" stroke="#000" stroke-width="0.28">40</text>
<line x1="130.3" y1="159.5" x2="130.3" y2="161.1" stroke="#000" stroke-width="1.4"/>
<line x1="144.17" y1="159.5" x2="144.17" y2="162.7" stroke="#000" stroke-width="1.4"/>
<text transform="translate(144.17 172.6) scale(1 1.06)" font-size="9.8" text-anchor="middle" font-weight="bold" fill="#000" stroke="#000" stroke-width="0.28">50</text>
<line x1="158.04" y1="159.5" x2="158.04" y2="161.1" stroke="#000" stroke-width="1.4"/>
<line x1="171.91" y1="159.5" x2="171.91" y2="162.7" stroke="#000" stroke-width="1.4"/>
<text transform="translate(171.91 172.6) scale(1 1.06)" font-size="9.8" text-anchor="middle" font-weight="bold" fill="#000" stroke="#000" stroke-width="0.28">60</text>
<line x1="185.79" y1="159.5" x2="185.79" y2="161.1" stroke="#000" stroke-width="1.4"/>
<line x1="199.66" y1="159.5" x2="199.66" y2="162.7" stroke="#000" stroke-width="1.4"/>
<text transform="translate(199.66 172.6) scale(1 1.06)" font-size="9.8" text-anchor="middle" font-weight="bold" fill="#000" stroke="#000" stroke-width="0.28">70</text>
<line x1="213.53" y1="159.5" x2="213.53" y2="161.1" stroke="#000" stroke-width="1.4"/>
<line x1="227.4" y1="159.5" x2="227.4" y2="162.7" stroke="#000" stroke-width="1.4"/>
<text transform="translate(227.4 172.6) scale(1 1.06)" font-size="9.8" text-anchor="middle" font-weight="bold" fill="#000" stroke="#000" stroke-width="0.28">80</text>
<text x="130.3" y="182.8" font-size="10.8" text-anchor="middle" font-weight="bold" fill="#000" stroke="#000" stroke-width="0.3">2 Theta (degree)</text>
<text x="27.6" y="87.25" font-size="10.8" text-anchor="middle" font-weight="bold" fill="#000" transform="rotate(-90 27.6 87.25)" stroke="#000" stroke-width="0.3">Intensity (a.u.)</text>
</g>
<g transform="translate(239.8 179)">
<text transform="translate(8.9 20.6) scale(0.92 1)" font-size="22" font-weight="bold" fill="#000" stroke="#000" stroke-width="0.5">d</text>
<text x="38" y="25.5" font-size="8" text-anchor="start" font-weight="bold" fill="#111" stroke="#111" stroke-width="0.3">LNMO_170</text>
<circle cx="165.7" cy="23.2" r="1.6" fill="none" stroke="#555" stroke-width="0.9"/>
<text x="176.4" y="25.8" font-size="7.5" text-anchor="start" font-weight="bold" fill="#111" stroke="#111" stroke-width="0.3">Yobs</text>
<line x1="156.7" y1="33.7" x2="174.2" y2="33.7" stroke="#ea585e" stroke-width="1.4"/>
<text x="176.4" y="36.2" font-size="7.5" text-anchor="start" font-weight="bold" fill="#111" stroke="#111" stroke-width="0.3">Ycalc</text>
<line x1="156.7" y1="44.3" x2="174.2" y2="44.3" stroke="#0a8fca" stroke-width="1.4"/>
<text x="176.4" y="46.7" font-size="7.5" text-anchor="start" font-weight="bold" fill="#111" xml:space="preserve" stroke="#111" stroke-width="0.3">Yobs  Ycalc</text>
<line x1="165.5" y1="52.6" x2="165.5" y2="56.4" stroke="#4fbf5f" stroke-width="1"/>
<text x="176.4" y="57" font-size="7.5" text-anchor="start" font-weight="bold" fill="#111" stroke="#111" stroke-width="0.3">LiNi<tspan font-size="4.9" dy="1.9">0.5</tspan><tspan dy="-1.9">Mn</tspan><tspan font-size="4.9" dy="1.9">1.5</tspan><tspan dy="-1.9">O</tspan><tspan font-size="4.9" dy="1.9">4</tspan></text>
<line x1="165.5" y1="63.2" x2="165.5" y2="67.0" stroke="#b98ad8" stroke-width="1"/>
<text x="176.4" y="67.5" font-size="7.5" text-anchor="start" font-weight="bold" fill="#111" stroke="#111" stroke-width="0.3">Li<tspan font-size="4.9" dy="1.9">0.5</tspan><tspan dy="-1.9">Ni</tspan><tspan font-size="4.9" dy="1.9">0.5</tspan><tspan dy="-1.9">O</tspan></text>
<polyline points="34,127.65 34.6,128.04 35.2,127.58 35.8,128.48 36.4,127.78 37,128.3 37.6,128.38 38.2,127.81 38.8,127.73 39.4,128.04 40,127.68 40.6,128.26 41.2,128.05 41.8,127.77 42.4,127.79 43,128.21 43.6,127.56 44.2,128.5 44.8,127.76 45.4,127.94 46,127.72 46.6,128.48 47.2,128.24 47.8,128.38 48.4,128.19 49,128.02 49.6,128.5 50.2,128.19 50.8,128.12 51.4,128.16 52,128.21 52.6,128.07 53.2,127.94 53.8,127.51 54.4,128.6 55,127.59 55.6,127.33 56.2,127.76 56.8,128.55 57.4,128.33 58,127.78 58.6,128.03 59.2,127.94 59.8,127.34 60,127.83 60.2,128.01 60.4,128.27 60.6,127.55 60.8,127.23 61,127.43 61.2,127.99 61.4,127.9 61.6,127.91 61.8,127.9 62,127.73 62.2,127.41 62.4,127.93 62.6,127.89 62.8,127.92 62.85,128.11 62.9,127.35 62.95,127.01 63,127.17 63.05,128.33 63.1,127.41 63.15,127.79 63.2,127.65 63.25,127.86 63.3,128.59 63.35,127.46 63.4,127.55 63.45,127.4 63.5,127.64 63.55,127.7 63.6,127.23 63.65,127.9 63.7,127.82 63.75,127.59 63.8,127.39 63.85,127.32 63.9,126.87 63.95,127.53 64,127 64.05,127.1 64.1,127.51 64.15,126.88 64.2,126.95 64.25,127.31 64.3,127.54 64.35,126.71 64.4,127.17 64.45,126.56 64.5,126.78 64.55,126.7 64.6,126.1 64.65,126.61 64.7,126.69 64.75,126 64.8,125.86 64.85,125.2 64.9,125.83 64.95,125.02 65,124.62 65.05,125.23 65.1,124.56 65.15,124.79 65.2,124.36 65.25,125.41 65.3,125.66 65.35,124.81 65.4,124.8 65.45,124.83 65.5,124.83 65.55,125.17 65.6,125.44 65.65,124.7 65.7,125.13 65.75,124.46 65.8,125.46 65.85,124.97 65.9,124.79 65.95,125.46 66,124.97 66.05,125.41 66.1,125.32 66.15,125.5 66.2,124.76 66.25,125.02 66.3,125.11 66.35,124.94 66.4,125.46 66.45,124.79 66.5,125.3 66.55,125.41 66.6,124.41 66.65,124.71 66.7,125.02 66.75,125.39 66.8,125.9 66.85,125.93 66.9,126.18 66.95,126.17 67,126.41 67.05,126.7 67.1,126.89 67.15,126.52 67.2,126.81 67.25,126.69 67.3,126.93 67.35,126.62 67.4,127.39 67.45,127.36 67.5,127.17 67.55,127.05 67.6,127.15 67.65,127.13 67.7,126.9 67.75,127.88 67.8,128.41 67.85,127.08 67.9,127.13 67.95,127.67 68,127.7 68.05,127.07 68.1,126.99 68.15,127.74 68.2,127 68.25,128.04 68.3,127.48 68.35,127.67 68.4,127.66 68.45,127.5 68.5,127.64 68.55,127.6 68.6,128.08 68.65,127.69 68.7,127.71 68.75,127.57 68.8,127.55 68.85,127.53 69.05,127.78 69.25,128.36 69.45,128.16 69.65,127.91 69.85,128.36 70.05,128.17 70.25,127.94 70.45,127.84 70.65,127.57 70.85,127.98 71.05,127.82 71.25,127.45 71.45,127.54 71.65,128.51 71.85,128 72.45,128.1 73.05,128.01 73.65,127.82 74.25,128.1 74.85,128.3 75.45,127.88 76.05,128.13 76.65,128.29 77.25,127.84 77.85,128.03 78.45,127.76 79.05,128.17 79.65,127.88 80.25,128.33 80.85,127.76 81.45,128.5 82.05,127.9 82.65,127.74 83.25,127.72 83.85,128.19 84.45,127.74 85.05,128.53 85.65,128.38 86.25,128.15 86.85,127.57 87.45,127.99 88.05,127.78 88.65,127.45 89.25,128.12 89.85,128.65 90.45,127.83 91.05,128.24 91.65,128.38 92.25,127.71 92.85,127.89 93.45,128.08 94.05,128.14 94.65,127.65 95.25,128.06 95.85,127.96 96.45,128.28 97.05,127.52 97.65,127.83 98.25,127.84 98.85,127.9 99.45,128.21 100.05,127.81 100.65,128.82 101.25,127.78 101.85,128.25 102.45,128.3 103.05,128.28 103.65,127.93 104.25,127.75 104.85,127.92 105.45,128.19 106.05,128.03 106.65,128.17 107.25,128.17 107.85,127.73 108.45,127.71 109.05,128.42 109.65,127.85 110.25,127.52 110.85,128.55 111.45,127.74 112.05,127.71 112.65,128.28 113.25,127.65 113.85,127.72 114.45,128.3 115.05,127.74 115.65,128.73 116.25,128 116.85,128.78 117.45,128 117.65,127.98 117.85,127.77 118.05,127.89 118.25,127.8 118.45,127.94 118.65,128.18 118.85,127.56 119.05,127.66 119.25,127.3 119.45,128.38 119.65,127.89 119.85,127.9 120.05,127.88 120.25,128.18 120.3,127.97 120.35,128.13 120.4,127.82 120.45,127.83 120.5,127.84 120.55,127.3 120.6,128.18 120.65,127.37 120.7,127.54 120.75,128.03 120.8,127.84 120.85,128.06 120.9,128.32 120.95,128.36 121,128.21 121.05,127.72 121.1,128.39 121.15,127.5 121.2,127.73 121.25,128.04 121.3,127.66 121.35,127.68 121.4,127.59 121.45,128.09 121.5,126.92 121.55,128.02 121.6,127.94 121.65,127.57 121.7,127.74 121.75,127.25 121.8,127.84 121.85,128.39 121.9,127.16 121.95,127.81 122,127.33 122.05,127.19 122.1,127.08 122.15,127.1 122.2,126.7 122.25,126.57 122.3,127.37 122.35,126.74 122.4,126.76 122.45,126.49 122.5,126.3 122.55,125.38 122.6,125.11 122.65,125.18 122.7,125.29 122.75,124.65 122.8,124.82 122.85,124.67 122.9,125.18 122.95,125.09 123,125 123.05,124.79 123.1,125.09 123.15,125 123.2,124.76 123.25,125.09 123.3,124.79 123.35,125.27 123.4,125.18 123.45,124.78 123.5,125.16 123.55,125.01 123.6,124.77 123.65,124.71 123.7,124.49 123.75,124.65 123.8,125.49 123.85,126.19 123.9,125.96 123.95,126.44 124,126.69 124.05,126.97 124.1,127 124.15,127.34 124.2,127.3 124.25,126.92 124.3,127.34 124.35,126.58 124.4,127.28 124.45,127.39 124.5,127.6 124.55,127.37 124.6,127.75 124.65,127.93 124.7,127.31 124.75,127.42 124.8,127.69 124.85,127.78 124.9,127.69 124.95,127.92 125,127.33 125.05,127.93 125.1,128.06 125.15,128.06 125.2,127.86 125.25,127.67 125.3,127.88 125.35,127.74 125.4,127.3 125.45,127.6 125.5,127.78 125.55,127.64 125.6,127.52 125.65,127.74 125.7,127.7 125.75,127.84 125.8,127.81 125.85,127.88 125.9,128.13 125.95,127.88 126,127.96 126.05,127.48 126.1,126.96 126.15,127.73 126.2,128.05 126.25,127.75 126.3,127.67 126.35,127.48 126.4,128.12 126.45,127.7 126.5,127.93 126.55,128.2 126.6,128.02 126.65,128.53 126.7,127.82 126.75,128.14 126.8,128.06 126.85,127.66 126.9,127.87 126.95,127.68 127,127.54 127.05,127.94 127.1,127.61 127.15,128.35 127.2,127.62 127.25,127.67 127.3,127.86 127.35,127.67 127.4,127.83 127.45,127.63 127.5,127.38 127.55,127.07 127.6,127.4 127.65,128.23 127.7,127.89 127.75,127.79 127.8,127.59 127.85,127.66 127.9,127.77 127.95,127.23 128,127.37 128.05,127.3 128.1,127.88 128.15,127.11 128.2,127.68 128.25,127.06 128.3,127.85 128.35,126.81 128.4,126.6 128.45,126.7 128.5,126.21 128.55,125.84 128.6,124.82 128.65,125.03 128.7,124.74 128.75,123.79 128.8,123.33 128.85,122.92 128.9,123.47 128.95,123.34 129,123.48 129.05,123.46 129.1,124.73 129.15,124.96 129.2,125.14 129.25,126.01 129.3,125.67 129.35,126.57 129.4,126.3 129.45,127.27 129.5,126.97 129.55,127.58 129.6,127.22 129.65,127.56 129.7,127.87 129.75,127.31 129.8,127.66 129.85,127.42 129.9,127.96 129.95,127.55 130,127.64 130.05,127.71 130.1,128.14 130.15,127.49 130.2,127.81 130.25,127.73 130.3,127.67 130.35,127.61 130.4,127.8 130.45,127.92 130.5,127.4 130.55,127.94 130.6,127.52 130.65,127.89 130.7,128.57 130.75,127.6 130.8,127.88 130.85,127.83 130.9,128.2 130.95,127.77 131,127.38 131.05,127.43 131.1,127.97 131.15,128 131.2,128.25 131.25,127.77 131.3,128.13 131.35,127.61 131.4,128.32 131.45,127.91 131.5,127.73 131.55,127.99 131.6,128.46 131.65,127.69 131.7,127.57 131.75,127.64 131.8,127.6 131.85,127.93 131.9,128.05 131.95,127.9 132.15,128.01 132.35,128.31 132.55,127.87 132.75,127.59 132.95,127.28 133.15,128.04 133.35,127.77 133.55,127.9 133.75,128.1 133.95,128.11 134.15,127.5 134.35,127.69 134.55,128 134.75,127.93 134.95,128.32 135.55,127.83 136.15,127.36 136.75,128.33 137.35,127.49 137.95,127.69 138.55,128.1 139.15,127.66 139.75,128.73 140.35,128.05 140.95,128.14 141.55,127.84 142.15,128.63 142.75,128.13 143.35,127.74 143.55,128.33 143.75,127.45 143.95,127.78 144.15,128.03 144.35,127.99 144.55,127.65 144.75,128.41 144.95,128.37 145.15,127.64 145.35,128.03 145.55,127.72 145.75,127.77 145.95,128.18 146.15,127.91 146.35,127.82 146.4,127.88 146.45,127.49 146.5,128.21 146.55,127.61 146.6,128.22 146.65,127.68 146.7,127.68 146.75,128.25 146.8,127.86 146.85,127.6 146.9,127.62 146.95,127.96 147,128.33 147.05,127.94 147.1,127.63 147.15,127.4 147.2,127.52 147.25,127.67 147.3,127.77 147.35,127.48 147.4,128.05 147.45,127.36 147.5,127.41 147.55,127.75 147.6,127.72 147.65,127.44 147.7,127.82 147.75,127.08 147.8,127.96 147.85,128.09 147.9,127.98 147.95,127.38 148,127.89 148.05,127.26 148.1,127.58 148.15,127.06 148.2,127.1 148.25,127.11 148.3,126.33 148.35,126.67 148.4,127.11 148.45,125.56 148.5,126.35 148.55,126.25 148.6,125.74 148.65,125.25 148.7,125.41 148.75,125.1 148.8,124.43 148.85,124.71 148.9,124.91 148.95,125.04 149,124.86 149.05,124.96 149.1,125.5 149.15,124.12 149.2,125.34 149.25,125.28 149.3,125.18 149.35,125 149.4,125.01 149.45,125.1 149.5,125.07 149.55,124.78 149.6,125.23 149.65,124.75 149.7,124.98 149.75,124.89 149.8,124.65 149.85,125.18 149.9,124.97 149.95,124.84 150,125.62 150.05,125.56 150.1,126.66 150.15,126.59 150.2,127.19 150.25,126.56 150.3,127.06 150.35,126.66 150.4,126.78 150.45,127.09 150.5,127.31 150.55,127.52 150.6,127.22 150.65,127.68 150.7,127.68 150.75,127.17 150.8,127.41 150.85,127.22 150.9,128.04 150.95,127.39 151,127.85 151.05,127.88 151.1,127.55 151.15,127.5 151.2,127.76 151.25,127.45 151.3,127.31 151.35,127.42 151.4,127.82 151.45,127.79 151.5,128.27 151.55,127.21 151.6,127.92 151.65,127.43 151.7,128.13 151.75,128 151.8,127.84 151.85,128.25 151.9,127.7 151.95,127.66 152,127.51 152.05,127.64 152.1,127.87 152.15,128.05 152.2,128.23 152.25,127.77 152.3,127.64 152.5,127.78 152.7,127.76 152.9,127.76 153.1,127.79 153.3,127.66 153.5,127.91 153.7,127.78 153.9,127.88 154.1,127.53 154.3,127.99 154.5,128.12 154.7,128.14 154.9,127.79 155.1,127.62 155.3,127.57 155.9,127.61 156.5,127.77 157.1,127.87 157.3,127.44 157.5,128.17 157.7,127.51 157.9,127.76 158.1,127.75 158.3,128.21 158.5,128.51 158.7,127.86 158.9,127.88 159.1,127.84 159.3,127.9 159.5,127.91 159.7,128.69 159.9,127.63 160.1,127.91 160.15,127.71 160.2,128.05 160.25,127.79 160.3,128.11 160.35,127.62 160.4,128.56 160.45,128 160.5,127.41 160.55,128.14 160.6,127.79 160.65,127.58 160.7,128.05 160.75,127.76 160.8,128.13 160.85,127.75 160.9,128.18 160.95,127.95 161,128.01 161.05,127.94 161.1,127.78 161.15,127.78 161.2,128.02 161.25,128.09 161.3,127.75 161.35,128.53 161.4,128.36 161.45,127.51 161.5,128.16 161.55,127.81 161.6,127.88 161.65,127.57 161.7,128.28 161.75,127.53 161.8,127.73 161.85,127.52 161.9,128.28 161.95,128.05 162,127.25 162.05,127.46 162.1,127.65 162.15,127.35 162.2,127.28 162.25,126.96 162.3,127.22 162.35,126.67 162.4,127.05 162.45,127.28 162.5,126.22 162.55,126.51 162.6,125.8 162.65,125.14 162.7,124.86 162.75,124.3 162.8,124.25 162.85,124.1 162.9,123.9 162.95,123.37 163,123.04 163.05,123.43 163.1,124.12 163.15,123.97 163.2,124.2 163.25,123.97 163.3,124.83 163.35,125.5 163.4,125.41 163.45,126.42 163.5,126.15 163.55,126.32 163.6,126.63 163.65,126.96 163.7,127.45 163.75,127.12 163.8,126.86 163.85,127.45 163.9,127.7 163.95,128.05 164,127.31 164.05,128.12 164.1,127.91 164.15,127.87 164.2,127.53 164.25,127.52 164.3,127.51 164.35,128.08 164.4,127.88 164.45,128.14 164.5,128.38 164.55,127.86 164.6,127.84 164.65,128.43 164.7,127.49 164.75,127.75 164.8,127.78 164.85,127.78 164.9,127.94 164.95,127.65 165,128.25 165.05,127.51 165.1,127.67 165.15,127.42 165.2,127.51 165.25,128.1 165.3,128.11 165.35,127.87 165.4,128.18 165.45,128.12 165.5,127.77 165.55,127.93 165.6,128.05 165.65,128.53 165.7,127.81 165.75,128.06 165.8,128.11 165.85,128.31 165.9,128.08 165.95,128.27 166,127.64 166.2,127.88 166.4,127.39 166.6,127.95 166.8,128.66 167,128.04 167.2,128 167.4,128.05 167.6,128.02 167.8,127.59 168,127.78 168.2,127.93 168.4,128.03 168.6,127.73 168.8,127.95 169,127.77 169.6,127.6 170.2,127.8 170.8,127.75 171.4,128.24 172,128.39 172.6,128.16 173.2,127.93 173.8,127.83 174.4,127.53 175,127.84 175.6,128.45 176.2,128.33 176.8,128.06 177.4,127.92 178,127.99 178.6,128.12 179.2,127.99 179.8,128.12 180.4,127.77 181,128.01 181.6,127.89 182.2,128.31 182.8,127.63 183.4,128.38 184,127.97 184.6,127.85 185.2,128 185.8,128.03 186.4,127.92 187,128.12 187.6,127.82 188.2,127.5 188.8,128.19 189.4,127.98 190,128.48 190.6,128.1 191.2,127.39 191.8,128.34 192,127.77 192.2,128.14 192.4,128.63 192.6,128.29 192.8,127.65 193,127.94 193.2,127.49 193.4,128.16 193.6,128.12 193.8,127.65 194,128.08 194.2,128.22 194.4,128.17 194.6,127.73 194.65,127.72 194.7,127.59 194.75,127.53 194.8,128.01 194.85,127.92 194.9,128.29 194.95,127.98 195,127.81 195.05,127.48 195.1,128.35 195.15,127.94 195.2,127.88 195.25,127.58 195.3,127.57 195.35,128.06 195.4,127.58 195.45,128.03 195.5,128.04 195.55,127.73 195.6,127.37 195.65,127.95 195.7,128.23 195.75,127.57 195.8,127.43 195.85,128.11 195.9,127.82 195.95,127.58 196,128.11 196.05,127.66 196.1,127.85 196.15,127.58 196.2,127.47 196.25,127.72 196.3,127.39 196.35,127.08 196.4,127.41 196.45,127.89 196.5,127.8 196.55,128.06 196.6,127.64 196.65,127.74 196.7,127.23 196.75,126.9 196.8,127 196.85,126.39 196.9,126.65 196.95,126.02 197,125.91 197.05,125.2 197.1,124.99 197.15,124.84 197.2,123.97 197.25,123.28 197.3,122.99 197.35,122.6 197.4,121.74 197.45,120.97 197.5,120.48 197.55,120.29 197.6,120.91 197.65,120.66 197.7,121.07 197.75,121.63 197.8,121.88 197.85,122.48 197.9,122.76 197.95,123 198,124.22 198.05,124.52 198.1,125.2 198.15,125.14 198.2,125.79 198.25,126.75 198.3,126.19 198.35,126.7 198.4,127.25 198.45,126.96 198.5,127.19 198.55,126.64 198.6,127.58 198.65,127.29 198.7,127.86 198.75,127.5 198.8,127.46 198.85,127.73 198.9,127.57 198.95,127.51 199,128.13 199.05,127.99 199.1,127.75 199.15,127.97 199.2,127.99 199.25,127.94 199.3,127.79 199.35,127.81 199.4,127.92 199.45,127.98 199.5,127.92 199.55,127.67 199.6,127.82 199.65,127.98 199.7,127.57 199.75,127.85 199.8,128.08 199.85,127.92 199.9,127.79 199.95,127.87 200,127.75 200.05,128.18 200.1,127.79 200.15,127.41 200.2,127.55 200.25,127.99 200.3,127.97 200.35,127.77 200.4,127.54 200.45,127.87 200.5,127.68 200.55,127.73 200.6,127.93 200.8,127.71 201,128.03 201.2,127.73 201.4,127.82 201.6,127.89 201.8,128.38 202,128.42 202.2,128.24 202.4,127.75 202.6,127.97 202.8,128.24 203,128.21 203.2,127.49 203.4,127.96 203.6,127.76 204.2,128.2 204.8,128.17 205.4,127.83 206,128.61 206.6,127.91 207.2,128.7 207.8,127.94 208.4,127.95 209,128.53 209.6,127.82 210.2,127.84 210.8,128.4 211.4,127.96 212,128.1 212.2,127.6 212.4,128.47 212.6,128.23 212.8,128.05 213,128.14 213.2,127.78 213.4,127.79 213.6,127.45 213.8,128.02 214,128.26 214.2,128.13 214.4,128.14 214.6,128.06 214.65,127.58 214.7,127.47 214.75,128.02 214.8,127.88 214.85,128.11 214.9,127.74 214.95,127.55 215,127.94 215.05,127.63 215.1,127.32 215.15,127.6 215.2,127.52 215.25,127.43 215.3,127.6 215.35,128.02 215.4,128.4 215.45,128.22 215.5,127.59 215.55,128.02 215.6,127.66 215.65,127.77 215.7,127.45 215.75,127.59 215.8,127.12 215.85,128.1 215.9,127.33 215.95,127.69 216,127.32 216.05,127.53 216.1,127.08 216.15,127.26 216.2,127.58 216.25,127.43 216.3,126.63 216.35,127.34 216.4,126.62 216.45,126.95 216.5,126.87 216.55,126.35 216.6,126.24 216.65,126 216.7,125.89 216.75,125.69 216.8,125.41 216.85,124.65 216.9,124.6 216.95,123.16 217,123.3 217.05,122.02 217.1,121.58 217.15,120.55 217.2,119.85 217.25,118.8 217.3,118.49 217.35,118.37 217.4,117.35 217.45,116.99 217.5,116.9 217.55,117.21 217.6,117.25 217.65,117.77 217.7,118.44 217.75,119.45 217.8,120.1 217.85,120.28 217.9,121.18 217.95,122.1 218,123.04 218.05,123.72 218.1,123.97 218.15,125.17 218.2,124.97 218.25,125.84 218.3,126.19 218.35,126.54 218.4,126.39 218.45,126.71 218.5,126.29 218.55,126.34 218.6,126.82 218.65,127.3 218.7,127.49 218.75,127.22 218.8,127.61 218.85,127.54 218.9,127.85 218.95,126.98 219,127.26 219.05,127.24 219.1,127.25 219.15,128.06 219.2,127.34 219.25,127.37 219.3,127.53 219.35,127.91 219.4,127.54 219.45,127.9 219.5,127.86 219.55,127.53 219.6,127.06 219.65,127.47 219.7,127.4 219.75,128.24 219.8,127.57 219.85,127.47 219.9,127.9 219.95,127.81 220,127.54 220.05,128.13 220.1,128.08 220.15,127.91 220.2,127.62 220.25,127.58 220.3,127.26 220.35,127.96 220.4,127.97 220.45,127.59 220.5,127.87 220.7,128.84 220.9,127.57 221.1,127.4 221.3,128.09 221.5,127.8 221.7,127.79 221.9,128.12 222.1,127.91 222.3,128.24 222.5,128.1 222.7,128.29 222.9,127.99 223.1,127.32 223.3,128.35 223.5,127.46 224.1,128.27 224.7,128.05 225.3,127.59 225.9,128 226.5,128.24" fill="none" stroke="#404c4a" stroke-width="4.2" stroke-linejoin="round" stroke-linecap="round"/>
<circle cx="65.65" cy="59.1" r="1.55" fill="none" stroke="#444" stroke-width="1.0"/>
<circle cx="65.95" cy="79.3" r="1.55" fill="none" stroke="#444" stroke-width="1.0"/>
<circle cx="65.65" cy="81.3" r="1.55" fill="none" stroke="#444" stroke-width="1.0"/>
<circle cx="65.95" cy="96.2" r="1.55" fill="none" stroke="#444" stroke-width="1.0"/>
<circle cx="65.65" cy="100.1" r="1.55" fill="none" stroke="#444" stroke-width="1.0"/>
<circle cx="65.95" cy="105.1" r="1.55" fill="none" stroke="#444" stroke-width="1.0"/>
<circle cx="65.65" cy="108.2" r="1.55" fill="none" stroke="#444" stroke-width="1.0"/>
<circle cx="65.95" cy="111" r="1.55" fill="none" stroke="#444" stroke-width="1.0"/>
<circle cx="65.65" cy="116" r="1.55" fill="none" stroke="#444" stroke-width="1.0"/>
<circle cx="65.95" cy="119.2" r="1.55" fill="none" stroke="#444" stroke-width="1.0"/>
<circle cx="122.2" cy="97.09" r="1.3" fill="none" stroke="#505050" stroke-width="0.85"/>
<circle cx="122.11" cy="100.22" r="1.3" fill="none" stroke="#505050" stroke-width="0.85"/>
<circle cx="122.05" cy="104.66" r="1.3" fill="none" stroke="#505050" stroke-width="0.85"/>
<circle cx="121.99" cy="109.58" r="1.3" fill="none" stroke="#505050" stroke-width="0.85"/>
<circle cx="121.93" cy="114.14" r="1.3" fill="none" stroke="#505050" stroke-width="0.85"/>
<circle cx="121.87" cy="117.94" r="1.3" fill="none" stroke="#505050" stroke-width="0.85"/>
<circle cx="121.78" cy="122" r="1.3" fill="none" stroke="#505050" stroke-width="0.85"/>
<circle cx="124.2" cy="97.09" r="1.3" fill="none" stroke="#505050" stroke-width="0.85"/>
<circle cx="124.29" cy="100.22" r="1.3" fill="none" stroke="#505050" stroke-width="0.85"/>
<circle cx="124.35" cy="104.66" r="1.3" fill="none" stroke="#505050" stroke-width="0.85"/>
<circle cx="124.41" cy="109.58" r="1.3" fill="none" stroke="#505050" stroke-width="0.85"/>
<circle cx="124.47" cy="114.14" r="1.3" fill="none" stroke="#505050" stroke-width="0.85"/>
<circle cx="124.53" cy="117.94" r="1.3" fill="none" stroke="#505050" stroke-width="0.85"/>
<circle cx="124.62" cy="122" r="1.3" fill="none" stroke="#505050" stroke-width="0.85"/>
<circle cx="148.3" cy="95.8" r="1.3" fill="none" stroke="#505050" stroke-width="0.85"/>
<circle cx="148.18" cy="100.4" r="1.3" fill="none" stroke="#505050" stroke-width="0.85"/>
<circle cx="148.12" cy="104.84" r="1.3" fill="none" stroke="#505050" stroke-width="0.85"/>
<circle cx="148.06" cy="109.49" r="1.3" fill="none" stroke="#505050" stroke-width="0.85"/>
<circle cx="148" cy="113.75" r="1.3" fill="none" stroke="#505050" stroke-width="0.85"/>
<circle cx="147.94" cy="117.35" r="1.3" fill="none" stroke="#505050" stroke-width="0.85"/>
<circle cx="147.85" cy="121.34" r="1.3" fill="none" stroke="#505050" stroke-width="0.85"/>
<circle cx="147.73" cy="124.4" r="1.3" fill="none" stroke="#505050" stroke-width="0.85"/>
<circle cx="150.3" cy="95.8" r="1.3" fill="none" stroke="#505050" stroke-width="0.85"/>
<circle cx="150.42" cy="100.4" r="1.3" fill="none" stroke="#505050" stroke-width="0.85"/>
<circle cx="150.48" cy="104.84" r="1.3" fill="none" stroke="#505050" stroke-width="0.85"/>
<circle cx="150.54" cy="109.49" r="1.3" fill="none" stroke="#505050" stroke-width="0.85"/>
<circle cx="150.6" cy="113.75" r="1.3" fill="none" stroke="#505050" stroke-width="0.85"/>
<circle cx="150.66" cy="117.35" r="1.3" fill="none" stroke="#505050" stroke-width="0.85"/>
<circle cx="150.75" cy="121.34" r="1.3" fill="none" stroke="#505050" stroke-width="0.85"/>
<circle cx="150.87" cy="124.4" r="1.3" fill="none" stroke="#505050" stroke-width="0.85"/>
<polyline points="34,128.3 34.6,128.3 35.2,128.3 35.8,128.3 36.4,128.3 37,128.3 37.6,128.3 38.2,128.3 38.8,128.3 39.4,128.3 40,128.3 40.6,128.3 41.2,128.3 41.8,128.3 42.4,128.3 43,128.3 43.6,128.29 44.2,128.29 44.8,128.29 45.4,128.29 46,128.29 46.6,128.29 47.2,128.29 47.8,128.29 48.4,128.29 49,128.29 49.6,128.29 50.2,128.29 50.8,128.29 51.4,128.29 52,128.29 52.6,128.29 53.2,128.28 53.8,128.28 54.4,128.28 55,128.28 55.6,128.28 56.2,128.27 56.8,128.27 57.4,128.27 58,128.26 58.6,128.25 59.2,128.25 59.8,128.23 60,128.23 60.2,128.23 60.4,128.22 60.6,128.21 60.8,128.21 61,128.2 61.2,128.19 61.4,128.18 61.6,128.17 61.8,128.15 62,128.14 62.2,128.12 62.4,128.1 62.6,128.07 62.8,128.04 62.85,128.03 62.9,128.02 62.95,128.01 63,128 63.05,127.99 63.1,127.98 63.15,127.97 63.2,127.96 63.25,127.94 63.3,127.93 63.35,127.91 63.4,127.9 63.45,127.88 63.5,127.86 63.55,127.84 63.6,127.82 63.65,127.8 63.7,127.78 63.75,127.75 63.8,127.72 63.85,127.69 63.9,127.66 63.95,127.63 64,127.59 64.05,127.55 64.1,127.51 64.15,127.46 64.2,127.41 64.25,127.35 64.3,127.29 64.35,127.22 64.4,127.14 64.45,127.06 64.5,126.96 64.55,126.86 64.6,126.74 64.65,126.6 64.7,126.45 64.75,126.28 64.8,126.08 64.85,125.86 64.9,125.59 64.95,125.28 65,124.92 65.05,124.48 65.1,123.94 65.15,123.24 65.2,122.3 65.25,120.97 65.3,119.05 65.35,116.22 65.4,112.1 65.45,106.25 65.5,98.32 65.55,88.17 65.6,76 65.65,62.65 65.7,49.77 65.75,40.01 65.8,36.3 65.85,40.01 65.9,49.77 65.95,62.65 66,76 66.05,88.17 66.1,98.32 66.15,106.25 66.2,112.1 66.25,116.22 66.3,119.05 66.35,120.97 66.4,122.3 66.45,123.24 66.5,123.94 66.55,124.48 66.6,124.92 66.65,125.28 66.7,125.59 66.75,125.86 66.8,126.08 66.85,126.28 66.9,126.45 66.95,126.6 67,126.74 67.05,126.86 67.1,126.96 67.15,127.06 67.2,127.14 67.25,127.22 67.3,127.29 67.35,127.35 67.4,127.41 67.45,127.46 67.5,127.51 67.55,127.55 67.6,127.59 67.65,127.63 67.7,127.66 67.75,127.69 67.8,127.72 67.85,127.75 67.9,127.78 67.95,127.8 68,127.82 68.05,127.84 68.1,127.86 68.15,127.88 68.2,127.9 68.25,127.91 68.3,127.93 68.35,127.94 68.4,127.96 68.45,127.97 68.5,127.98 68.55,127.99 68.6,128 68.65,128.01 68.7,128.02 68.75,128.03 68.8,128.04 68.85,128.05 69.05,128.08 69.25,128.1 69.45,128.13 69.65,128.14 69.85,128.16 70.05,128.17 70.25,128.18 70.45,128.19 70.65,128.2 70.85,128.21 71.05,128.21 71.25,128.22 71.45,128.23 71.65,128.23 71.85,128.24 72.45,128.25 73.05,128.25 73.65,128.26 74.25,128.27 74.85,128.27 75.45,128.27 76.05,128.28 76.65,128.28 77.25,128.28 77.85,128.28 78.45,128.28 79.05,128.29 79.65,128.29 80.25,128.29 80.85,128.29 81.45,128.29 82.05,128.29 82.65,128.29 83.25,128.29 83.85,128.29 84.45,128.29 85.05,128.29 85.65,128.29 86.25,128.29 86.85,128.29 87.45,128.29 88.05,128.29 88.65,128.29 89.25,128.29 89.85,128.29 90.45,128.29 91.05,128.29 91.65,128.29 92.25,128.29 92.85,128.29 93.45,128.3 94.05,128.3 94.65,128.3 95.25,128.3 95.85,128.3 96.45,128.3 97.05,128.3 97.65,128.3 98.25,128.3 98.85,128.3 99.45,128.3 100.05,128.3 100.65,128.3 101.25,128.29 101.85,128.29 102.45,128.29 103.05,128.29 103.65,128.29 104.25,128.29 104.85,128.29 105.45,128.29 106.05,128.29 106.65,128.29 107.25,128.29 107.85,128.29 108.45,128.29 109.05,128.29 109.65,128.29 110.25,128.29 110.85,128.29 111.45,128.29 112.05,128.29 112.65,128.29 113.25,128.29 113.85,128.29 114.45,128.28 115.05,128.28 115.65,128.28 116.25,128.28 116.85,128.27 117.45,128.27 117.65,128.26 117.85,128.26 118.05,128.26 118.25,128.26 118.45,128.25 118.65,128.25 118.85,128.24 119.05,128.24 119.25,128.23 119.45,128.23 119.65,128.22 119.85,128.21 120.05,128.2 120.25,128.18 120.3,128.18 120.35,128.17 120.4,128.17 120.45,128.17 120.5,128.16 120.55,128.16 120.6,128.15 120.65,128.14 120.7,128.14 120.75,128.13 120.8,128.13 120.85,128.12 120.9,128.11 120.95,128.1 121,128.09 121.05,128.08 121.1,128.07 121.15,128.06 121.2,128.05 121.25,128.04 121.3,128.03 121.35,128.01 121.4,128 121.45,127.98 121.5,127.96 121.55,127.94 121.6,127.92 121.65,127.9 121.7,127.87 121.75,127.84 121.8,127.81 121.85,127.77 121.9,127.73 121.95,127.69 122,127.64 122.05,127.59 122.1,127.52 122.15,127.45 122.2,127.37 122.25,127.28 122.3,127.17 122.35,127.04 122.4,126.89 122.45,126.7 122.5,126.46 122.55,126.14 122.6,125.69 122.65,125.07 122.7,124.19 122.75,122.96 122.8,121.26 122.85,119.01 122.9,116.15 122.95,112.69 123,108.77 123.05,104.66 123.1,100.88 123.15,98.11 123.2,97.09 123.25,98.11 123.3,100.88 123.35,104.66 123.4,108.76 123.45,112.69 123.5,116.14 123.55,119.01 123.6,121.26 123.65,122.96 123.7,124.19 123.75,125.07 123.8,125.69 123.85,126.13 123.9,126.45 123.95,126.69 124,126.88 124.05,127.04 124.1,127.16 124.15,127.27 124.2,127.37 124.25,127.45 124.3,127.52 124.35,127.58 124.4,127.63 124.45,127.68 124.5,127.73 124.55,127.76 124.6,127.8 124.65,127.83 124.7,127.86 124.75,127.88 124.8,127.91 124.85,127.93 124.9,127.95 124.95,127.97 125,127.98 125.05,128 125.1,128.01 125.15,128.02 125.2,128.04 125.25,128.05 125.3,128.06 125.35,128.07 125.4,128.07 125.45,128.08 125.5,128.09 125.55,128.1 125.6,128.1 125.65,128.11 125.7,128.11 125.75,128.12 125.8,128.12 125.85,128.13 125.9,128.13 125.95,128.14 126,128.14 126.05,128.14 126.1,128.14 126.15,128.15 126.2,128.15 126.25,128.15 126.3,128.15 126.35,128.15 126.4,128.16 126.45,128.16 126.5,128.16 126.55,128.16 126.6,128.16 126.65,128.16 126.7,128.16 126.75,128.16 126.8,128.16 126.85,128.16 126.9,128.15 126.95,128.15 127,128.15 127.05,128.15 127.1,128.15 127.15,128.14 127.2,128.14 127.25,128.13 127.3,128.13 127.35,128.12 127.4,128.12 127.45,128.11 127.5,128.1 127.55,128.09 127.6,128.08 127.65,128.07 127.7,128.06 127.75,128.04 127.8,128.03 127.85,128.01 127.9,127.98 127.95,127.95 128,127.91 128.05,127.87 128.1,127.81 128.15,127.73 128.2,127.63 128.25,127.5 128.3,127.34 128.35,127.13 128.4,126.89 128.45,126.59 128.5,126.25 128.55,125.86 128.6,125.44 128.65,124.99 128.7,124.54 128.75,124.12 128.8,123.78 128.85,123.55 128.9,123.47 128.95,123.55 129,123.78 129.05,124.13 129.1,124.54 129.15,124.99 129.2,125.44 129.25,125.87 129.3,126.26 129.35,126.6 129.4,126.9 129.45,127.15 129.5,127.35 129.55,127.51 129.6,127.64 129.65,127.74 129.7,127.82 129.75,127.88 129.8,127.93 129.85,127.97 129.9,128 129.95,128.03 130,128.05 130.05,128.07 130.1,128.09 130.15,128.1 130.2,128.11 130.25,128.12 130.3,128.13 130.35,128.14 130.4,128.15 130.45,128.16 130.5,128.17 130.55,128.17 130.6,128.18 130.65,128.19 130.7,128.19 130.75,128.2 130.8,128.2 130.85,128.2 130.9,128.21 130.95,128.21 131,128.21 131.05,128.22 131.1,128.22 131.15,128.22 131.2,128.23 131.25,128.23 131.3,128.23 131.35,128.23 131.4,128.23 131.45,128.24 131.5,128.24 131.55,128.24 131.6,128.24 131.65,128.24 131.7,128.24 131.75,128.25 131.8,128.25 131.85,128.25 131.9,128.25 131.95,128.25 132.15,128.25 132.35,128.26 132.55,128.26 132.75,128.26 132.95,128.27 133.15,128.27 133.35,128.27 133.55,128.27 133.75,128.27 133.95,128.27 134.15,128.27 134.35,128.28 134.55,128.28 134.75,128.28 134.95,128.28 135.55,128.28 136.15,128.28 136.75,128.28 137.35,128.28 137.95,128.28 138.55,128.28 139.15,128.28 139.75,128.28 140.35,128.28 140.95,128.28 141.55,128.27 142.15,128.27 142.75,128.27 143.35,128.26 143.55,128.26 143.75,128.25 143.95,128.25 144.15,128.25 144.35,128.24 144.55,128.24 144.75,128.24 144.95,128.23 145.15,128.22 145.35,128.22 145.55,128.21 145.75,128.2 145.95,128.19 146.15,128.17 146.35,128.16 146.4,128.15 146.45,128.15 146.5,128.14 146.55,128.13 146.6,128.13 146.65,128.12 146.7,128.12 146.75,128.11 146.8,128.1 146.85,128.09 146.9,128.08 146.95,128.08 147,128.07 147.05,128.06 147.1,128.05 147.15,128.03 147.2,128.02 147.25,128.01 147.3,127.99 147.35,127.98 147.4,127.96 147.45,127.94 147.5,127.92 147.55,127.9 147.6,127.88 147.65,127.86 147.7,127.83 147.75,127.8 147.8,127.77 147.85,127.73 147.9,127.69 147.95,127.65 148,127.6 148.05,127.54 148.1,127.48 148.15,127.42 148.2,127.34 148.25,127.25 148.3,127.15 148.35,127.03 148.4,126.9 148.45,126.73 148.5,126.53 148.55,126.28 148.6,125.94 148.65,125.49 148.7,124.87 148.75,124.03 148.8,122.88 148.85,121.34 148.9,119.33 148.95,116.81 149,113.75 149.05,110.23 149.1,106.4 149.15,102.55 149.2,99.12 149.25,96.68 149.3,95.8 149.35,96.68 149.4,99.12 149.45,102.55 149.5,106.4 149.55,110.23 149.6,113.75 149.65,116.8 149.7,119.33 149.75,121.34 149.8,122.88 149.85,124.03 149.9,124.87 149.95,125.49 150,125.94 150.05,126.28 150.1,126.53 150.15,126.73 150.2,126.9 150.25,127.03 150.3,127.15 150.35,127.25 150.4,127.34 150.45,127.42 150.5,127.48 150.55,127.54 150.6,127.6 150.65,127.65 150.7,127.69 150.75,127.73 150.8,127.77 150.85,127.8 150.9,127.83 150.95,127.86 151,127.88 151.05,127.9 151.1,127.92 151.15,127.94 151.2,127.96 151.25,127.98 151.3,127.99 151.35,128.01 151.4,128.02 151.45,128.03 151.5,128.04 151.55,128.06 151.6,128.07 151.65,128.07 151.7,128.08 151.75,128.09 151.8,128.1 151.85,128.11 151.9,128.11 151.95,128.12 152,128.13 152.05,128.13 152.1,128.14 152.15,128.14 152.2,128.15 152.25,128.15 152.3,128.16 152.5,128.17 152.7,128.19 152.9,128.2 153.1,128.21 153.3,128.22 153.5,128.22 153.7,128.23 153.9,128.24 154.1,128.24 154.3,128.24 154.5,128.25 154.7,128.25 154.9,128.25 155.1,128.26 155.3,128.26 155.9,128.26 156.5,128.27 157.1,128.27 157.3,128.27 157.5,128.27 157.7,128.27 157.9,128.27 158.1,128.27 158.3,128.27 158.5,128.27 158.7,128.26 158.9,128.26 159.1,128.26 159.3,128.26 159.5,128.26 159.7,128.25 159.9,128.25 160.1,128.24 160.15,128.24 160.2,128.24 160.25,128.24 160.3,128.24 160.35,128.24 160.4,128.23 160.45,128.23 160.5,128.23 160.55,128.23 160.6,128.23 160.65,128.22 160.7,128.22 160.75,128.22 160.8,128.21 160.85,128.21 160.9,128.21 160.95,128.2 161,128.2 161.05,128.2 161.1,128.19 161.15,128.19 161.2,128.18 161.25,128.18 161.3,128.17 161.35,128.16 161.4,128.15 161.45,128.15 161.5,128.14 161.55,128.13 161.6,128.12 161.65,128.1 161.7,128.09 161.75,128.07 161.8,128.06 161.85,128.03 161.9,128.01 161.95,127.98 162,127.94 162.05,127.9 162.1,127.84 162.15,127.77 162.2,127.69 162.25,127.58 162.3,127.45 162.35,127.29 162.4,127.1 162.45,126.87 162.5,126.61 162.55,126.32 162.6,125.99 162.65,125.64 162.7,125.26 162.75,124.88 162.8,124.52 162.85,124.19 162.9,123.92 162.95,123.75 163,123.69 163.05,123.75 163.1,123.92 163.15,124.19 163.2,124.52 163.25,124.88 163.3,125.26 163.35,125.64 163.4,125.99 163.45,126.32 163.5,126.62 163.55,126.88 163.6,127.1 163.65,127.29 163.7,127.45 163.75,127.58 163.8,127.69 163.85,127.77 163.9,127.84 163.95,127.9 164,127.94 164.05,127.98 164.1,128.01 164.15,128.04 164.2,128.06 164.25,128.08 164.3,128.09 164.35,128.11 164.4,128.12 164.45,128.13 164.5,128.14 164.55,128.15 164.6,128.16 164.65,128.17 164.7,128.17 164.75,128.18 164.8,128.18 164.85,128.19 164.9,128.2 164.95,128.2 165,128.2 165.05,128.21 165.1,128.21 165.15,128.22 165.2,128.22 165.25,128.22 165.3,128.23 165.35,128.23 165.4,128.23 165.45,128.23 165.5,128.24 165.55,128.24 165.6,128.24 165.65,128.24 165.7,128.24 165.75,128.25 165.8,128.25 165.85,128.25 165.9,128.25 165.95,128.25 166,128.25 166.2,128.26 166.4,128.26 166.6,128.27 166.8,128.27 167,128.27 167.2,128.27 167.4,128.28 167.6,128.28 167.8,128.28 168,128.28 168.2,128.28 168.4,128.28 168.6,128.28 168.8,128.28 169,128.28 169.6,128.29 170.2,128.29 170.8,128.29 171.4,128.29 172,128.29 172.6,128.29 173.2,128.29 173.8,128.29 174.4,128.29 175,128.29 175.6,128.29 176.2,128.29 176.8,128.29 177.4,128.29 178,128.29 178.6,128.29 179.2,128.29 179.8,128.29 180.4,128.29 181,128.29 181.6,128.29 182.2,128.29 182.8,128.29 183.4,128.29 184,128.29 184.6,128.29 185.2,128.29 185.8,128.29 186.4,128.29 187,128.29 187.6,128.29 188.2,128.29 188.8,128.29 189.4,128.29 190,128.29 190.6,128.28 191.2,128.28 191.8,128.28 192,128.28 192.2,128.27 192.4,128.27 192.6,128.27 192.8,128.27 193,128.27 193.2,128.26 193.4,128.26 193.6,128.26 193.8,128.25 194,128.25 194.2,128.24 194.4,128.23 194.6,128.22 194.65,128.22 194.7,128.22 194.75,128.22 194.8,128.21 194.85,128.21 194.9,128.21 194.95,128.2 195,128.2 195.05,128.2 195.1,128.19 195.15,128.19 195.2,128.18 195.25,128.18 195.3,128.17 195.35,128.17 195.4,128.16 195.45,128.16 195.5,128.15 195.55,128.14 195.6,128.14 195.65,128.13 195.7,128.12 195.75,128.11 195.8,128.1 195.85,128.09 195.9,128.08 195.95,128.07 196,128.05 196.05,128.04 196.1,128.02 196.15,128 196.2,127.98 196.25,127.96 196.3,127.93 196.35,127.9 196.4,127.87 196.45,127.83 196.5,127.78 196.55,127.72 196.6,127.65 196.65,127.56 196.7,127.46 196.75,127.32 196.8,127.16 196.85,126.97 196.9,126.73 196.95,126.46 197,126.13 197.05,125.75 197.1,125.33 197.15,124.85 197.2,124.33 197.25,123.78 197.3,123.21 197.35,122.64 197.4,122.09 197.45,121.61 197.5,121.23 197.55,120.98 197.6,120.9 197.65,120.98 197.7,121.23 197.75,121.61 197.8,122.09 197.85,122.64 197.9,123.21 197.95,123.78 198,124.33 198.05,124.85 198.1,125.33 198.15,125.75 198.2,126.13 198.25,126.46 198.3,126.73 198.35,126.97 198.4,127.16 198.45,127.32 198.5,127.46 198.55,127.56 198.6,127.65 198.65,127.72 198.7,127.78 198.75,127.83 198.8,127.87 198.85,127.9 198.9,127.93 198.95,127.96 199,127.98 199.05,128 199.1,128.02 199.15,128.04 199.2,128.05 199.25,128.06 199.3,128.08 199.35,128.09 199.4,128.1 199.45,128.11 199.5,128.12 199.55,128.13 199.6,128.14 199.65,128.14 199.7,128.15 199.75,128.16 199.8,128.16 199.85,128.17 199.9,128.17 199.95,128.18 200,128.18 200.05,128.19 200.1,128.19 200.15,128.19 200.2,128.2 200.25,128.2 200.3,128.21 200.35,128.21 200.4,128.21 200.45,128.21 200.5,128.22 200.55,128.22 200.6,128.22 200.8,128.23 201,128.24 201.2,128.24 201.4,128.25 201.6,128.25 201.8,128.26 202,128.26 202.2,128.26 202.4,128.26 202.6,128.27 202.8,128.27 203,128.27 203.2,128.27 203.4,128.27 203.6,128.27 204.2,128.28 204.8,128.28 205.4,128.28 206,128.28 206.6,128.28 207.2,128.28 207.8,128.28 208.4,128.28 209,128.28 209.6,128.27 210.2,128.27 210.8,128.27 211.4,128.26 212,128.25 212.2,128.25 212.4,128.25 212.6,128.24 212.8,128.24 213,128.24 213.2,128.23 213.4,128.22 213.6,128.22 213.8,128.21 214,128.2 214.2,128.18 214.4,128.17 214.6,128.15 214.65,128.15 214.7,128.14 214.75,128.14 214.8,128.13 214.85,128.12 214.9,128.12 214.95,128.11 215,128.1 215.05,128.1 215.1,128.09 215.15,128.08 215.2,128.07 215.25,128.06 215.3,128.05 215.35,128.04 215.4,128.03 215.45,128.01 215.5,128 215.55,127.99 215.6,127.97 215.65,127.95 215.7,127.94 215.75,127.92 215.8,127.89 215.85,127.87 215.9,127.85 215.95,127.82 216,127.79 216.05,127.75 216.1,127.71 216.15,127.67 216.2,127.61 216.25,127.55 216.3,127.48 216.35,127.39 216.4,127.29 216.45,127.17 216.5,127.02 216.55,126.84 216.6,126.63 216.65,126.37 216.7,126.07 216.75,125.72 216.8,125.32 216.85,124.85 216.9,124.32 216.95,123.74 217,123.09 217.05,122.39 217.1,121.66 217.15,120.89 217.2,120.12 217.25,119.37 217.3,118.68 217.35,118.07 217.4,117.6 217.45,117.3 217.5,117.2 217.55,117.3 217.6,117.6 217.65,118.07 217.7,118.68 217.75,119.37 217.8,120.12 217.85,120.89 217.9,121.66 217.95,122.39 218,123.09 218.05,123.74 218.1,124.32 218.15,124.85 218.2,125.32 218.25,125.72 218.3,126.07 218.35,126.37 218.4,126.63 218.45,126.84 218.5,127.02 218.55,127.17 218.6,127.29 218.65,127.39 218.7,127.48 218.75,127.55 218.8,127.61 218.85,127.67 218.9,127.71 218.95,127.75 219,127.79 219.05,127.82 219.1,127.85 219.15,127.87 219.2,127.9 219.25,127.92 219.3,127.94 219.35,127.95 219.4,127.97 219.45,127.99 219.5,128 219.55,128.02 219.6,128.03 219.65,128.04 219.7,128.05 219.75,128.06 219.8,128.07 219.85,128.08 219.9,128.09 219.95,128.1 220,128.1 220.05,128.11 220.1,128.12 220.15,128.13 220.2,128.13 220.25,128.14 220.3,128.14 220.35,128.15 220.4,128.15 220.45,128.16 220.5,128.16 220.7,128.18 220.9,128.19 221.1,128.2 221.3,128.21 221.5,128.22 221.7,128.23 221.9,128.23 222.1,128.24 222.3,128.24 222.5,128.25 222.7,128.25 222.9,128.26 223.1,128.26 223.3,128.26 223.5,128.26 224.1,128.27 224.7,128.27 225.3,128.28 225.9,128.28 226.5,128.28" fill="none" stroke="#ea585e" stroke-width="1.7" stroke-linejoin="round"/>
<circle cx="65.8" cy="36.1" r="1.6" fill="#fff" stroke="#555" stroke-width="0.9"/>
<circle cx="123.2" cy="96.5" r="1.6" fill="#fff" stroke="#555" stroke-width="0.9"/>
<circle cx="149.3" cy="95.2" r="1.6" fill="#fff" stroke="#555" stroke-width="0.9"/>
<line x1="66" y1="135.2" x2="66" y2="139.5" stroke="#4fbf5f" stroke-width="1.1"/>
<line x1="105.4" y1="135.2" x2="105.4" y2="139.5" stroke="#4fbf5f" stroke-width="1.1"/>
<line x1="123.6" y1="135.2" x2="123.6" y2="139.5" stroke="#4fbf5f" stroke-width="1.1"/>
<line x1="129.1" y1="135.2" x2="129.1" y2="139.5" stroke="#4fbf5f" stroke-width="1.1"/>
<line x1="149.4" y1="135.2" x2="149.4" y2="139.5" stroke="#4fbf5f" stroke-width="1.1"/>
<line x1="163.7" y1="135.2" x2="163.7" y2="139.5" stroke="#4fbf5f" stroke-width="1.1"/>
<line x1="185.4" y1="135.2" x2="185.4" y2="139.5" stroke="#4fbf5f" stroke-width="1.1"/>
<line x1="197.6" y1="135.2" x2="197.6" y2="139.5" stroke="#4fbf5f" stroke-width="1.1"/>
<line x1="217.6" y1="135.2" x2="217.6" y2="139.5" stroke="#4fbf5f" stroke-width="1.1"/>
<line x1="127.3" y1="139.6" x2="127.3" y2="143.7" stroke="#b98ad8" stroke-width="1.1"/>
<line x1="147.3" y1="139.6" x2="147.3" y2="143.7" stroke="#b98ad8" stroke-width="1.1"/>
<line x1="214.2" y1="139.6" x2="214.2" y2="143.7" stroke="#b98ad8" stroke-width="1.1"/>
<polyline points="33.9,150.36 34.4,150.5 34.9,150.32 35.4,150.23 35.9,150.23 36.4,150.48 36.9,150.33 37.4,150.15 37.9,150.07 38.4,150.04 38.9,149.99 39.4,149.9 39.9,149.51 40.4,149.87 40.9,149.5 41.4,149.16 41.9,149.62 42.4,149.24 42.9,149.34 43.4,149.29 43.9,149.15 44.4,149.28 44.9,149.1 45.4,149.06 45.9,148.91 46.4,149 46.9,148.85 47.4,149.01 47.9,149.22 48.4,149.17 48.9,149.08 49.4,148.81 49.9,149.23 50.4,149.24 50.9,149.47 51.4,148.81 51.9,149.23 52.4,149.23 52.9,149.52 53.4,149.23 53.9,149.41 54.4,149.92 54.9,149.78 55.4,149.37 55.9,149.77 56.4,150.06 56.9,149.81 57.4,150.08 57.9,150.07 58.4,149.89 58.9,150.08 59.4,150.44 59.9,150.51 60.4,150.27 60.9,150.61 61.4,150.36 61.9,150.56 62.4,150.56 62.9,150.39 63.4,150.69 63.9,150.6 64.4,150.25 64.9,149.82 65.4,148.53 65.9,151.3 66.4,152.74 66.9,150.69 67.4,150.42 67.9,150.98 68.4,150.85 68.9,150.89 69.4,150.82 69.9,150.87 70.4,150.83 70.9,150.69 71.4,150.63 71.9,150.9 72.4,151.05 72.9,150.93 73.4,151.15 73.9,150.66 74.4,150.85 74.9,150.79 75.4,151.1 75.9,151.18 76.4,150.81 76.9,151.02 77.4,150.86 77.9,150.73 78.4,150.88 78.9,150.73 79.4,151.15 79.9,151 80.4,151.09 80.9,150.96 81.4,150.51 81.9,151.03 82.4,150.92 82.9,150.5 83.4,150.92 83.9,151.07 84.4,151.18 84.9,150.73 85.4,151.03 85.9,150.96 86.4,150.87 86.9,150.85 87.4,150.99 87.9,151 88.4,151.01 88.9,150.83 89.4,150.69 89.9,151.12 90.4,151.11 90.9,150.81 91.4,150.9 91.9,151.04 92.4,150.62 92.9,150.98 93.4,151.29 93.9,150.95 94.4,150.79 94.9,151.24 95.4,150.9 95.9,150.94 96.4,150.83 96.9,150.93 97.4,150.61 97.9,150.69 98.4,150.66 98.9,151.05 99.4,150.89 99.9,151.09 100.4,150.57 100.9,150.8 101.4,151.14 101.9,150.77 102.4,150.6 102.9,150.78 103.4,150.84 103.9,150.9 104.4,151.11 104.9,151.12 105.4,151.15 105.9,151 106.4,150.82 106.9,150.82 107.4,150.66 107.9,151.11 108.4,151.1 108.9,150.91 109.4,150.76 109.9,151.01 110.4,150.98 110.9,150.93 111.4,150.71 111.9,150.94 112.4,150.81 112.9,151.02 113.4,151 113.9,150.97 114.4,150.83 114.9,151.15 115.4,151.03 115.9,151.11 116.4,151.04 116.9,151.01 117.4,150.96 117.9,150.72 118.4,150.6 118.9,150.74 119.4,151 119.9,151.05 120.4,150.93 120.9,150.91 121.4,151.2 121.9,150.83 122.4,149.87 122.9,149.68 123.4,151.55 123.9,152.01 124.4,151.02 124.9,150.86 125.4,151.03 125.9,150.89 126.4,150.78 126.9,150.84 127.4,151.02 127.9,151.06 128.4,150.72 128.9,150.74 129.4,150.92 129.9,151.25 130.4,150.71 130.9,150.69 131.4,150.97 131.9,150.98 132.4,150.8 132.9,150.9 133.4,150.98 133.9,150.61 134.4,150.9 134.9,151 135.4,151.05 135.9,151.09 136.4,150.89 136.9,150.66 137.4,151.12 137.9,151.03 138.4,150.8 138.9,151.07 139.4,151.07 139.9,150.88 140.4,150.52 140.9,150.82 141.4,150.78 141.9,150.76 142.4,150.89 142.9,150.72 143.4,150.96 143.9,151.21 144.4,150.71 144.9,151.07 145.4,150.81 145.9,150.99 146.4,150.88 146.9,151.11 147.4,150.78 147.9,151.02 148.4,150.36 148.9,149.8 149.4,151.26 149.9,152.23 150.4,150.64 150.9,150.68 151.4,151.13 151.9,150.96 152.4,151.18 152.9,150.73 153.4,150.93 153.9,151 154.4,151.19 154.9,150.89 155.4,150.83 155.9,151.02 156.4,150.88 156.9,150.78 157.4,151.02 157.9,150.58 158.4,150.73 158.9,151.13 159.4,150.82 159.9,150.85 160.4,150.96 160.9,151.09 161.4,150.99 161.9,150.74 162.4,150.81 162.9,151.07 163.4,150.88 163.9,150.8 164.4,151.04 164.9,151.09 165.4,151.25 165.9,150.72 166.4,150.78 166.9,150.78 167.4,150.96 167.9,150.82 168.4,151.08 168.9,150.45 169.4,151.06 169.9,150.79 170.4,150.86 170.9,150.99 171.4,150.93 171.9,150.73 172.4,151.14 172.9,151 173.4,150.82 173.9,150.93 174.4,150.72 174.9,150.7 175.4,150.85 175.9,150.96 176.4,150.92 176.9,150.77 177.4,150.67 177.9,150.62 178.4,151.16 178.9,150.96 179.4,150.77 179.9,151.1 180.4,150.99 180.9,150.83 181.4,150.8 181.9,151.09 182.4,150.95 182.9,151.17 183.4,150.96 183.9,150.8 184.4,150.8 184.9,150.78 185.4,150.94 185.9,150.94 186.4,151 186.9,150.97 187.4,150.73 187.9,150.87 188.4,150.75 188.9,150.98 189.4,150.69 189.9,150.8 190.4,150.76 190.9,150.8 191.4,150.86 191.9,151.15 192.4,150.86 192.9,150.66 193.4,150.85 193.9,151.02 194.4,150.99 194.9,150.94 195.4,151.22 195.9,151.08 196.4,150.91 196.9,151.1 197.4,150.68 197.9,150.87 198.4,150.76 198.9,150.93 199.4,151.16 199.9,150.82 200.4,151.16 200.9,150.73 201.4,151.13 201.9,150.62 202.4,150.76 202.9,151.07 203.4,150.89 203.9,150.92 204.4,150.9 204.9,150.93 205.4,150.87 205.9,150.74 206.4,150.85 206.9,150.92 207.4,150.75 207.9,150.98 208.4,151.19 208.9,150.63 209.4,150.81 209.9,150.85 210.4,150.9 210.9,150.92 211.4,150.78 211.9,150.89 212.4,150.9 212.9,150.89 213.4,151.15 213.9,150.92 214.4,150.66 214.9,150.64 215.4,151 215.9,150.84 216.4,150.8 216.9,150.68 217.4,150.85 217.9,150.88 218.4,150.79 218.9,150.84 219.4,151.04 219.9,151.03 220.4,150.99 220.9,150.87 221.4,150.68 221.9,151.03 222.4,151.14 222.9,151.11 223.4,151.09 223.9,150.95 224.4,150.96 224.9,150.9 225.4,151.1 225.9,150.86 226.4,151.25" fill="none" stroke="#0a8fca" stroke-width="1.7" stroke-linejoin="round"/>
<text x="59.3" y="41" font-size="7.5" text-anchor="middle" font-weight="bold" fill="#000" transform="rotate(-90 59.3 41)" stroke="#000" stroke-width="0.28">(111)</text>
<text x="124.9" y="84.8" font-size="7.5" text-anchor="middle" font-weight="bold" fill="#000" transform="rotate(-90 124.9 84.8)" stroke="#000" stroke-width="0.28">(311)</text>
<text x="132.2" y="108.3" font-size="7.5" text-anchor="middle" font-weight="bold" fill="#000" transform="rotate(-90 132.2 108.3)" stroke="#000" stroke-width="0.28">(222)</text>
<text x="150.6" y="84.8" font-size="7.5" text-anchor="middle" font-weight="bold" fill="#000" transform="rotate(-90 150.6 84.8)" stroke="#000" stroke-width="0.28">(400)</text>
<text x="164.5" y="109.1" font-size="7.5" text-anchor="middle" font-weight="bold" fill="#000" transform="rotate(-90 164.5 109.1)" stroke="#000" stroke-width="0.28">(331)</text>
<text x="199.1" y="107.7" font-size="7.5" text-anchor="middle" font-weight="bold" fill="#000" transform="rotate(-90 199.1 107.7)" stroke="#000" stroke-width="0.28">(511)</text>
<text x="219.9" y="104" font-size="7.5" text-anchor="middle" font-weight="bold" fill="#000" transform="rotate(-90 219.9 104)" stroke="#000" stroke-width="0.28">(440)</text>
<rect x="33.2" y="15" width="194.2" height="144.5" fill="none" stroke="#000" stroke-width="1.7"/>
<line x1="33.2" y1="159.5" x2="33.2" y2="162.7" stroke="#000" stroke-width="1.4"/>
<text transform="translate(33.2 172.6) scale(1 1.06)" font-size="9.8" text-anchor="middle" font-weight="bold" fill="#000" stroke="#000" stroke-width="0.28">10</text>
<line x1="47.07" y1="159.5" x2="47.07" y2="161.1" stroke="#000" stroke-width="1.4"/>
<line x1="60.94" y1="159.5" x2="60.94" y2="162.7" stroke="#000" stroke-width="1.4"/>
<text transform="translate(60.94 172.6) scale(1 1.06)" font-size="9.8" text-anchor="middle" font-weight="bold" fill="#000" stroke="#000" stroke-width="0.28">20</text>
<line x1="74.81" y1="159.5" x2="74.81" y2="161.1" stroke="#000" stroke-width="1.4"/>
<line x1="88.69" y1="159.5" x2="88.69" y2="162.7" stroke="#000" stroke-width="1.4"/>
<text transform="translate(88.69 172.6) scale(1 1.06)" font-size="9.8" text-anchor="middle" font-weight="bold" fill="#000" stroke="#000" stroke-width="0.28">30</text>
<line x1="102.56" y1="159.5" x2="102.56" y2="161.1" stroke="#000" stroke-width="1.4"/>
<line x1="116.43" y1="159.5" x2="116.43" y2="162.7" stroke="#000" stroke-width="1.4"/>
<text transform="translate(116.43 172.6) scale(1 1.06)" font-size="9.8" text-anchor="middle" font-weight="bold" fill="#000" stroke="#000" stroke-width="0.28">40</text>
<line x1="130.3" y1="159.5" x2="130.3" y2="161.1" stroke="#000" stroke-width="1.4"/>
<line x1="144.17" y1="159.5" x2="144.17" y2="162.7" stroke="#000" stroke-width="1.4"/>
<text transform="translate(144.17 172.6) scale(1 1.06)" font-size="9.8" text-anchor="middle" font-weight="bold" fill="#000" stroke="#000" stroke-width="0.28">50</text>
<line x1="158.04" y1="159.5" x2="158.04" y2="161.1" stroke="#000" stroke-width="1.4"/>
<line x1="171.91" y1="159.5" x2="171.91" y2="162.7" stroke="#000" stroke-width="1.4"/>
<text transform="translate(171.91 172.6) scale(1 1.06)" font-size="9.8" text-anchor="middle" font-weight="bold" fill="#000" stroke="#000" stroke-width="0.28">60</text>
<line x1="185.79" y1="159.5" x2="185.79" y2="161.1" stroke="#000" stroke-width="1.4"/>
<line x1="199.66" y1="159.5" x2="199.66" y2="162.7" stroke="#000" stroke-width="1.4"/>
<text transform="translate(199.66 172.6) scale(1 1.06)" font-size="9.8" text-anchor="middle" font-weight="bold" fill="#000" stroke="#000" stroke-width="0.28">70</text>
<line x1="213.53" y1="159.5" x2="213.53" y2="161.1" stroke="#000" stroke-width="1.4"/>
<line x1="227.4" y1="159.5" x2="227.4" y2="162.7" stroke="#000" stroke-width="1.4"/>
<text transform="translate(227.4 172.6) scale(1 1.06)" font-size="9.8" text-anchor="middle" font-weight="bold" fill="#000" stroke="#000" stroke-width="0.28">80</text>
<text x="130.3" y="182.8" font-size="10.8" text-anchor="middle" font-weight="bold" fill="#000" stroke="#000" stroke-width="0.3">2 Theta (degree)</text>
<text x="27.6" y="87.25" font-size="10.8" text-anchor="middle" font-weight="bold" fill="#000" transform="rotate(-90 27.6 87.25)" stroke="#000" stroke-width="0.3">Intensity (a.u.)</text>
</g>
<text transform="translate(8.9 377.6) scale(0.92 1)" font-size="22" font-weight="bold" fill="#000" stroke="#000" stroke-width="0.5">e</text>
<line x1="33.2" y1="395.8" x2="227.2" y2="395.8" stroke="#f0e200" stroke-width="1.8"/>
<line x1="33.2" y1="428.0" x2="227.2" y2="428.0" stroke="#1ee3f2" stroke-width="1.8"/>
<line x1="33.2" y1="477.2" x2="227.2" y2="477.2" stroke="#f01ff0" stroke-width="1.8"/>
<line x1="33.2" y1="502.8" x2="227.2" y2="502.8" stroke="#f03434" stroke-width="1.8"/>
<polyline points="57.6,390.3 106.13,400.3 154.66,396 203.19,389.6" fill="none" stroke="#000" stroke-width="1.55" stroke-dasharray="4.2 2.5"/>
<polyline points="57.6,460 106.13,461.7 154.66,451.2 203.19,451.2" fill="none" stroke="#000" stroke-width="1.55" stroke-dasharray="4.2 2.5"/>
<polyline points="57.6,466.1 106.13,468.5 154.66,455.6 203.19,455" fill="none" stroke="#000" stroke-width="1.55" stroke-dasharray="4.2 2.5"/>
<polyline points="57.6,501.6 106.13,502.3 154.66,495.3 203.19,498.3" fill="none" stroke="#000" stroke-width="1.55" stroke-dasharray="4.2 2.5"/>
<polygon points="57.6,386 52.6,394.2 62.6,394.2" fill="#f2ea00" stroke="#000" stroke-width="1.2" stroke-linejoin="miter"/>
<polygon points="106.13,396 101.13,404.2 111.13,404.2" fill="#f2ea00" stroke="#000" stroke-width="1.2" stroke-linejoin="miter"/>
<polygon points="154.66,391.7 149.66,399.9 159.66,399.9" fill="#f2ea00" stroke="#000" stroke-width="1.2" stroke-linejoin="miter"/>
<polygon points="203.19,385.3 198.19,393.5 208.19,393.5" fill="#f2ea00" stroke="#000" stroke-width="1.2" stroke-linejoin="miter"/>
<circle cx="57.6" cy="460" r="4.3" fill="#19e3f0" stroke="#000" stroke-width="1.2"/>
<circle cx="106.13" cy="461.7" r="4.3" fill="#19e3f0" stroke="#000" stroke-width="1.2"/>
<circle cx="154.66" cy="451.2" r="4.3" fill="#19e3f0" stroke="#000" stroke-width="1.2"/>
<circle cx="203.19" cy="451.2" r="4.3" fill="#19e3f0" stroke="#000" stroke-width="1.2"/>
<rect x="53.7" y="462.3" width="7.8" height="7.6" fill="#f020f0" stroke="#000" stroke-width="1.2"/>
<rect x="102.23" y="464.7" width="7.8" height="7.6" fill="#f020f0" stroke="#000" stroke-width="1.2"/>
<rect x="150.76" y="451.8" width="7.8" height="7.6" fill="#f020f0" stroke="#000" stroke-width="1.2"/>
<rect x="199.29" y="451.2" width="7.8" height="7.6" fill="#f020f0" stroke="#000" stroke-width="1.2"/>
<polygon points="57.6,496.4 62.6,501.6 57.6,506.8 52.6,501.6" fill="#ee3b30" stroke="#000" stroke-width="1.2"/>
<polygon points="106.13,497.1 111.13,502.3 106.13,507.5 101.13,502.3" fill="#ee3b30" stroke="#000" stroke-width="1.2"/>
<polygon points="154.66,490.1 159.66,495.3 154.66,500.5 149.66,495.3" fill="#ee3b30" stroke="#000" stroke-width="1.2"/>
<polygon points="203.19,493.1 208.19,498.3 203.19,503.5 198.19,498.3" fill="#ee3b30" stroke="#000" stroke-width="1.2"/>
<text x="195.4" y="405.9" font-size="7.4" text-anchor="start" font-weight="bold" fill="#111" stroke="#111" stroke-width="0.15">I<tspan font-size="5.3" dy="2.8">111</tspan><tspan dy="-2.8">/I</tspan><tspan font-size="6.0" dy="2.8">BG</tspan></text>
<text x="195.4" y="436.8" font-size="7.4" text-anchor="start" font-weight="bold" fill="#111" stroke="#111" stroke-width="0.15">I<tspan font-size="5.3" dy="2.8">311</tspan><tspan dy="-2.8">/I</tspan><tspan font-size="6.0" dy="2.8">BG</tspan></text>
<text x="195.4" y="486.8" font-size="7.4" text-anchor="start" font-weight="bold" fill="#111" stroke="#111" stroke-width="0.15">I<tspan font-size="5.3" dy="2.8">400</tspan><tspan dy="-2.8">/I</tspan><tspan font-size="6.0" dy="2.8">BG</tspan></text>
<text x="195.4" y="511.5" font-size="7.4" text-anchor="start" font-weight="bold" fill="#111" stroke="#111" stroke-width="0.15">I<tspan font-size="5.3" dy="2.8">440</tspan><tspan dy="-2.8">/I</tspan><tspan font-size="6.0" dy="2.8">BG</tspan></text>
<rect x="33.2" y="375.3" width="194" height="144" fill="none" stroke="#000" stroke-width="1.7"/>
<rect x="31.2" y="421.4" width="4" height="2.4" fill="#fff"/>
<line x1="29.8" y1="422.7" x2="36.6" y2="419.7" stroke="#000" stroke-width="1.3"/>
<line x1="29.8" y1="425.5" x2="36.6" y2="422.5" stroke="#000" stroke-width="1.3"/>
<rect x="225.2" y="421.4" width="4" height="2.4" fill="#fff"/>
<line x1="223.8" y1="422.7" x2="230.6" y2="419.7" stroke="#000" stroke-width="1.3"/>
<line x1="223.8" y1="425.5" x2="230.6" y2="422.5" stroke="#000" stroke-width="1.3"/>
<rect x="31.2" y="482.6" width="4" height="2.4" fill="#fff"/>
<line x1="29.8" y1="483.9" x2="36.6" y2="480.9" stroke="#000" stroke-width="1.3"/>
<line x1="29.8" y1="486.7" x2="36.6" y2="483.7" stroke="#000" stroke-width="1.3"/>
<rect x="225.2" y="482.6" width="4" height="2.4" fill="#fff"/>
<line x1="223.8" y1="483.9" x2="230.6" y2="480.9" stroke="#000" stroke-width="1.3"/>
<line x1="223.8" y1="486.7" x2="230.6" y2="483.7" stroke="#000" stroke-width="1.3"/>
<line x1="30" y1="386.5" x2="33.2" y2="386.5" stroke="#000" stroke-width="1.4"/>
<text transform="translate(28.3 390) scale(1 1.06)" font-size="9.8" text-anchor="end" font-weight="bold" fill="#000" stroke="#000" stroke-width="0.28">4.8</text>
<line x1="30" y1="409.6" x2="33.2" y2="409.6" stroke="#000" stroke-width="1.4"/>
<text transform="translate(28.3 413.1) scale(1 1.06)" font-size="9.8" text-anchor="end" font-weight="bold" fill="#000" stroke="#000" stroke-width="0.28">4.6</text>
<line x1="30" y1="436.1" x2="33.2" y2="436.1" stroke="#000" stroke-width="1.4"/>
<text transform="translate(28.3 439.6) scale(1 1.06)" font-size="9.8" text-anchor="end" font-weight="bold" fill="#000" stroke="#000" stroke-width="0.28">2.4</text>
<line x1="30" y1="458.7" x2="33.2" y2="458.7" stroke="#000" stroke-width="1.4"/>
<text transform="translate(28.3 462.2) scale(1 1.06)" font-size="9.8" text-anchor="end" font-weight="bold" fill="#000" stroke="#000" stroke-width="0.28">2.2</text>
<line x1="30" y1="507.9" x2="33.2" y2="507.9" stroke="#000" stroke-width="1.4"/>
<text transform="translate(28.3 511.4) scale(1 1.06)" font-size="9.8" text-anchor="end" font-weight="bold" fill="#000" stroke="#000" stroke-width="0.28">1.4</text>
<line x1="57.6" y1="519.3" x2="57.6" y2="522.5" stroke="#000" stroke-width="1.4"/>
<text transform="translate(57.6 532.7) scale(1 1.06)" font-size="9.8" text-anchor="middle" font-weight="bold" fill="#000" stroke="#000" stroke-width="0.28">80</text>
<line x1="106.13" y1="519.3" x2="106.13" y2="522.5" stroke="#000" stroke-width="1.4"/>
<text transform="translate(106.13 532.7) scale(1 1.06)" font-size="9.8" text-anchor="middle" font-weight="bold" fill="#000" stroke="#000" stroke-width="0.28">110</text>
<line x1="154.66" y1="519.3" x2="154.66" y2="522.5" stroke="#000" stroke-width="1.4"/>
<text transform="translate(154.66 532.7) scale(1 1.06)" font-size="9.8" text-anchor="middle" font-weight="bold" fill="#000" stroke="#000" stroke-width="0.28">140</text>
<line x1="203.19" y1="519.3" x2="203.19" y2="522.5" stroke="#000" stroke-width="1.4"/>
<text transform="translate(203.19 532.7) scale(1 1.06)" font-size="9.8" text-anchor="middle" font-weight="bold" fill="#000" stroke="#000" stroke-width="0.28">170</text>
<text x="130.2" y="544.4" font-size="10.6" text-anchor="middle" font-weight="bold" fill="#000" stroke="#000" stroke-width="0.3">LNMO_x</text>
<text x="10.8" y="437.5" font-size="10" text-anchor="middle" font-weight="bold" fill="#000" transform="rotate(-90 10.8 437.5)" stroke="#000" stroke-width="0.3">Peak intensity ratio</text>
<text transform="translate(251.5 377.6) scale(0.92 1)" font-size="22" font-weight="bold" fill="#000" stroke="#000" stroke-width="0.5">f</text>
<defs><linearGradient id="gor" x1="0" x2="1" y1="0" y2="0"><stop offset="0" stop-color="#fdd8b2"/><stop offset="0.3" stop-color="#fccc9c"/><stop offset="0.55" stop-color="#fcc38c"/><stop offset="0.8" stop-color="#fcca98"/><stop offset="1" stop-color="#fdd8b4"/></linearGradient><linearGradient id="ggr" x1="0" x2="1" y1="0" y2="0"><stop offset="0" stop-color="#a6e6b4"/><stop offset="0.5" stop-color="#90dba4"/><stop offset="1" stop-color="#a8e6b6"/></linearGradient><linearGradient id="lgr" x1="0" x2="1" y1="0" y2="0"><stop offset="0" stop-color="#bdeec8"/><stop offset="0.6" stop-color="#86d89c"/><stop offset="1" stop-color="#ade6bb"/></linearGradient><linearGradient id="lor" x1="0" x2="1" y1="0" y2="0"><stop offset="0" stop-color="#fdd8b4"/><stop offset="0.6" stop-color="#fcc28a"/><stop offset="1" stop-color="#fdd2a8"/></linearGradient></defs>
<rect x="284" y="402.02" width="26" height="117.28" fill="url(#gor)"/>
<rect x="284" y="393.6" width="26" height="8.42" fill="url(#ggr)"/>
<text x="297" y="400.56" font-size="7.4" text-anchor="middle" font-weight="bold" fill="#1a1a1a" stroke="#1a1a1a" stroke-width="0.3">6.7%</text>
<text x="297" y="463.96" font-size="7.4" text-anchor="middle" font-weight="bold" fill="#1a1a1a" stroke="#1a1a1a" stroke-width="0.3">93.3%</text>
<rect x="332.5" y="405.42" width="26" height="113.88" fill="url(#gor)"/>
<rect x="332.5" y="393.6" width="26" height="11.82" fill="url(#ggr)"/>
<text x="345.5" y="402.26" font-size="7.4" text-anchor="middle" font-weight="bold" fill="#1a1a1a" stroke="#1a1a1a" stroke-width="0.3">9.4%</text>
<text x="345.5" y="465.66" font-size="7.4" text-anchor="middle" font-weight="bold" fill="#1a1a1a" stroke="#1a1a1a" stroke-width="0.3">90.6%</text>
<rect x="381.3" y="403.4" width="26" height="115.9" fill="url(#gor)"/>
<rect x="381.3" y="393.6" width="26" height="9.8" fill="url(#ggr)"/>
<text x="394.3" y="401.25" font-size="7.4" text-anchor="middle" font-weight="bold" fill="#1a1a1a" stroke="#1a1a1a" stroke-width="0.3">7.8%</text>
<text x="394.3" y="464.65" font-size="7.4" text-anchor="middle" font-weight="bold" fill="#1a1a1a" stroke="#1a1a1a" stroke-width="0.3">92.2%</text>
<rect x="429.7" y="403.78" width="26" height="115.52" fill="url(#gor)"/>
<rect x="429.7" y="393.6" width="26" height="10.18" fill="url(#ggr)"/>
<text x="442.7" y="401.44" font-size="7.4" text-anchor="middle" font-weight="bold" fill="#1a1a1a" stroke="#1a1a1a" stroke-width="0.3">8.1%</text>
<text x="442.7" y="464.84" font-size="7.4" text-anchor="middle" font-weight="bold" fill="#1a1a1a" stroke="#1a1a1a" stroke-width="0.3">91.6%</text>
<rect x="329.3" y="379.2" width="16" height="7.6" fill="url(#lgr)"/>
<text x="348.1" y="385.7" font-size="8" text-anchor="start" font-weight="bold" fill="#111" stroke="#111" stroke-width="0.3">Li<tspan font-size="5.4" dy="2.2">0.5</tspan><tspan dy="-2.2">Ni</tspan><tspan font-size="5.4" dy="2.2">0.5</tspan><tspan dy="-2.2">O</tspan></text>
<rect x="392.2" y="379.2" width="16" height="7.6" fill="url(#lor)"/>
<text x="410.6" y="385.7" font-size="8" text-anchor="start" font-weight="bold" fill="#111" stroke="#111" stroke-width="0.3">LiNi<tspan font-size="5.4" dy="2.2">0.5</tspan><tspan dy="-2.2">Mn</tspan><tspan font-size="5.4" dy="2.2">1.5</tspan><tspan dy="-2.2">O</tspan><tspan font-size="5.4" dy="2.2">4</tspan></text>
<rect x="272.8" y="375.4" width="194.1" height="143.9" fill="none" stroke="#000" stroke-width="1.7"/>
<line x1="269.6" y1="519.3" x2="272.8" y2="519.3" stroke="#000" stroke-width="1.4"/>
<text transform="translate(268 522.8) scale(1 1.06)" font-size="9.8" text-anchor="end" font-weight="bold" fill="#000" stroke="#000" stroke-width="0.28">0</text>
<line x1="269.6" y1="494.16" x2="272.8" y2="494.16" stroke="#000" stroke-width="1.4"/>
<text transform="translate(268 497.66) scale(1 1.06)" font-size="9.8" text-anchor="end" font-weight="bold" fill="#000" stroke="#000" stroke-width="0.28">20</text>
<line x1="269.6" y1="469.02" x2="272.8" y2="469.02" stroke="#000" stroke-width="1.4"/>
<text transform="translate(268 472.52) scale(1 1.06)" font-size="9.8" text-anchor="end" font-weight="bold" fill="#000" stroke="#000" stroke-width="0.28">40</text>
<line x1="269.6" y1="443.88" x2="272.8" y2="443.88" stroke="#000" stroke-width="1.4"/>
<text transform="translate(268 447.38) scale(1 1.06)" font-size="9.8" text-anchor="end" font-weight="bold" fill="#000" stroke="#000" stroke-width="0.28">60</text>
<line x1="269.6" y1="418.74" x2="272.8" y2="418.74" stroke="#000" stroke-width="1.4"/>
<text transform="translate(268 422.24) scale(1 1.06)" font-size="9.8" text-anchor="end" font-weight="bold" fill="#000" stroke="#000" stroke-width="0.28">80</text>
<line x1="269.6" y1="393.6" x2="272.8" y2="393.6" stroke="#000" stroke-width="1.4"/>
<text transform="translate(268 397.1) scale(1 1.06)" font-size="9.8" text-anchor="end" font-weight="bold" fill="#000" stroke="#000" stroke-width="0.28">100</text>
<line x1="297" y1="519.3" x2="297" y2="522.5" stroke="#000" stroke-width="1.4"/>
<text transform="translate(297 532.4) scale(1 1.06)" font-size="9.8" text-anchor="middle" font-weight="bold" fill="#000" stroke="#000" stroke-width="0.28">80</text>
<line x1="345.5" y1="519.3" x2="345.5" y2="522.5" stroke="#000" stroke-width="1.4"/>
<text transform="translate(345.5 532.4) scale(1 1.06)" font-size="9.8" text-anchor="middle" font-weight="bold" fill="#000" stroke="#000" stroke-width="0.28">110</text>
<line x1="394.3" y1="519.3" x2="394.3" y2="522.5" stroke="#000" stroke-width="1.4"/>
<text transform="translate(394.3 532.4) scale(1 1.06)" font-size="9.8" text-anchor="middle" font-weight="bold" fill="#000" stroke="#000" stroke-width="0.28">140</text>
<line x1="442.7" y1="519.3" x2="442.7" y2="522.5" stroke="#000" stroke-width="1.4"/>
<text transform="translate(442.7 532.4) scale(1 1.06)" font-size="9.8" text-anchor="middle" font-weight="bold" fill="#000" stroke="#000" stroke-width="0.28">170</text>
<text x="369.8" y="544.6" font-size="10.7" text-anchor="middle" font-weight="bold" fill="#000" stroke="#000" stroke-width="0.3">LNMO_<tspan font-style="italic">x</tspan></text>
<text x="247.8" y="446.9" font-size="10.7" text-anchor="middle" font-weight="bold" fill="#000" transform="rotate(-90 247.8 446.9)" stroke="#000" stroke-width="0.3">Content (%)</text>
</svg>
</body></html>
